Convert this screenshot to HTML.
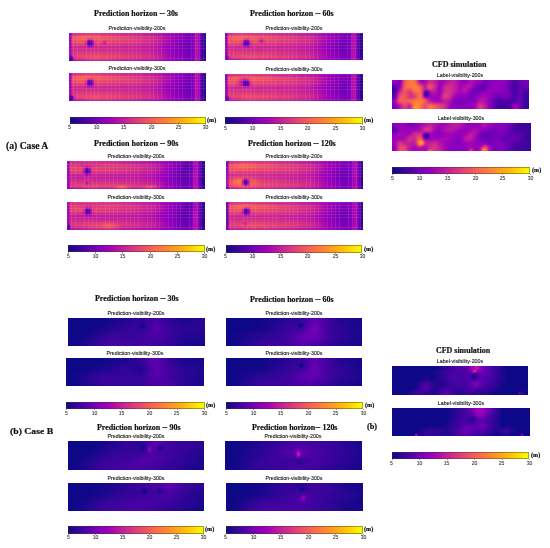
<!DOCTYPE html>
<html><head><meta charset="utf-8"><style>
html,body{margin:0;padding:0;background:#fff;}
body{width:550px;height:548px;position:relative;overflow:hidden;}
.hm{position:absolute;overflow:hidden;filter:blur(0.6px);}
.hm i{position:absolute;left:0;right:0;display:block;}
.mesh{position:absolute;left:0;top:0;right:0;bottom:0;background:repeating-linear-gradient(90deg,rgba(255,170,220,0.12) 0 0.8px,transparent 0.8px 4.2px),repeating-linear-gradient(180deg,rgba(255,170,220,0.12) 0 0.8px,transparent 0.8px 3.1px);}
.cb{position:absolute;box-sizing:border-box;background-origin:border-box;border:0.6px solid rgba(60,60,40,0.45);}

.tm{position:absolute;width:0.5px;height:1.2px;background:#999;}
.tk,.mu,.ti,.su,.lb{position:absolute;line-height:1;white-space:nowrap;transform-origin:0 0;will-change:transform;}
.tk{text-align:center;font-family:"Liberation Sans",sans-serif;color:#333;-webkit-text-stroke:0.8px #333;}
.mu{font-weight:bold;font-family:"Liberation Serif",serif;color:#111;-webkit-text-stroke:2.0px #111;}
.ti{font-weight:bold;font-family:"Liberation Serif",serif;color:#111;-webkit-text-stroke:2.0px #111;}
.su{text-align:center;font-family:"Liberation Sans",sans-serif;color:#111;-webkit-text-stroke:1.0px #111;}
.lb{font-weight:bold;font-family:"Liberation Serif",serif;color:#111;-webkit-text-stroke:2.0px #111;}
</style></head><body>
<div class="hm" style="left:69px;top:32.5px;width:136.7px;height:28.3px"><i style="top:0.00%;height:3.97%;background:linear-gradient(90deg,#5f00b0 0.4%,#8800bd 1.1%,#a907b3 1.8%,#c31f9b 2.6%,#d12d8b 9.9%,#ce2b8e 30.3%,#c21e9c 50.0%,#9a00bb 74.8%,#7400b9 90.1%,#8200bd 90.9%,#9d00ba 91.6%,#b10eac 92.3%,#b613a8 93.8%,#8f00bd 95.3%,#7800ba 96.0%,#5f00b0 96.7%,#2f0596 97.4%,#2c0594 99.6%)"></i><i style="top:3.57%;height:3.97%;background:linear-gradient(90deg,#6100b1 0.4%,#8d00bd 1.1%,#b20fab 1.8%,#d12d8b 2.6%,#e03f77 9.9%,#c01c9e 58.0%,#9600bc 77.0%,#7400b9 90.1%,#8200bd 90.9%,#9d00ba 91.6%,#b10eac 92.3%,#b613a8 93.8%,#8f00bd 95.3%,#7800ba 96.0%,#5f00b0 96.7%,#2f0596 97.4%,#2c0594 99.6%)"></i><i style="top:7.14%;height:3.97%;background:linear-gradient(90deg,#6300b2 0.4%,#9300bd 1.1%,#bb18a3 1.8%,#dc3a7c 2.6%,#ec5065 9.9%,#e94b6a 17.9%,#c52198 60.9%,#9b00bb 76.3%,#7400b9 90.1%,#8200bd 90.9%,#9d00ba 91.6%,#b10eac 92.3%,#b613a8 93.8%,#8f00bd 95.3%,#7800ba 96.0%,#5f00b0 96.7%,#2f0596 97.4%,#2c0594 99.6%)"></i><i style="top:10.71%;height:3.97%;background:linear-gradient(90deg,#6500b3 0.4%,#9800bc 1.1%,#e7486d 2.6%,#f86253 10.6%,#cb2792 62.4%,#9800bc 77.7%,#7200b9 90.1%,#9d00ba 91.6%,#b10eac 92.3%,#b613a8 93.8%,#8f00bd 95.3%,#7800ba 96.0%,#5f00b0 96.7%,#2f0596 97.4%,#2c0594 99.6%)"></i><i style="top:14.29%;height:3.97%;background:linear-gradient(90deg,#6700b4 0.4%,#9b00bb 1.1%,#ee5263 2.6%,#fe6e48 9.9%,#f35b5a 15.7%,#f76154 20.1%,#d22e8a 61.7%,#9a00bb 77.7%,#7200b9 90.1%,#9d00ba 91.6%,#b10eac 92.3%,#b613a8 93.8%,#8f00bd 95.3%,#7800ba 96.0%,#5f00b0 96.7%,#2f0596 97.4%,#2c0594 99.6%)"></i><i style="top:17.86%;height:3.97%;background:linear-gradient(90deg,#6c00b6 0.4%,#9b00bb 1.1%,#ed5164 2.6%,#fa674e 9.9%,#f76154 12.0%,#e5466f 15.7%,#f3595c 18.6%,#f35b5a 21.5%,#d12d8b 61.7%,#a001b8 75.5%,#7200b9 90.1%,#9d00ba 91.6%,#b10eac 92.3%,#b613a8 93.8%,#8f00bd 95.3%,#7800ba 96.0%,#5f00b0 96.7%,#2f0596 97.4%,#2c0594 99.6%)"></i><i style="top:21.43%;height:3.97%;background:linear-gradient(90deg,#7000b8 0.4%,#9b00bb 1.1%,#ec5065 2.6%,#f76154 10.6%,#f1575e 12.0%,#ca2693 15.0%,#c92594 15.7%,#ec5065 18.6%,#f1575e 20.8%,#cf2c8c 61.7%,#9a00bb 77.0%,#7800ba 85.8%,#7200b9 90.1%,#9d00ba 91.6%,#b10eac 92.3%,#b613a8 93.8%,#8f00bd 95.3%,#7800ba 96.0%,#5f00b0 96.7%,#2f0596 97.4%,#2c0594 99.6%)"></i><i style="top:25.00%;height:3.97%;background:linear-gradient(90deg,#7600ba 0.4%,#9d00ba 1.1%,#ea4d68 2.6%,#ed5164 3.3%,#f45c59 9.9%,#f0565f 11.3%,#de3c7a 12.8%,#ae0caf 14.2%,#9a00bb 15.0%,#9600bc 15.7%,#a907b3 16.4%,#d73483 17.9%,#e44571 18.6%,#ed5164 20.1%,#eb4e67 23.7%,#e24273 25.9%,#e84a6c 29.6%,#db397e 50.7%,#cd298f 62.4%,#9800bc 77.0%,#7c00bb 84.3%,#7200b9 90.1%,#9d00ba 91.6%,#b10eac 92.3%,#b613a8 93.8%,#8f00bd 95.3%,#7800ba 96.0%,#5f00b0 96.7%,#2f0596 97.4%,#2c0594 99.6%)"></i><i style="top:28.57%;height:3.97%;background:linear-gradient(90deg,#7a00bb 0.4%,#9d00ba 1.1%,#ea4c69 2.6%,#ec5065 3.3%,#f0565f 9.9%,#e24175 12.0%,#ce2b8e 12.8%,#ab0ab1 13.5%,#7a00bb 14.2%,#5200a9 15.0%,#4e01a7 15.7%,#6e00b7 16.4%,#a102b7 17.2%,#c62297 17.9%,#db397e 18.6%,#ea4c69 20.1%,#e84a6c 23.7%,#cf2c8c 25.9%,#e5466f 28.8%,#db397e 50.0%,#cc2890 62.4%,#9a00bb 76.3%,#7200b9 88.7%,#7200b9 90.1%,#9d00ba 91.6%,#b10eac 92.3%,#b613a8 93.8%,#8f00bd 95.3%,#7800ba 96.0%,#5f00b0 96.7%,#2f0596 97.4%,#2c0594 99.6%)"></i><i style="top:32.14%;height:3.97%;background:linear-gradient(90deg,#8000bc 0.4%,#9d00ba 1.1%,#e94b6a 2.6%,#ed5164 9.1%,#e6476e 11.3%,#da387f 12.0%,#c21e9c 12.8%,#9300bd 13.5%,#5000a8 14.2%,#240691 15.0%,#1d068e 15.7%,#4502a1 16.4%,#8600bd 17.2%,#b814a6 17.9%,#d43087 18.6%,#e6476e 20.1%,#e44571 23.7%,#be1aa0 25.9%,#e14076 28.1%,#e24273 28.8%,#da387f 50.0%,#cb2792 62.4%,#9b00bb 75.5%,#7200b9 86.5%,#7200b9 90.1%,#9d00ba 91.6%,#b10eac 92.3%,#b613a8 93.8%,#8f00bd 95.3%,#7800ba 96.0%,#5f00b0 96.7%,#2f0596 97.4%,#2c0594 99.6%)"></i><i style="top:35.71%;height:3.97%;background:linear-gradient(90deg,#8400bd 0.4%,#9d00ba 1.1%,#e34472 2.6%,#e7486d 9.9%,#e14076 11.3%,#d53286 12.0%,#bb18a3 12.8%,#8c00bd 13.5%,#4a01a5 14.2%,#20068f 15.0%,#19068c 15.7%,#40039e 16.4%,#7e00bc 17.2%,#b20fab 17.9%,#ce2b8e 18.6%,#dc3a7c 19.3%,#e24273 20.8%,#e03f77 23.7%,#c31f9b 25.9%,#dd3b7b 28.1%,#df3e78 28.8%,#d73483 49.3%,#ca2693 61.7%,#9800bc 75.5%,#7000b8 86.5%,#7200b9 90.1%,#9d00ba 91.6%,#b10eac 92.3%,#b613a8 93.8%,#8f00bd 95.3%,#7800ba 96.0%,#5f00b0 96.7%,#2f0596 97.4%,#2c0594 99.6%)"></i><i style="top:39.29%;height:3.97%;background:linear-gradient(90deg,#8800bd 0.4%,#9e00b9 1.1%,#de3c7a 2.6%,#e03f77 3.3%,#e14076 9.9%,#db397e 11.3%,#bd19a1 12.8%,#9a00bb 13.5%,#6500b3 14.2%,#41039f 15.0%,#3e039d 15.7%,#5b00ae 16.4%,#8f00bd 17.2%,#b512a9 17.9%,#cc2890 18.6%,#d73483 19.3%,#dd3b7b 20.8%,#dc3a7c 23.7%,#cf2c8c 25.9%,#da387f 29.6%,#d32f88 48.5%,#c4209a 62.4%,#9800bc 74.8%,#6e00b7 86.5%,#7200b9 90.1%,#9d00ba 91.6%,#b10eac 92.3%,#b613a8 93.8%,#8f00bd 95.3%,#7800ba 96.0%,#5f00b0 96.7%,#2f0596 97.4%,#2c0594 99.6%)"></i><i style="top:42.86%;height:3.97%;background:linear-gradient(90deg,#8c00bd 0.4%,#9e00b9 1.1%,#d73483 2.6%,#d93680 3.3%,#d53286 11.3%,#c21e9c 12.8%,#8f00bd 14.2%,#7600ba 15.0%,#7400b9 15.7%,#8800bd 16.4%,#a605b5 17.2%,#cb2792 18.6%,#d73483 20.8%,#c31f9b 60.9%,#9800bc 74.1%,#6c00b6 86.5%,#7200b9 90.1%,#9d00ba 91.6%,#b10eac 92.3%,#b613a8 93.8%,#8f00bd 95.3%,#7800ba 96.0%,#5f00b0 96.7%,#2f0596 97.4%,#2c0594 99.6%)"></i><i style="top:46.43%;height:3.97%;background:linear-gradient(90deg,#8f00bd 0.4%,#9e00b9 1.1%,#cf2c8c 2.6%,#d22e8a 3.3%,#cf2c8c 11.3%,#c4209a 12.8%,#ab0ab1 14.2%,#a001b8 15.7%,#ca2693 18.6%,#d12d8b 20.8%,#c92594 50.0%,#bd19a1 62.4%,#9500bc 74.1%,#6b00b5 86.5%,#7200b9 90.1%,#9d00ba 91.6%,#b10eac 92.3%,#b613a8 93.8%,#8f00bd 95.3%,#7800ba 96.0%,#5f00b0 96.7%,#2f0596 97.4%,#2c0594 99.6%)"></i><i style="top:50.00%;height:3.97%;background:linear-gradient(90deg,#9300bd 0.4%,#9e00b9 1.1%,#c92594 2.6%,#ca2693 3.3%,#c92594 11.3%,#b411aa 15.0%,#c92594 20.1%,#c4209a 49.3%,#b915a5 62.4%,#a102b7 69.7%,#9100bd 74.1%,#6900b5 85.8%,#7200b9 90.1%,#9d00ba 91.6%,#b10eac 92.3%,#b613a8 93.8%,#8f00bd 95.3%,#7800ba 96.0%,#5f00b0 96.7%,#2f0596 97.4%,#2c0594 99.6%)"></i><i style="top:53.57%;height:3.97%;background:linear-gradient(90deg,#9300bd 0.4%,#a001b8 1.1%,#cb2792 2.6%,#cc2890 3.3%,#cc2890 11.3%,#c4209a 15.0%,#cc2890 19.3%,#c62297 50.0%,#bb18a3 62.4%,#9600bc 73.4%,#6b00b5 86.5%,#7200b9 90.1%,#9d00ba 91.6%,#b10eac 92.3%,#b613a8 93.8%,#8f00bd 95.3%,#7800ba 96.0%,#5f00b0 96.7%,#2f0596 97.4%,#2c0594 99.6%)"></i><i style="top:57.14%;height:7.54%;background:linear-gradient(90deg,#9400bd 0.4%,#a202b7 1.1%,#d12e8a 2.6%,#d22f89 3.3%,#cc2891 49.3%,#bf1b9f 62.4%,#9500bc 74.8%,#6d00b7 86.5%,#7200b9 90.1%,#9d00ba 91.6%,#b10eac 92.3%,#b613a8 93.8%,#8f00bd 95.3%,#7800ba 96.0%,#5f00b0 96.7%,#2f0596 97.4%,#2c0594 99.6%)"></i><i style="top:64.29%;height:7.54%;background:linear-gradient(90deg,#9400bd 0.4%,#a404b6 1.1%,#d73582 2.6%,#d93780 4.0%,#d63384 36.9%,#c62297 61.7%,#9900bb 74.8%,#7100b8 86.5%,#7200b9 90.1%,#9d00ba 91.6%,#b10eac 92.3%,#b613a8 93.8%,#8f00bd 95.3%,#7800ba 96.0%,#5f00b0 96.7%,#2f0596 97.4%,#2c0594 99.6%)"></i><i style="top:71.43%;height:7.54%;background:linear-gradient(90deg,#8c00bd 0.4%,#a101b8 1.1%,#db397e 2.6%,#df3e78 6.2%,#e14076 25.9%,#cc2890 60.9%,#9700bc 76.3%,#7500ba 86.5%,#7200b9 90.1%,#9d00ba 91.6%,#b10eac 92.3%,#b613a8 93.8%,#8f00bd 95.3%,#7800ba 96.0%,#5f00b0 96.7%,#2f0596 97.4%,#2c0594 99.6%)"></i><i style="top:78.57%;height:3.97%;background:linear-gradient(90deg,#7e00bc 0.4%,#9100bd 1.1%,#b20fab 1.8%,#d43087 2.6%,#e24175 4.7%,#e94b6a 20.8%,#da387f 51.5%,#cd298f 62.4%,#9a00bb 76.3%,#7200b9 90.1%,#9d00ba 91.6%,#b10eac 92.3%,#b613a8 93.8%,#8f00bd 95.3%,#7800ba 96.0%,#5f00b0 96.7%,#2f0596 97.4%,#2c0594 99.6%)"></i><i style="top:82.14%;height:3.97%;background:linear-gradient(90deg,#6b00b5 0.4%,#7000b8 1.1%,#9100bd 1.8%,#bf1b9f 2.6%,#d43087 3.3%,#df3e78 4.0%,#e5466f 5.5%,#ed5164 20.1%,#de3c7a 50.0%,#cf2c8c 62.4%,#9b00bb 76.3%,#7200b9 90.1%,#9d00ba 91.6%,#b10eac 92.3%,#b613a8 93.8%,#8f00bd 95.3%,#7800ba 96.0%,#5f00b0 96.7%,#2f0596 97.4%,#2c0594 99.6%)"></i><i style="top:85.71%;height:3.97%;background:linear-gradient(90deg,#4e01a7 0.4%,#41039f 1.1%,#4e01a7 1.8%,#8d00bd 2.6%,#be1aa0 3.3%,#d53286 4.0%,#dd3b7b 4.7%,#e94b6a 20.1%,#d93680 50.7%,#cb2792 62.4%,#9a00bb 76.3%,#7200b9 90.1%,#9d00ba 91.6%,#b10eac 92.3%,#b613a8 93.8%,#8f00bd 95.3%,#7800ba 96.0%,#5f00b0 96.7%,#2f0596 97.4%,#2c0594 99.6%)"></i><i style="top:89.29%;height:3.97%;background:linear-gradient(90deg,#3c049c 0.4%,#260591 1.1%,#240691 1.8%,#6100b1 2.6%,#a706b4 3.3%,#c62297 4.0%,#d22e8a 4.7%,#e14076 20.1%,#c52198 61.7%,#9600bc 76.3%,#7200b9 90.1%,#9d00ba 91.6%,#b10eac 92.3%,#b613a8 93.8%,#8f00bd 95.3%,#7800ba 96.0%,#5f00b0 96.7%,#2f0596 97.4%,#2c0594 99.6%)"></i><i style="top:92.86%;height:3.97%;background:linear-gradient(90deg,#3a049b 0.4%,#2e0595 1.1%,#310597 1.8%,#6500b3 2.6%,#a102b7 3.3%,#bd19a1 4.0%,#c62297 4.7%,#d83582 20.1%,#be1aa0 60.9%,#9500bc 75.5%,#7200b9 90.1%,#9d00ba 91.6%,#b10eac 92.3%,#b613a8 93.8%,#8f00bd 95.3%,#7800ba 96.0%,#5f00b0 96.7%,#2f0596 97.4%,#2c0594 99.6%)"></i><i style="top:96.43%;height:3.97%;background:linear-gradient(90deg,#4302a0 0.4%,#5b00ae 1.8%,#8400bd 2.6%,#a404b6 3.3%,#ba16a4 4.7%,#ce2b8e 20.1%,#b613a8 60.2%,#9100bd 75.5%,#7200b9 90.1%,#9d00ba 91.6%,#b10eac 92.3%,#b613a8 93.8%,#8f00bd 95.3%,#7800ba 96.0%,#5f00b0 96.7%,#2f0596 97.4%,#2c0594 99.6%)"></i><b class="mesh"></b></div>
<div class="su" style="left:86.35px;top:25.58px;width:1000px;font-size:52.0px;transform:scale(0.1020,0.1)">Prediction-visibility-200s</div>
<div class="hm" style="left:69px;top:73.2px;width:136.7px;height:28.1px"><i style="top:0.00%;height:3.97%;background:linear-gradient(90deg,#5f00b0 0.4%,#8800bd 1.1%,#a907b3 1.8%,#c31f9b 2.6%,#d12d8b 9.9%,#ce2b8e 30.3%,#c21e9c 50.0%,#9a00bb 74.8%,#7400b9 90.1%,#8200bd 90.9%,#9d00ba 91.6%,#b10eac 92.3%,#b613a8 93.8%,#8f00bd 95.3%,#7800ba 96.0%,#5f00b0 96.7%,#2f0596 97.4%,#2c0594 99.6%)"></i><i style="top:3.57%;height:3.97%;background:linear-gradient(90deg,#6100b1 0.4%,#8d00bd 1.1%,#b20fab 1.8%,#d12d8b 2.6%,#e03f77 9.9%,#c01c9e 58.0%,#9600bc 77.0%,#7400b9 90.1%,#8200bd 90.9%,#9d00ba 91.6%,#b10eac 92.3%,#b613a8 93.8%,#8f00bd 95.3%,#7800ba 96.0%,#5f00b0 96.7%,#2f0596 97.4%,#2c0594 99.6%)"></i><i style="top:7.14%;height:3.97%;background:linear-gradient(90deg,#6300b2 0.4%,#9300bd 1.1%,#bb18a3 1.8%,#dc3a7c 2.6%,#ec5065 9.9%,#e84a6c 19.3%,#c4209a 61.7%,#9b00bb 76.3%,#7400b9 90.1%,#8200bd 90.9%,#9d00ba 91.6%,#b10eac 92.3%,#b613a8 93.8%,#8f00bd 95.3%,#7800ba 96.0%,#5f00b0 96.7%,#2f0596 97.4%,#2c0594 99.6%)"></i><i style="top:10.71%;height:3.97%;background:linear-gradient(90deg,#6500b3 0.4%,#9800bc 1.1%,#e7486d 2.6%,#f86253 10.6%,#cb2792 62.4%,#9800bc 77.7%,#7200b9 90.1%,#9d00ba 91.6%,#b10eac 92.3%,#b613a8 93.8%,#8f00bd 95.3%,#7800ba 96.0%,#5f00b0 96.7%,#2f0596 97.4%,#2c0594 99.6%)"></i><i style="top:14.29%;height:3.97%;background:linear-gradient(90deg,#6700b4 0.4%,#9b00bb 1.1%,#ee5263 2.6%,#fd6d49 10.6%,#f1575e 15.7%,#f76154 20.1%,#d22e8a 61.7%,#9a00bb 77.7%,#7200b9 90.1%,#9d00ba 91.6%,#b10eac 92.3%,#b613a8 93.8%,#8f00bd 95.3%,#7800ba 96.0%,#5f00b0 96.7%,#2f0596 97.4%,#2c0594 99.6%)"></i><i style="top:17.86%;height:3.97%;background:linear-gradient(90deg,#6c00b6 0.4%,#9b00bb 1.1%,#ed5164 2.6%,#fa674e 9.9%,#f66055 12.0%,#e03f77 15.7%,#f2585d 18.6%,#f35b5a 21.5%,#d12d8b 61.7%,#a001b8 75.5%,#7200b9 90.1%,#9d00ba 91.6%,#b10eac 92.3%,#b613a8 93.8%,#8f00bd 95.3%,#7800ba 96.0%,#5f00b0 96.7%,#2f0596 97.4%,#2c0594 99.6%)"></i><i style="top:21.43%;height:3.97%;background:linear-gradient(90deg,#7000b8 0.4%,#9b00bb 1.1%,#ec5065 2.6%,#f76154 9.9%,#f55d58 11.3%,#e84a6c 12.8%,#c01c9e 15.0%,#be1aa0 15.7%,#eb4e67 18.6%,#f1575e 20.8%,#cf2c8c 61.7%,#9a00bb 77.0%,#7800ba 85.8%,#7200b9 90.1%,#9d00ba 91.6%,#b10eac 92.3%,#b613a8 93.8%,#8f00bd 95.3%,#7800ba 96.0%,#5f00b0 96.7%,#2f0596 97.4%,#2c0594 99.6%)"></i><i style="top:25.00%;height:3.97%;background:linear-gradient(90deg,#7600ba 0.4%,#9d00ba 1.1%,#ea4d68 2.6%,#ed5164 3.3%,#f45c59 9.9%,#ef5560 11.3%,#da387f 12.8%,#a303b7 14.2%,#8600bd 15.0%,#8200bd 15.7%,#9b00bb 16.4%,#d43087 17.9%,#e24273 18.6%,#ed5164 20.1%,#db397e 50.7%,#cd298f 62.4%,#9800bc 77.0%,#7c00bb 84.3%,#7200b9 90.1%,#9d00ba 91.6%,#b10eac 92.3%,#b613a8 93.8%,#8f00bd 95.3%,#7800ba 96.0%,#5f00b0 96.7%,#2f0596 97.4%,#2c0594 99.6%)"></i><i style="top:28.57%;height:3.97%;background:linear-gradient(90deg,#7a00bb 0.4%,#9d00ba 1.1%,#ea4c69 2.6%,#ec5065 3.3%,#f0565f 9.9%,#ea4d68 11.3%,#e14076 12.0%,#cb2792 12.8%,#a404b6 13.5%,#6b00b5 14.2%,#41039f 15.0%,#3e039d 15.7%,#6100b1 16.4%,#9a00bb 17.2%,#c31f9b 17.9%,#da387f 18.6%,#ea4c69 20.1%,#db397e 50.0%,#cc2890 62.4%,#9a00bb 76.3%,#7200b9 88.7%,#7200b9 90.1%,#9d00ba 91.6%,#b10eac 92.3%,#b613a8 93.8%,#8f00bd 95.3%,#7800ba 96.0%,#5f00b0 96.7%,#2f0596 97.4%,#2c0594 99.6%)"></i><i style="top:32.14%;height:3.97%;background:linear-gradient(90deg,#8000bc 0.4%,#9d00ba 1.1%,#e94b6a 2.6%,#ed5164 9.1%,#e6476e 11.3%,#da387f 12.0%,#c01c9e 12.8%,#9100bd 13.5%,#4c01a6 14.2%,#1d068e 15.0%,#16078a 15.7%,#40039e 16.4%,#8200bd 17.2%,#b613a8 17.9%,#d43087 18.6%,#e6476e 20.1%,#da387f 50.0%,#cb2792 62.4%,#9b00bb 75.5%,#7200b9 86.5%,#7200b9 90.1%,#9d00ba 91.6%,#b10eac 92.3%,#b613a8 93.8%,#8f00bd 95.3%,#7800ba 96.0%,#5f00b0 96.7%,#2f0596 97.4%,#2c0594 99.6%)"></i><i style="top:35.71%;height:3.97%;background:linear-gradient(90deg,#8400bd 0.4%,#9d00ba 1.1%,#e34472 2.6%,#e7486d 9.9%,#e14076 11.3%,#d53286 12.0%,#bd19a1 12.8%,#8f00bd 13.5%,#5000a8 14.2%,#260591 15.0%,#220690 15.7%,#4502a1 16.4%,#8200bd 17.2%,#b411aa 17.9%,#cf2c8c 18.6%,#dc3a7c 19.3%,#e24273 20.8%,#d73483 49.3%,#ca2693 61.7%,#9800bc 75.5%,#7000b8 86.5%,#7200b9 90.1%,#9d00ba 91.6%,#b10eac 92.3%,#b613a8 93.8%,#8f00bd 95.3%,#7800ba 96.0%,#5f00b0 96.7%,#2f0596 97.4%,#2c0594 99.6%)"></i><i style="top:39.29%;height:3.97%;background:linear-gradient(90deg,#8800bd 0.4%,#9e00b9 1.1%,#de3c7a 2.6%,#e03f77 3.3%,#e14076 9.9%,#db397e 11.3%,#bf1b9f 12.8%,#a001b8 13.5%,#7200b9 14.2%,#5000a8 15.0%,#4e01a7 15.7%,#6900b5 16.4%,#9600bc 17.2%,#b915a5 17.9%,#cd298f 18.6%,#dc3a7c 20.1%,#d32f88 48.5%,#c4209a 62.4%,#9800bc 74.8%,#6e00b7 86.5%,#7200b9 90.1%,#9d00ba 91.6%,#b10eac 92.3%,#b613a8 93.8%,#8f00bd 95.3%,#7800ba 96.0%,#5f00b0 96.7%,#2f0596 97.4%,#2c0594 99.6%)"></i><i style="top:42.86%;height:3.97%;background:linear-gradient(90deg,#8c00bd 0.4%,#9e00b9 1.1%,#d73483 2.6%,#d93680 3.3%,#d63384 11.3%,#c4209a 12.8%,#9b00bb 14.2%,#8800bd 15.0%,#8400bd 15.7%,#9600bc 16.4%,#c01c9e 17.9%,#d32f88 19.3%,#d73483 20.8%,#c31f9b 60.9%,#9800bc 74.1%,#6c00b6 86.5%,#7200b9 90.1%,#9d00ba 91.6%,#b10eac 92.3%,#b613a8 93.8%,#8f00bd 95.3%,#7800ba 96.0%,#5f00b0 96.7%,#2f0596 97.4%,#2c0594 99.6%)"></i><i style="top:46.43%;height:3.97%;background:linear-gradient(90deg,#8f00bd 0.4%,#9e00b9 1.1%,#cf2c8c 2.6%,#d22e8a 3.3%,#cf2c8c 11.3%,#aa09b2 15.0%,#b00dad 16.4%,#cb2792 18.6%,#d12d8b 20.8%,#c92594 50.0%,#bd19a1 62.4%,#9500bc 74.1%,#6b00b5 86.5%,#7200b9 90.1%,#9d00ba 91.6%,#b10eac 92.3%,#b613a8 93.8%,#8f00bd 95.3%,#7800ba 96.0%,#5f00b0 96.7%,#2f0596 97.4%,#2c0594 99.6%)"></i><i style="top:50.00%;height:3.97%;background:linear-gradient(90deg,#9300bd 0.4%,#9e00b9 1.1%,#c92594 2.6%,#ca2693 3.3%,#c92594 11.3%,#b915a5 15.0%,#c92594 19.3%,#c4209a 49.3%,#b915a5 62.4%,#a102b7 69.7%,#9100bd 74.1%,#6900b5 85.8%,#7200b9 90.1%,#9d00ba 91.6%,#b10eac 92.3%,#b613a8 93.8%,#8f00bd 95.3%,#7800ba 96.0%,#5f00b0 96.7%,#2f0596 97.4%,#2c0594 99.6%)"></i><i style="top:53.57%;height:3.97%;background:linear-gradient(90deg,#9300bd 0.4%,#a001b8 1.1%,#cb2792 2.6%,#cc2890 3.3%,#c62297 50.0%,#bb18a3 62.4%,#9600bc 73.4%,#6b00b5 86.5%,#7200b9 90.1%,#9d00ba 91.6%,#b10eac 92.3%,#b613a8 93.8%,#8f00bd 95.3%,#7800ba 96.0%,#5f00b0 96.7%,#2f0596 97.4%,#2c0594 99.6%)"></i><i style="top:57.14%;height:7.54%;background:linear-gradient(90deg,#9400bd 0.4%,#a202b7 1.1%,#d12e8a 2.6%,#d22f89 3.3%,#cc2891 49.3%,#bf1b9f 62.4%,#9500bc 74.8%,#6d00b7 86.5%,#7200b9 90.1%,#9d00ba 91.6%,#b10eac 92.3%,#b613a8 93.8%,#8f00bd 95.3%,#7800ba 96.0%,#5f00b0 96.7%,#2f0596 97.4%,#2c0594 99.6%)"></i><i style="top:64.29%;height:7.54%;background:linear-gradient(90deg,#9400bd 0.4%,#a404b6 1.1%,#d73582 2.6%,#d93680 3.3%,#d63384 36.9%,#c62297 61.7%,#9900bb 74.8%,#7100b8 86.5%,#7200b9 90.1%,#9d00ba 91.6%,#b10eac 92.3%,#b613a8 93.8%,#8f00bd 95.3%,#7800ba 96.0%,#5f00b0 96.7%,#2f0596 97.4%,#2c0594 99.6%)"></i><i style="top:71.43%;height:7.54%;background:linear-gradient(90deg,#8c00bd 0.4%,#9e01b9 1.1%,#d83582 2.6%,#df3e78 6.2%,#e14076 25.9%,#cc2890 60.9%,#9700bc 76.3%,#7500ba 86.5%,#7200b9 90.1%,#9d00ba 91.6%,#b10eac 92.3%,#b613a8 93.8%,#8f00bd 95.3%,#7800ba 96.0%,#5f00b0 96.7%,#2f0596 97.4%,#2c0594 99.6%)"></i><i style="top:78.57%;height:3.97%;background:linear-gradient(90deg,#7a00bb 0.4%,#8600bd 1.1%,#a102b7 1.8%,#c4209a 2.6%,#dd3b7b 4.0%,#e24273 5.5%,#e94b6a 20.8%,#da387f 51.5%,#cd298f 62.4%,#9a00bb 76.3%,#7200b9 90.1%,#9d00ba 91.6%,#b10eac 92.3%,#b613a8 93.8%,#8f00bd 95.3%,#7800ba 96.0%,#5f00b0 96.7%,#2f0596 97.4%,#2c0594 99.6%)"></i><i style="top:82.14%;height:3.97%;background:linear-gradient(90deg,#6700b4 0.4%,#5f00b0 1.1%,#6900b5 1.8%,#9a00bb 2.6%,#c01c9e 3.3%,#d83582 4.0%,#e44571 5.5%,#ed5164 20.1%,#de3c7a 50.0%,#cf2c8c 62.4%,#9b00bb 76.3%,#7200b9 90.1%,#9d00ba 91.6%,#b10eac 92.3%,#b613a8 93.8%,#8f00bd 95.3%,#7800ba 96.0%,#5f00b0 96.7%,#2f0596 97.4%,#2c0594 99.6%)"></i><i style="top:85.71%;height:3.97%;background:linear-gradient(90deg,#5000a8 0.4%,#2c0594 1.8%,#5500ab 2.6%,#a001b8 3.3%,#ca2693 4.0%,#da387f 4.7%,#e24175 7.7%,#e94b6a 20.1%,#d93680 50.7%,#cb2792 62.4%,#9a00bb 76.3%,#7200b9 90.1%,#9d00ba 91.6%,#b10eac 92.3%,#b613a8 93.8%,#8f00bd 95.3%,#7800ba 96.0%,#5f00b0 96.7%,#2f0596 97.4%,#2c0594 99.6%)"></i><i style="top:89.29%;height:3.97%;background:linear-gradient(90deg,#4702a3 0.4%,#20068f 1.8%,#4502a1 2.6%,#9100bd 3.3%,#be1aa0 4.0%,#ce2b8e 4.7%,#d73483 6.9%,#e14076 20.1%,#c52198 61.7%,#9600bc 76.3%,#7200b9 90.1%,#9d00ba 91.6%,#b10eac 92.3%,#b613a8 93.8%,#8f00bd 95.3%,#7800ba 96.0%,#5f00b0 96.7%,#2f0596 97.4%,#2c0594 99.6%)"></i><i style="top:92.86%;height:3.97%;background:linear-gradient(90deg,#4a01a5 0.4%,#4502a1 1.8%,#6900b5 2.6%,#9b00bb 3.3%,#b915a5 4.0%,#c52198 4.7%,#d83582 20.1%,#be1aa0 60.9%,#9500bc 75.5%,#7200b9 90.1%,#9d00ba 91.6%,#b10eac 92.3%,#b613a8 93.8%,#8f00bd 95.3%,#7800ba 96.0%,#5f00b0 96.7%,#2f0596 97.4%,#2c0594 99.6%)"></i><i style="top:96.43%;height:3.97%;background:linear-gradient(90deg,#4c01a6 0.4%,#6700b4 1.1%,#7400b9 1.8%,#9100bd 2.6%,#b411aa 4.0%,#ba16a4 4.7%,#ca2693 15.7%,#ce2b8e 20.1%,#b915a5 58.0%,#9100bd 75.5%,#7200b9 90.1%,#9d00ba 91.6%,#b10eac 92.3%,#b613a8 93.8%,#8f00bd 95.3%,#7800ba 96.0%,#5f00b0 96.7%,#2f0596 97.4%,#2c0594 99.6%)"></i><b class="mesh"></b></div>
<div class="su" style="left:86.35px;top:66.28px;width:1000px;font-size:52.0px;transform:scale(0.1020,0.1)">Prediction-visibility-300s</div>
<div class="hm" style="left:225.2px;top:32.7px;width:137.4px;height:27.8px"><i style="top:0.00%;height:3.97%;background:linear-gradient(90deg,#5f00b0 0.4%,#8800bd 1.1%,#a907b3 1.8%,#c31f9b 2.6%,#d12d8b 9.9%,#ce2b8e 30.3%,#c21e9c 50.0%,#9a00bb 74.8%,#7400b9 90.1%,#8200bd 90.9%,#9d00ba 91.6%,#b10eac 92.3%,#b613a8 93.8%,#8f00bd 95.3%,#7800ba 96.0%,#5f00b0 96.7%,#2f0596 97.4%,#2c0594 99.6%)"></i><i style="top:3.57%;height:3.97%;background:linear-gradient(90deg,#6100b1 0.4%,#8d00bd 1.1%,#b20fab 1.8%,#d12d8b 2.6%,#e03f77 9.9%,#c01c9e 58.0%,#9600bc 77.0%,#7400b9 90.1%,#8200bd 90.9%,#9d00ba 91.6%,#b10eac 92.3%,#b613a8 93.8%,#8f00bd 95.3%,#7800ba 96.0%,#5f00b0 96.7%,#2f0596 97.4%,#2c0594 99.6%)"></i><i style="top:7.14%;height:3.97%;background:linear-gradient(90deg,#6300b2 0.4%,#9300bd 1.1%,#bb18a3 1.8%,#dc3a7c 2.6%,#ec5065 9.9%,#e84a6c 19.3%,#c4209a 61.7%,#9b00bb 76.3%,#7400b9 90.1%,#8200bd 90.9%,#9d00ba 91.6%,#b10eac 92.3%,#b613a8 93.8%,#8f00bd 95.3%,#7800ba 96.0%,#5f00b0 96.7%,#2f0596 97.4%,#2c0594 99.6%)"></i><i style="top:10.71%;height:3.97%;background:linear-gradient(90deg,#6500b3 0.4%,#9800bc 1.1%,#e7486d 2.6%,#f86253 10.6%,#cb2792 62.4%,#9800bc 77.7%,#7200b9 90.1%,#9d00ba 91.6%,#b10eac 92.3%,#b613a8 93.8%,#8f00bd 95.3%,#7800ba 96.0%,#5f00b0 96.7%,#2f0596 97.4%,#2c0594 99.6%)"></i><i style="top:14.29%;height:3.97%;background:linear-gradient(90deg,#6700b4 0.4%,#9b00bb 1.1%,#ee5263 2.6%,#fe6e48 9.9%,#f35b5a 15.7%,#f76154 20.1%,#ed5164 26.6%,#d22e8a 61.7%,#9a00bb 77.7%,#7200b9 90.1%,#9d00ba 91.6%,#b10eac 92.3%,#b613a8 93.8%,#8f00bd 95.3%,#7800ba 96.0%,#5f00b0 96.7%,#2f0596 97.4%,#2c0594 99.6%)"></i><i style="top:17.86%;height:3.97%;background:linear-gradient(90deg,#6c00b6 0.4%,#9b00bb 1.1%,#ed5164 2.6%,#fa674e 10.6%,#e5466f 15.7%,#f45c59 20.1%,#f0565f 23.7%,#e24175 26.6%,#ec5065 29.6%,#d12d8b 61.7%,#a001b8 75.5%,#7200b9 90.1%,#9d00ba 91.6%,#b10eac 92.3%,#b613a8 93.8%,#8f00bd 95.3%,#7800ba 96.0%,#5f00b0 96.7%,#2f0596 97.4%,#2c0594 99.6%)"></i><i style="top:21.43%;height:3.97%;background:linear-gradient(90deg,#7000b8 0.4%,#9b00bb 1.1%,#ec5065 2.6%,#f76154 10.6%,#ec5065 12.8%,#cb2792 15.0%,#c92594 15.7%,#eb4e67 18.6%,#f1575e 20.8%,#ed5164 23.7%,#cd298f 26.6%,#e7486d 28.8%,#e94b6a 29.6%,#d22e8a 60.2%,#9a00bb 77.0%,#7800ba 85.8%,#7200b9 90.1%,#9d00ba 91.6%,#b10eac 92.3%,#b613a8 93.8%,#8f00bd 95.3%,#7800ba 96.0%,#5f00b0 96.7%,#2f0596 97.4%,#2c0594 99.6%)"></i><i style="top:25.00%;height:3.97%;background:linear-gradient(90deg,#7600ba 0.4%,#9d00ba 1.1%,#ea4d68 2.6%,#ed5164 3.3%,#f45c59 9.9%,#f0565f 11.3%,#e03f77 12.8%,#b20fab 14.2%,#9b00bb 15.0%,#9500bc 15.7%,#a404b6 16.4%,#d53286 17.9%,#e24273 18.6%,#ed5164 20.1%,#ea4c69 23.7%,#e24175 24.5%,#bf1b9f 25.9%,#b814a6 26.6%,#e24273 28.8%,#e7486d 30.3%,#db397e 50.7%,#cd298f 62.4%,#9800bc 77.0%,#7c00bb 84.3%,#7200b9 90.1%,#9d00ba 91.6%,#b10eac 92.3%,#b613a8 93.8%,#8f00bd 95.3%,#7800ba 96.0%,#5f00b0 96.7%,#2f0596 97.4%,#2c0594 99.6%)"></i><i style="top:28.57%;height:3.97%;background:linear-gradient(90deg,#7a00bb 0.4%,#9d00ba 1.1%,#ea4c69 2.6%,#ec5065 3.3%,#f0565f 9.9%,#e34472 12.0%,#d22e8a 12.8%,#b10eac 13.5%,#8000bc 14.2%,#5500ab 15.0%,#4c01a6 15.7%,#6900b5 16.4%,#9b00bb 17.2%,#c21e9c 17.9%,#d93680 18.6%,#e94b6a 20.1%,#e6476e 23.7%,#df3e78 24.5%,#bb18a3 25.9%,#b512a9 26.6%,#d53286 28.1%,#e34472 29.6%,#db397e 50.0%,#cc2890 62.4%,#9a00bb 76.3%,#7200b9 88.7%,#7200b9 90.1%,#9d00ba 91.6%,#b10eac 92.3%,#b613a8 93.8%,#8f00bd 95.3%,#7800ba 96.0%,#5f00b0 96.7%,#2f0596 97.4%,#2c0594 99.6%)"></i><i style="top:32.14%;height:3.97%;background:linear-gradient(90deg,#8000bc 0.4%,#9d00ba 1.1%,#e94b6a 2.6%,#ed5164 9.9%,#e7486d 11.3%,#dd3b7b 12.0%,#c62297 12.8%,#9b00bb 13.5%,#5900ad 14.2%,#280592 15.0%,#1b068d 15.7%,#3e039d 16.4%,#7c00bb 17.2%,#b20fab 17.9%,#d12d8b 18.6%,#e03f77 19.3%,#e7486d 20.8%,#e44571 23.7%,#c4209a 26.6%,#e24175 29.6%,#da387f 50.0%,#cb2792 62.4%,#9b00bb 75.5%,#7200b9 86.5%,#7200b9 90.1%,#9d00ba 91.6%,#b10eac 92.3%,#b613a8 93.8%,#8f00bd 95.3%,#7800ba 96.0%,#5f00b0 96.7%,#2f0596 97.4%,#2c0594 99.6%)"></i><i style="top:35.71%;height:3.97%;background:linear-gradient(90deg,#8400bd 0.4%,#9d00ba 1.1%,#e34472 2.6%,#e7486d 9.9%,#e24175 11.3%,#d73483 12.0%,#bf1b9f 12.8%,#9500bc 13.5%,#5400aa 14.2%,#240691 15.0%,#16078a 15.7%,#39049a 16.4%,#7400b9 17.2%,#ad0bb0 17.9%,#cb2792 18.6%,#da387f 19.3%,#e24273 20.8%,#df3e78 24.5%,#d32f88 26.6%,#de3c7a 31.0%,#ca2693 61.7%,#9800bc 75.5%,#7000b8 86.5%,#7200b9 90.1%,#9d00ba 91.6%,#b10eac 92.3%,#b613a8 93.8%,#8f00bd 95.3%,#7800ba 96.0%,#5f00b0 96.7%,#2f0596 97.4%,#2c0594 99.6%)"></i><i style="top:39.29%;height:3.97%;background:linear-gradient(90deg,#8800bd 0.4%,#9e00b9 1.1%,#de3c7a 2.6%,#e03f77 3.3%,#e14076 9.9%,#d32f88 12.0%,#c01c9e 12.8%,#9e00b9 13.5%,#6c00b6 14.2%,#4502a1 15.0%,#3e039d 15.7%,#5500ab 16.4%,#8800bd 17.2%,#b10eac 17.9%,#ca2693 18.6%,#d63384 19.3%,#dd3b7b 20.8%,#d32f88 48.5%,#c4209a 62.4%,#9800bc 74.8%,#6e00b7 86.5%,#7200b9 90.1%,#9d00ba 91.6%,#b10eac 92.3%,#b613a8 93.8%,#8f00bd 95.3%,#7800ba 96.0%,#5f00b0 96.7%,#2f0596 97.4%,#2c0594 99.6%)"></i><i style="top:42.86%;height:3.97%;background:linear-gradient(90deg,#8c00bd 0.4%,#9e00b9 1.1%,#d73483 2.6%,#d93680 3.3%,#d63384 11.3%,#c31f9b 12.8%,#9300bd 14.2%,#7800ba 15.0%,#7200b9 15.7%,#a102b7 17.2%,#ca2693 18.6%,#d73483 20.8%,#c31f9b 60.9%,#9800bc 74.1%,#6c00b6 86.5%,#7200b9 90.1%,#9d00ba 91.6%,#b10eac 92.3%,#b613a8 93.8%,#8f00bd 95.3%,#7800ba 96.0%,#5f00b0 96.7%,#2f0596 97.4%,#2c0594 99.6%)"></i><i style="top:46.43%;height:3.97%;background:linear-gradient(90deg,#8f00bd 0.4%,#9e00b9 1.1%,#cf2c8c 2.6%,#d22e8a 3.3%,#cf2c8c 11.3%,#c52198 12.8%,#ad0bb0 14.2%,#a001b8 15.7%,#c92594 18.6%,#d12d8b 20.8%,#c92594 50.0%,#bd19a1 62.4%,#9500bc 74.1%,#6b00b5 86.5%,#7200b9 90.1%,#9d00ba 91.6%,#b10eac 92.3%,#b613a8 93.8%,#8f00bd 95.3%,#7800ba 96.0%,#5f00b0 96.7%,#2f0596 97.4%,#2c0594 99.6%)"></i><i style="top:50.00%;height:3.97%;background:linear-gradient(90deg,#9300bd 0.4%,#9e00b9 1.1%,#c92594 2.6%,#ca2693 3.3%,#c92594 11.3%,#b411aa 15.7%,#c92594 20.1%,#c4209a 49.3%,#b915a5 62.4%,#a102b7 69.7%,#9100bd 74.1%,#6900b5 85.8%,#7200b9 90.1%,#9d00ba 91.6%,#b10eac 92.3%,#b613a8 93.8%,#8f00bd 95.3%,#7800ba 96.0%,#5f00b0 96.7%,#2f0596 97.4%,#2c0594 99.6%)"></i><i style="top:53.57%;height:3.97%;background:linear-gradient(90deg,#9300bd 0.4%,#a001b8 1.1%,#cb2792 2.6%,#cc2890 3.3%,#cc2890 11.3%,#c4209a 15.0%,#cc2890 19.3%,#c62297 50.0%,#bb18a3 62.4%,#9600bc 73.4%,#6b00b5 86.5%,#7200b9 90.1%,#9d00ba 91.6%,#b10eac 92.3%,#b613a8 93.8%,#8f00bd 95.3%,#7800ba 96.0%,#5f00b0 96.7%,#2f0596 97.4%,#2c0594 99.6%)"></i><i style="top:57.14%;height:7.54%;background:linear-gradient(90deg,#9400bd 0.4%,#a202b7 1.1%,#d12e8a 2.6%,#d22f89 3.3%,#cc2891 49.3%,#bf1b9f 62.4%,#9500bc 74.8%,#6d00b7 86.5%,#7200b9 90.1%,#9d00ba 91.6%,#b10eac 92.3%,#b613a8 93.8%,#8f00bd 95.3%,#7800ba 96.0%,#5f00b0 96.7%,#2f0596 97.4%,#2c0594 99.6%)"></i><i style="top:64.29%;height:7.54%;background:linear-gradient(90deg,#9400bd 0.4%,#a404b6 1.1%,#d73582 2.6%,#d93780 4.0%,#d63384 36.9%,#c62297 61.7%,#9900bb 74.8%,#7100b8 86.5%,#7200b9 90.1%,#9d00ba 91.6%,#b10eac 92.3%,#b613a8 93.8%,#8f00bd 95.3%,#7800ba 96.0%,#5f00b0 96.7%,#2f0596 97.4%,#2c0594 99.6%)"></i><i style="top:71.43%;height:7.54%;background:linear-gradient(90deg,#8c00bd 0.4%,#a102b7 1.1%,#db397e 2.6%,#df3e78 6.2%,#e14076 25.9%,#cc2890 60.9%,#9700bc 76.3%,#7500ba 86.5%,#7200b9 90.1%,#9d00ba 91.6%,#b10eac 92.3%,#b613a8 93.8%,#8f00bd 95.3%,#7800ba 96.0%,#5f00b0 96.7%,#2f0596 97.4%,#2c0594 99.6%)"></i><i style="top:78.57%;height:3.97%;background:linear-gradient(90deg,#8400bd 0.4%,#9800bc 1.1%,#b814a6 1.8%,#d73483 2.6%,#e14076 4.0%,#e6476e 10.6%,#e94b6a 20.8%,#d12d8b 60.2%,#9a00bb 76.3%,#7200b9 90.1%,#9d00ba 91.6%,#b10eac 92.3%,#b613a8 93.8%,#8f00bd 95.3%,#7800ba 96.0%,#5f00b0 96.7%,#2f0596 97.4%,#2c0594 99.6%)"></i><i style="top:82.14%;height:3.97%;background:linear-gradient(90deg,#7800ba 0.4%,#8800bd 1.1%,#a404b6 1.8%,#c92594 2.6%,#e14076 4.0%,#e5466f 5.5%,#ed5164 20.1%,#de3c7a 50.0%,#cf2c8c 62.4%,#9b00bb 76.3%,#7200b9 90.1%,#9d00ba 91.6%,#b10eac 92.3%,#b613a8 93.8%,#8f00bd 95.3%,#7800ba 96.0%,#5f00b0 96.7%,#2f0596 97.4%,#2c0594 99.6%)"></i><i style="top:85.71%;height:3.97%;background:linear-gradient(90deg,#6b00b5 0.4%,#7a00bb 1.8%,#a907b3 2.6%,#c82396 3.3%,#d73483 4.0%,#df3e78 5.5%,#e94b6a 20.1%,#da387f 49.3%,#cb2792 62.4%,#9a00bb 76.3%,#7200b9 90.1%,#9d00ba 91.6%,#b10eac 92.3%,#b613a8 93.8%,#8f00bd 95.3%,#7800ba 96.0%,#5f00b0 96.7%,#2f0596 97.4%,#2c0594 99.6%)"></i><i style="top:89.29%;height:3.97%;background:linear-gradient(90deg,#6100b1 0.4%,#5f00b0 1.8%,#8c00bd 2.6%,#b512a9 3.3%,#cb2792 4.0%,#d53286 5.5%,#e14076 20.1%,#d32f88 48.5%,#c52198 61.7%,#9600bc 76.3%,#7200b9 90.1%,#9d00ba 91.6%,#b10eac 92.3%,#b613a8 93.8%,#8f00bd 95.3%,#7800ba 96.0%,#5f00b0 96.7%,#2f0596 97.4%,#2c0594 99.6%)"></i><i style="top:92.86%;height:3.97%;background:linear-gradient(90deg,#5d00af 0.4%,#6500b3 1.8%,#8c00bd 2.6%,#ae0caf 3.3%,#c82396 4.7%,#d43087 15.0%,#d83582 20.1%,#be1aa0 60.9%,#9500bc 75.5%,#7200b9 90.1%,#9d00ba 91.6%,#b10eac 92.3%,#b613a8 93.8%,#8f00bd 95.3%,#7800ba 96.0%,#5f00b0 96.7%,#2f0596 97.4%,#2c0594 99.6%)"></i><i style="top:96.43%;height:3.97%;background:linear-gradient(90deg,#5700ac 0.4%,#7e00bc 1.8%,#9b00bb 2.6%,#b814a6 4.0%,#cc2890 17.9%,#c21e9c 50.0%,#b613a8 60.2%,#9100bd 75.5%,#7200b9 90.1%,#9d00ba 91.6%,#b10eac 92.3%,#b613a8 93.8%,#8f00bd 95.3%,#7800ba 96.0%,#5f00b0 96.7%,#2f0596 97.4%,#2c0594 99.6%)"></i><b class="mesh"></b></div>
<div class="su" style="left:242.90px;top:25.78px;width:1000px;font-size:52.0px;transform:scale(0.1020,0.1)">Prediction-visibility-200s</div>
<div class="hm" style="left:225.2px;top:73.6px;width:137.4px;height:27.8px"><i style="top:0.00%;height:3.97%;background:linear-gradient(90deg,#5f00b0 0.4%,#8800bd 1.1%,#a907b3 1.8%,#c31f9b 2.6%,#d12d8b 9.9%,#ce2b8e 30.3%,#c21e9c 50.0%,#9a00bb 74.8%,#7400b9 90.1%,#8200bd 90.9%,#9d00ba 91.6%,#b10eac 92.3%,#b613a8 93.8%,#8f00bd 95.3%,#7800ba 96.0%,#5f00b0 96.7%,#2f0596 97.4%,#2c0594 99.6%)"></i><i style="top:3.57%;height:3.97%;background:linear-gradient(90deg,#6100b1 0.4%,#8d00bd 1.1%,#b20fab 1.8%,#d12d8b 2.6%,#de3c7a 9.1%,#d93680 28.8%,#c01c9e 58.0%,#9600bc 77.0%,#7400b9 90.1%,#8200bd 90.9%,#9d00ba 91.6%,#b10eac 92.3%,#b613a8 93.8%,#8f00bd 95.3%,#7800ba 96.0%,#5f00b0 96.7%,#2f0596 97.4%,#2c0594 99.6%)"></i><i style="top:7.14%;height:3.97%;background:linear-gradient(90deg,#6300b2 0.4%,#9300bd 1.1%,#bb18a3 1.8%,#dc3a7c 2.6%,#e94b6a 8.4%,#e34472 12.8%,#e84a6c 19.3%,#c4209a 61.7%,#9b00bb 76.3%,#7400b9 90.1%,#8200bd 90.9%,#9d00ba 91.6%,#b10eac 92.3%,#b613a8 93.8%,#8f00bd 95.3%,#7800ba 96.0%,#5f00b0 96.7%,#2f0596 97.4%,#2c0594 99.6%)"></i><i style="top:10.71%;height:3.97%;background:linear-gradient(90deg,#6500b3 0.4%,#9800bc 1.1%,#e7486d 2.6%,#f3595c 7.7%,#f2585d 9.9%,#e5466f 13.5%,#f1575e 20.8%,#cb2792 62.4%,#9800bc 77.7%,#7200b9 90.1%,#9d00ba 91.6%,#b10eac 92.3%,#b613a8 93.8%,#8f00bd 95.3%,#7800ba 96.0%,#5f00b0 96.7%,#2f0596 97.4%,#2c0594 99.6%)"></i><i style="top:14.29%;height:3.97%;background:linear-gradient(90deg,#6700b4 0.4%,#9b00bb 1.1%,#ee5263 2.6%,#f86253 8.4%,#f45c59 9.9%,#df3e78 12.8%,#dc3a7c 14.2%,#f55d58 18.6%,#f66055 20.8%,#d22e8a 61.7%,#9a00bb 77.7%,#7200b9 90.1%,#9d00ba 91.6%,#b10eac 92.3%,#b613a8 93.8%,#8f00bd 95.3%,#7800ba 96.0%,#5f00b0 96.7%,#2f0596 97.4%,#2c0594 99.6%)"></i><i style="top:17.86%;height:3.97%;background:linear-gradient(90deg,#6c00b6 0.4%,#9b00bb 1.1%,#ed5164 2.6%,#f45c59 8.4%,#ed5164 9.9%,#c62297 13.5%,#c31f9b 15.0%,#c82396 15.7%,#ef5362 18.6%,#f35b5a 21.5%,#d12d8b 61.7%,#a001b8 75.5%,#7200b9 90.1%,#9d00ba 91.6%,#b10eac 92.3%,#b613a8 93.8%,#8f00bd 95.3%,#7800ba 96.0%,#5f00b0 96.7%,#2f0596 97.4%,#2c0594 99.6%)"></i><i style="top:21.43%;height:3.97%;background:linear-gradient(90deg,#7000b8 0.4%,#9b00bb 1.1%,#ec5065 2.6%,#f0565f 8.4%,#dd3b7b 10.6%,#ab0ab1 13.5%,#9800bc 15.0%,#9d00ba 15.7%,#ae0caf 16.4%,#da387f 17.9%,#e6476e 18.6%,#ef5560 20.1%,#ef5560 23.0%,#cf2c8c 61.7%,#9a00bb 77.0%,#7800ba 85.8%,#7200b9 90.1%,#9d00ba 91.6%,#b10eac 92.3%,#b613a8 93.8%,#8f00bd 95.3%,#7800ba 96.0%,#5f00b0 96.7%,#2f0596 97.4%,#2c0594 99.6%)"></i><i style="top:25.00%;height:3.97%;background:linear-gradient(90deg,#7600ba 0.4%,#9d00ba 1.1%,#ea4d68 2.6%,#ed5164 3.3%,#ef5362 7.7%,#e24175 9.9%,#b915a5 12.0%,#8f00bd 13.5%,#5d00af 15.0%,#5b00ae 15.7%,#7800ba 16.4%,#a404b6 17.2%,#c82396 17.9%,#dd3b7b 18.6%,#ec5065 20.1%,#db397e 50.7%,#cd298f 62.4%,#9800bc 77.0%,#7c00bb 84.3%,#7200b9 90.1%,#9d00ba 91.6%,#b10eac 92.3%,#b613a8 93.8%,#8f00bd 95.3%,#7800ba 96.0%,#5f00b0 96.7%,#2f0596 97.4%,#2c0594 99.6%)"></i><i style="top:28.57%;height:3.97%;background:linear-gradient(90deg,#7a00bb 0.4%,#9d00ba 1.1%,#ea4c69 2.6%,#ee5263 6.2%,#ea4c69 8.4%,#d32f88 10.6%,#9b00bb 12.8%,#7800ba 13.5%,#2f0596 15.0%,#2a0593 15.7%,#4702a3 16.4%,#8000bc 17.2%,#b512a9 17.9%,#d43087 18.6%,#e24273 19.3%,#e84a6c 20.1%,#db397e 50.0%,#cc2890 62.4%,#9a00bb 76.3%,#7200b9 88.7%,#7200b9 90.1%,#9d00ba 91.6%,#b10eac 92.3%,#b613a8 93.8%,#8f00bd 95.3%,#7800ba 96.0%,#5f00b0 96.7%,#2f0596 97.4%,#2c0594 99.6%)"></i><i style="top:32.14%;height:3.97%;background:linear-gradient(90deg,#8000bc 0.4%,#9d00ba 1.1%,#e94b6a 2.6%,#eb4e67 6.2%,#e24273 9.1%,#c52198 11.3%,#9a00bb 12.8%,#7000b8 13.5%,#1b068d 15.0%,#100788 15.7%,#330498 16.4%,#7000b8 17.2%,#ad0bb0 17.9%,#ce2b8e 18.6%,#de3c7a 19.3%,#e7486d 20.8%,#da387f 50.0%,#cb2792 62.4%,#9b00bb 75.5%,#7200b9 86.5%,#7200b9 90.1%,#9d00ba 91.6%,#b10eac 92.3%,#b613a8 93.8%,#8f00bd 95.3%,#7800ba 96.0%,#5f00b0 96.7%,#2f0596 97.4%,#2c0594 99.6%)"></i><i style="top:35.71%;height:3.97%;background:linear-gradient(90deg,#8400bd 0.4%,#9d00ba 1.1%,#e34472 2.6%,#e6476e 6.2%,#e03f77 9.1%,#ba16a4 12.0%,#a303b7 12.8%,#7e00bc 13.5%,#5000a8 14.2%,#2f0596 15.0%,#280592 15.7%,#4302a0 16.4%,#7a00bb 17.2%,#ae0caf 17.9%,#cc2890 18.6%,#da387f 19.3%,#e24273 20.8%,#d73483 49.3%,#ca2693 61.7%,#9800bc 75.5%,#7000b8 86.5%,#7200b9 90.1%,#9d00ba 91.6%,#b10eac 92.3%,#b613a8 93.8%,#8f00bd 95.3%,#7800ba 96.0%,#5f00b0 96.7%,#2f0596 97.4%,#2c0594 99.6%)"></i><i style="top:39.29%;height:3.97%;background:linear-gradient(90deg,#8800bd 0.4%,#9e00b9 1.1%,#de3c7a 2.6%,#e03f77 3.3%,#de3c7a 8.4%,#cc2890 11.3%,#b10eac 12.8%,#9800bc 13.5%,#5b00ae 15.0%,#5500ab 15.7%,#6c00b6 16.4%,#9600bc 17.2%,#b814a6 17.9%,#cc2890 18.6%,#d73483 19.3%,#dd3b7b 20.8%,#d32f88 48.5%,#c4209a 62.4%,#9800bc 74.8%,#6e00b7 86.5%,#7200b9 90.1%,#9d00ba 91.6%,#b10eac 92.3%,#b613a8 93.8%,#8f00bd 95.3%,#7800ba 96.0%,#5f00b0 96.7%,#2f0596 97.4%,#2c0594 99.6%)"></i><i style="top:42.86%;height:3.97%;background:linear-gradient(90deg,#8c00bd 0.4%,#9e00b9 1.1%,#d73483 2.6%,#d93680 3.3%,#d83582 8.4%,#cd298f 11.3%,#bd19a1 12.8%,#9e00b9 14.2%,#8f00bd 15.0%,#8d00bd 15.7%,#9b00bb 16.4%,#c01c9e 17.9%,#d63384 20.1%,#ce2b8e 47.8%,#c01c9e 62.4%,#9800bc 74.1%,#6c00b6 86.5%,#7200b9 90.1%,#9d00ba 91.6%,#b10eac 92.3%,#b613a8 93.8%,#8f00bd 95.3%,#7800ba 96.0%,#5f00b0 96.7%,#2f0596 97.4%,#2c0594 99.6%)"></i><i style="top:46.43%;height:3.97%;background:linear-gradient(90deg,#8f00bd 0.4%,#9e00b9 1.1%,#cf2c8c 2.6%,#d22e8a 3.3%,#ce2b8e 10.6%,#ae0caf 15.7%,#cb2792 18.6%,#d12d8b 20.8%,#c92594 50.0%,#bd19a1 62.4%,#9500bc 74.1%,#6b00b5 86.5%,#7200b9 90.1%,#9d00ba 91.6%,#b10eac 92.3%,#b613a8 93.8%,#8f00bd 95.3%,#7800ba 96.0%,#5f00b0 96.7%,#2f0596 97.4%,#2c0594 99.6%)"></i><i style="top:50.00%;height:3.97%;background:linear-gradient(90deg,#9300bd 0.4%,#9e00b9 1.1%,#c92594 2.6%,#ca2693 3.3%,#c82396 11.3%,#bb18a3 15.0%,#c92594 19.3%,#c4209a 49.3%,#b915a5 62.4%,#a102b7 69.7%,#9100bd 74.1%,#6900b5 85.8%,#7200b9 90.1%,#9d00ba 91.6%,#b10eac 92.3%,#b613a8 93.8%,#8f00bd 95.3%,#7800ba 96.0%,#5f00b0 96.7%,#2f0596 97.4%,#2c0594 99.6%)"></i><i style="top:53.57%;height:3.97%;background:linear-gradient(90deg,#9300bd 0.4%,#a001b8 1.1%,#cb2792 2.6%,#cc2890 3.3%,#c62297 50.0%,#bb18a3 62.4%,#9600bc 73.4%,#6b00b5 86.5%,#7200b9 90.1%,#9d00ba 91.6%,#b10eac 92.3%,#b613a8 93.8%,#8f00bd 95.3%,#7800ba 96.0%,#5f00b0 96.7%,#2f0596 97.4%,#2c0594 99.6%)"></i><i style="top:57.14%;height:7.54%;background:linear-gradient(90deg,#9400bd 0.4%,#a202b7 1.1%,#d12e8a 2.6%,#d22f89 3.3%,#cc2891 49.3%,#bf1b9f 62.4%,#9500bc 74.8%,#6d00b7 86.5%,#7200b9 90.1%,#9d00ba 91.6%,#b10eac 92.3%,#b613a8 93.8%,#8f00bd 95.3%,#7800ba 96.0%,#5f00b0 96.7%,#2f0596 97.4%,#2c0594 99.6%)"></i><i style="top:64.29%;height:7.54%;background:linear-gradient(90deg,#9400bd 0.4%,#a404b6 1.1%,#d73582 2.6%,#d93780 4.0%,#d63384 36.9%,#c62297 61.7%,#9900bb 74.8%,#7100b8 86.5%,#7200b9 90.1%,#9d00ba 91.6%,#b10eac 92.3%,#b613a8 93.8%,#8f00bd 95.3%,#7800ba 96.0%,#5f00b0 96.7%,#2f0596 97.4%,#2c0594 99.6%)"></i><i style="top:71.43%;height:7.54%;background:linear-gradient(90deg,#8c00bd 0.4%,#a102b7 1.1%,#db397e 2.6%,#df3e78 6.2%,#e14076 25.9%,#cc2890 60.9%,#9700bc 76.3%,#7500ba 86.5%,#7200b9 90.1%,#9d00ba 91.6%,#b10eac 92.3%,#b613a8 93.8%,#8f00bd 95.3%,#7800ba 96.0%,#5f00b0 96.7%,#2f0596 97.4%,#2c0594 99.6%)"></i><i style="top:78.57%;height:3.97%;background:linear-gradient(90deg,#8400bd 0.4%,#9800bc 1.1%,#b814a6 1.8%,#d73483 2.6%,#e14076 4.0%,#e6476e 10.6%,#e94b6a 20.8%,#d12d8b 60.2%,#9a00bb 76.3%,#7200b9 90.1%,#9d00ba 91.6%,#b10eac 92.3%,#b613a8 93.8%,#8f00bd 95.3%,#7800ba 96.0%,#5f00b0 96.7%,#2f0596 97.4%,#2c0594 99.6%)"></i><i style="top:82.14%;height:3.97%;background:linear-gradient(90deg,#7800ba 0.4%,#8800bd 1.1%,#a404b6 1.8%,#c92594 2.6%,#e14076 4.0%,#e5466f 5.5%,#ed5164 20.1%,#de3c7a 50.0%,#cf2c8c 62.4%,#9b00bb 76.3%,#7200b9 90.1%,#9d00ba 91.6%,#b10eac 92.3%,#b613a8 93.8%,#8f00bd 95.3%,#7800ba 96.0%,#5f00b0 96.7%,#2f0596 97.4%,#2c0594 99.6%)"></i><i style="top:85.71%;height:3.97%;background:linear-gradient(90deg,#6b00b5 0.4%,#7a00bb 1.8%,#a907b3 2.6%,#c82396 3.3%,#d73483 4.0%,#df3e78 5.5%,#e94b6a 20.1%,#da387f 49.3%,#cb2792 62.4%,#9a00bb 76.3%,#7200b9 90.1%,#9d00ba 91.6%,#b10eac 92.3%,#b613a8 93.8%,#8f00bd 95.3%,#7800ba 96.0%,#5f00b0 96.7%,#2f0596 97.4%,#2c0594 99.6%)"></i><i style="top:89.29%;height:3.97%;background:linear-gradient(90deg,#6100b1 0.4%,#5f00b0 1.8%,#8c00bd 2.6%,#b512a9 3.3%,#cb2792 4.0%,#d53286 5.5%,#e14076 20.1%,#d32f88 48.5%,#c52198 61.7%,#9600bc 76.3%,#7200b9 90.1%,#9d00ba 91.6%,#b10eac 92.3%,#b613a8 93.8%,#8f00bd 95.3%,#7800ba 96.0%,#5f00b0 96.7%,#2f0596 97.4%,#2c0594 99.6%)"></i><i style="top:92.86%;height:3.97%;background:linear-gradient(90deg,#5d00af 0.4%,#6500b3 1.8%,#8c00bd 2.6%,#ae0caf 3.3%,#c82396 4.7%,#d43087 15.0%,#d83582 20.1%,#be1aa0 60.9%,#9500bc 75.5%,#7200b9 90.1%,#9d00ba 91.6%,#b10eac 92.3%,#b613a8 93.8%,#8f00bd 95.3%,#7800ba 96.0%,#5f00b0 96.7%,#2f0596 97.4%,#2c0594 99.6%)"></i><i style="top:96.43%;height:3.97%;background:linear-gradient(90deg,#5700ac 0.4%,#7e00bc 1.8%,#9b00bb 2.6%,#b814a6 4.0%,#cc2890 17.9%,#c21e9c 50.0%,#b613a8 60.2%,#9100bd 75.5%,#7200b9 90.1%,#9d00ba 91.6%,#b10eac 92.3%,#b613a8 93.8%,#8f00bd 95.3%,#7800ba 96.0%,#5f00b0 96.7%,#2f0596 97.4%,#2c0594 99.6%)"></i><b class="mesh"></b></div>
<div class="su" style="left:242.90px;top:66.68px;width:1000px;font-size:52.0px;transform:scale(0.1020,0.1)">Prediction-visibility-300s</div>
<div class="hm" style="left:67.1px;top:160.8px;width:137.6px;height:28.7px"><i style="top:0.00%;height:3.85%;background:linear-gradient(90deg,#7800ba 0.4%,#9a00bb 1.1%,#be1aa0 2.5%,#cb2792 9.8%,#c82396 29.3%,#b613a8 51.1%,#9300bd 72.1%,#6c00b6 87.3%,#7000b8 90.2%,#9d00ba 91.7%,#b20fab 92.4%,#b512a9 93.8%,#8d00bd 95.3%,#7800ba 96.0%,#5f00b0 96.7%,#2f0596 97.5%,#2c0594 99.6%)"></i><i style="top:3.45%;height:3.85%;background:linear-gradient(90deg,#8600bd 0.4%,#a404b6 1.1%,#b915a5 1.8%,#ca2693 2.5%,#cc2890 3.3%,#cf2c8c 30.1%,#b411aa 59.8%,#9300bd 73.6%,#6b00b5 88.8%,#6e00b7 90.2%,#9b00bb 91.7%,#b10eac 92.4%,#b512a9 93.8%,#8d00bd 95.3%,#7800ba 96.0%,#5f00b0 96.7%,#2f0596 97.5%,#2c0594 99.6%)"></i><i style="top:6.90%;height:3.85%;background:linear-gradient(90deg,#8f00bd 0.4%,#ab0ab1 1.1%,#d22e8a 2.5%,#d63384 30.8%,#b814a6 62.7%,#9500bc 74.3%,#6700b4 88.0%,#6c00b6 90.2%,#9800bc 91.7%,#ae0caf 92.4%,#b411aa 93.8%,#8d00bd 95.3%,#7800ba 96.0%,#5f00b0 96.7%,#2f0596 97.5%,#2c0594 99.6%)"></i><i style="top:10.34%;height:3.85%;background:linear-gradient(90deg,#9500bc 0.4%,#c62297 1.8%,#d73483 2.5%,#d93680 3.3%,#cc2890 14.1%,#db397e 28.6%,#d93680 39.5%,#c01c9e 62.7%,#a001b8 72.1%,#9300bd 75.7%,#6300b2 85.9%,#6100b1 88.0%,#6900b5 90.2%,#9300bd 91.7%,#aa09b2 92.4%,#b20fab 93.8%,#8d00bd 95.3%,#7800ba 96.0%,#5f00b0 96.7%,#2f0596 97.5%,#2c0594 99.6%)"></i><i style="top:13.79%;height:3.85%;background:linear-gradient(90deg,#9100bd 0.4%,#b00dad 1.1%,#dd3b7b 2.5%,#df3e78 3.3%,#ca2693 14.9%,#e03f77 27.9%,#df3e78 39.5%,#c92594 62.0%,#a907b3 70.7%,#9500bc 75.7%,#7a00bb 81.5%,#5d00af 85.9%,#5b00ae 88.0%,#6500b3 90.2%,#7200b9 90.9%,#8d00bd 91.7%,#a706b4 92.4%,#b10eac 93.8%,#8d00bd 95.3%,#7800ba 96.0%,#5f00b0 96.7%,#2f0596 97.5%,#2c0594 99.6%)"></i><i style="top:17.24%;height:3.85%;background:linear-gradient(90deg,#8d00bd 0.4%,#ab0ab1 1.1%,#df3e78 2.5%,#dd3b7b 10.5%,#c52198 14.9%,#d93680 18.5%,#dd3b7b 22.1%,#dd3b7b 40.2%,#c82396 62.0%,#9600bc 75.0%,#7c00bb 80.8%,#5500ab 87.3%,#6100b1 90.2%,#6e00b7 90.9%,#8a00bd 91.7%,#a303b7 92.4%,#b10eac 93.8%,#8d00bd 95.3%,#7800ba 96.0%,#5f00b0 96.7%,#2f0596 97.5%,#2c0594 99.6%)"></i><i style="top:20.69%;height:3.85%;background:linear-gradient(90deg,#8600bd 0.4%,#a706b4 1.1%,#e03f77 2.5%,#e24273 3.3%,#e24175 10.5%,#b10eac 14.9%,#d83582 17.8%,#e03f77 19.9%,#dc3a7c 39.5%,#c62297 62.0%,#9800bc 74.3%,#7a00bb 80.8%,#5500ab 86.6%,#5f00b0 90.2%,#8800bd 91.7%,#a303b7 92.4%,#b00dad 93.8%,#8d00bd 95.3%,#7800ba 96.0%,#5f00b0 96.7%,#2f0596 97.5%,#2c0594 99.6%)"></i><i style="top:24.14%;height:3.85%;background:linear-gradient(90deg,#8200bd 0.4%,#a303b7 1.1%,#e14076 2.5%,#e7486d 8.3%,#e44571 10.5%,#d32f88 12.0%,#a404b6 13.4%,#8a00bd 14.1%,#8200bd 14.9%,#9300bd 15.6%,#c52198 17.0%,#d53286 17.8%,#e24273 19.9%,#d63384 47.5%,#c52198 62.0%,#9600bc 74.3%,#7a00bb 80.8%,#5700ac 86.6%,#6100b1 90.2%,#8a00bd 91.7%,#a404b6 92.4%,#b10eac 93.8%,#8d00bd 95.3%,#7800ba 96.0%,#5f00b0 96.7%,#2f0596 97.5%,#2c0594 99.6%)"></i><i style="top:27.59%;height:3.85%;background:linear-gradient(90deg,#8000bc 0.4%,#a001b8 1.1%,#e24175 2.5%,#e7486d 7.6%,#e7486d 9.8%,#db397e 11.2%,#c92594 12.0%,#aa09b2 12.7%,#7800ba 13.4%,#4e01a7 14.1%,#4302a0 14.9%,#5b00ae 15.6%,#8d00bd 16.3%,#b613a8 17.0%,#cf2c8c 17.8%,#dc3a7c 18.5%,#e24273 19.9%,#d43087 48.9%,#c4209a 62.0%,#9800bc 73.6%,#7c00bb 80.1%,#5b00ae 85.9%,#6500b3 90.2%,#8f00bd 91.7%,#a706b4 92.4%,#b20fab 93.8%,#8d00bd 95.3%,#7800ba 96.0%,#5f00b0 96.7%,#2f0596 97.5%,#2c0594 99.6%)"></i><i style="top:31.03%;height:7.30%;background:linear-gradient(90deg,#8200bd 0.4%,#9e00b9 1.1%,#e03f77 2.5%,#e44571 8.3%,#df3e78 10.5%,#d53286 11.2%,#bf1ba0 12.0%,#9600bc 12.7%,#5600ab 13.4%,#260591 14.1%,#17078b 14.9%,#38049a 15.6%,#6f00b7 16.3%,#a807b3 17.0%,#c72396 17.8%,#d63384 18.5%,#df3e78 19.9%,#d22e8a 48.9%,#c31f9b 62.0%,#9600bc 73.6%,#5f00b0 85.9%,#6b00b5 90.2%,#9600bc 91.7%,#ad0bb0 92.4%,#b411a9 93.8%,#8d00bd 95.3%,#7800ba 96.0%,#5f00b0 96.7%,#2f0596 97.5%,#2c0594 99.6%)"></i><i style="top:37.93%;height:3.85%;background:linear-gradient(90deg,#8600bd 0.4%,#9e00b9 1.1%,#d83582 2.5%,#db397e 3.3%,#db397e 9.8%,#cf2c8c 11.2%,#be1aa0 12.0%,#9e00b9 12.7%,#6e00b7 13.4%,#4902a4 14.1%,#40039e 14.9%,#5500ab 15.6%,#8200bd 16.3%,#ab0ab1 17.0%,#c4209a 17.8%,#d12d8b 18.5%,#d83582 19.9%,#cc2890 48.9%,#be1aa0 62.0%,#a001b8 69.9%,#9500bc 72.8%,#5f00b0 85.9%,#6e00b7 90.2%,#9b00bb 91.7%,#b10eac 92.4%,#b512a9 93.8%,#8d00bd 95.3%,#7800ba 96.0%,#5f00b0 96.7%,#2f0596 97.5%,#2c0594 99.6%)"></i><i style="top:41.38%;height:3.85%;background:linear-gradient(90deg,#8a00bd 0.4%,#9e00b9 1.1%,#d22e8a 2.5%,#d43087 3.3%,#d53286 9.1%,#cc2890 11.2%,#c01c9e 12.0%,#9300bd 13.4%,#7a00bb 14.1%,#7200b9 14.9%,#8200bd 15.6%,#9e00b9 16.3%,#b512a9 17.0%,#d12d8b 19.2%,#c82396 48.2%,#ba16a4 62.0%,#a001b8 69.2%,#9100bd 72.8%,#5f00b0 85.9%,#7000b8 90.2%,#9d00ba 91.7%,#b20fab 92.4%,#b613a8 93.8%,#8d00bd 95.3%,#7800ba 96.0%,#5f00b0 96.7%,#2f0596 97.5%,#2c0594 99.6%)"></i><i style="top:44.83%;height:3.85%;background:linear-gradient(90deg,#8d00bd 0.4%,#9e00b9 1.1%,#cb2792 2.5%,#cc2890 3.3%,#cb2792 10.5%,#9e00b9 14.9%,#c4209a 17.8%,#cb2792 19.9%,#c21e9c 50.4%,#b613a8 62.0%,#9100bd 72.1%,#5d00af 85.9%,#7000b8 90.2%,#9e00b9 91.7%,#b20fab 92.4%,#b613a8 93.8%,#8d00bd 95.3%,#7800ba 96.0%,#5f00b0 96.7%,#2f0596 97.5%,#2c0594 99.6%)"></i><i style="top:48.28%;height:3.85%;background:linear-gradient(90deg,#9100bd 0.4%,#9e00b9 1.1%,#c31f9b 2.5%,#c4209a 3.3%,#c31f9b 11.2%,#b10eac 14.1%,#c4209a 19.2%,#bd19a1 50.4%,#b20fab 62.0%,#9e00b9 67.8%,#8d00bd 72.1%,#5b00ae 85.9%,#7000b8 90.2%,#9e00b9 91.7%,#b20fab 92.4%,#b613a8 93.8%,#8d00bd 95.3%,#7800ba 96.0%,#5f00b0 96.7%,#2f0596 97.5%,#2c0594 99.6%)"></i><i style="top:51.72%;height:3.85%;background:linear-gradient(90deg,#9300bd 0.4%,#a001b8 1.1%,#c01c9e 2.5%,#c21e9c 3.3%,#ba16a4 14.1%,#c21e9c 19.2%,#bb18a3 49.6%,#b10eac 62.0%,#a001b8 67.0%,#8d00bd 72.1%,#5b00ae 85.9%,#7000b8 90.2%,#9e00b9 91.7%,#b411aa 92.4%,#b613a8 93.8%,#8d00bd 95.3%,#7800ba 96.0%,#5f00b0 96.7%,#2f0596 97.5%,#2c0594 99.6%)"></i><i style="top:55.17%;height:7.30%;background:linear-gradient(90deg,#9300bd 0.4%,#a202b7 1.1%,#c62298 2.5%,#c72396 3.3%,#c01c9e 50.4%,#b512a9 62.0%,#9f00b9 68.5%,#8e00bd 72.8%,#5e00b0 85.9%,#7000b8 90.2%,#9e00b9 91.7%,#b411aa 92.4%,#b613a8 93.8%,#8d00bd 95.3%,#7800ba 96.0%,#5f00b0 96.7%,#2f0596 97.5%,#2c0594 99.6%)"></i><i style="top:62.07%;height:7.30%;background:linear-gradient(90deg,#9500bc 0.4%,#a505b5 1.1%,#cd298f 2.5%,#cf2b8d 3.3%,#c72396 49.6%,#b915a5 62.7%,#9f00b9 69.9%,#9000bd 73.6%,#6200b1 85.9%,#7100b8 90.2%,#9e00b9 91.7%,#b411aa 92.4%,#b613a8 93.8%,#8d00bd 95.3%,#7800ba 96.0%,#5f00b0 96.7%,#2f0596 97.5%,#2c0594 99.6%)"></i><i style="top:68.97%;height:3.85%;background:linear-gradient(90deg,#9100bd 0.4%,#a404b6 1.1%,#d22e8a 2.5%,#d43087 4.0%,#d53286 12.0%,#c52198 14.9%,#d53286 17.0%,#cc2890 48.9%,#bf1b9f 62.0%,#9300bd 73.6%,#6500b3 85.9%,#7200b9 90.2%,#9e00b9 91.7%,#b411aa 92.4%,#b613a8 93.8%,#8d00bd 95.3%,#7800ba 96.0%,#5f00b0 96.7%,#2f0596 97.5%,#2c0594 99.6%)"></i><i style="top:72.41%;height:7.30%;background:linear-gradient(90deg,#8c00bd 0.4%,#a202b7 1.1%,#d53286 2.5%,#d73483 3.3%,#da387f 12.0%,#d73582 12.7%,#bd19a1 14.1%,#b613a8 14.9%,#d43087 16.3%,#db397d 17.8%,#d63384 39.5%,#c4209a 62.0%,#9700bc 73.6%,#6800b4 85.9%,#7200b9 90.2%,#9e00b9 91.7%,#b411aa 92.4%,#b613a8 93.8%,#8d00bd 95.3%,#7800ba 96.0%,#5f00b0 96.7%,#2f0596 97.5%,#2c0594 99.6%)"></i><i style="top:79.31%;height:3.85%;background:linear-gradient(90deg,#8600bd 0.4%,#9e00b9 1.1%,#d83582 2.5%,#e03f77 10.5%,#de3c7a 12.7%,#cb2792 14.9%,#dd3b7b 16.3%,#e24273 18.5%,#dc3a7c 33.7%,#e24273 39.5%,#d53286 47.5%,#cf2c8c 62.0%,#b411aa 67.8%,#9a00bb 73.6%,#6b00b5 85.9%,#7200b9 90.2%,#9e00b9 91.7%,#b411aa 92.4%,#b613a8 93.8%,#8d00bd 95.3%,#7800ba 96.0%,#5f00b0 96.7%,#2f0596 97.5%,#2c0594 99.6%)"></i><i style="top:82.76%;height:3.85%;background:linear-gradient(90deg,#8200bd 0.4%,#9d00ba 1.1%,#d93680 2.5%,#dc3a7c 3.3%,#e34472 11.2%,#de3c7a 14.9%,#e7486d 19.2%,#e03f77 33.7%,#ee5263 39.5%,#d83582 47.5%,#d63384 54.0%,#df3e78 60.5%,#bd19a1 67.0%,#a303b7 72.1%,#8600bd 77.9%,#6e00b7 85.9%,#7200b9 90.2%,#9e00b9 91.7%,#b411aa 92.4%,#b613a8 93.8%,#8d00bd 95.3%,#7800ba 96.0%,#5f00b0 96.7%,#2f0596 97.5%,#2c0594 99.6%)"></i><i style="top:86.21%;height:3.85%;background:linear-gradient(90deg,#7800ba 0.4%,#9800bc 1.1%,#d22e8a 2.5%,#d43087 3.3%,#e14076 19.2%,#da387f 32.2%,#e24273 35.9%,#f65e57 39.5%,#f1575e 41.7%,#da387f 45.3%,#d22e8a 48.2%,#d32f88 53.3%,#e84a6c 59.8%,#e03f77 62.7%,#bd19a1 67.0%,#a605b5 70.7%,#8c00bd 76.4%,#6e00b7 85.9%,#7200b9 90.2%,#9e00b9 91.7%,#b411aa 92.4%,#b613a8 93.8%,#8d00bd 95.3%,#7800ba 96.0%,#5f00b0 96.7%,#2f0596 97.5%,#2c0594 99.6%)"></i><i style="top:89.66%;height:3.85%;background:linear-gradient(90deg,#6c00b6 0.4%,#9300bd 1.1%,#c62297 2.5%,#d83582 19.2%,#d32f88 33.0%,#da387f 35.1%,#f45c59 38.8%,#f76154 40.2%,#d43087 45.3%,#cb2792 47.5%,#cb2792 52.5%,#e84a6c 59.1%,#e7486d 61.2%,#b814a6 67.0%,#a102b7 70.7%,#8000bc 77.9%,#6e00b7 85.1%,#7200b9 90.2%,#9e00b9 91.7%,#b411aa 92.4%,#b613a8 93.8%,#8d00bd 95.3%,#7800ba 96.0%,#5f00b0 96.7%,#2f0596 97.5%,#2c0594 99.6%)"></i><i style="top:93.10%;height:3.85%;background:linear-gradient(90deg,#6100b1 0.4%,#8d00bd 1.1%,#a706b4 1.8%,#ba16a4 2.5%,#bd19a1 3.3%,#cf2c8c 19.9%,#ca2693 33.0%,#ea4d68 40.2%,#ca2693 45.3%,#c21e9c 48.2%,#c21e9c 52.5%,#db397e 59.1%,#d93680 61.2%,#b00dad 67.0%,#9b00bb 70.7%,#7c00bb 77.9%,#6e00b7 85.1%,#7200b9 90.2%,#9e00b9 91.7%,#b411aa 92.4%,#b613a8 93.8%,#8d00bd 95.3%,#7800ba 96.0%,#5f00b0 96.7%,#2f0596 97.5%,#2c0594 99.6%)"></i><i style="top:96.55%;height:3.85%;background:linear-gradient(90deg,#5500ab 0.4%,#8600bd 1.1%,#9e00b9 1.8%,#ae0caf 2.5%,#c52198 19.9%,#c01c9e 33.7%,#d43087 40.2%,#b915a5 47.5%,#c21e9c 61.2%,#a001b8 67.8%,#9800bc 69.9%,#7c00bb 77.2%,#6e00b7 85.1%,#7200b9 90.2%,#9e00b9 91.7%,#b411aa 92.4%,#b613a8 93.8%,#8d00bd 95.3%,#7800ba 96.0%,#5f00b0 96.7%,#2f0596 97.5%,#2c0594 99.6%)"></i><b class="mesh"></b></div>
<div class="su" style="left:84.90px;top:153.88px;width:1000px;font-size:52.0px;transform:scale(0.1020,0.1)">Prediction-visibility-200s</div>
<div class="hm" style="left:67.1px;top:201.5px;width:137.6px;height:28.6px"><i style="top:0.00%;height:3.85%;background:linear-gradient(90deg,#7a00bb 0.4%,#9b00bb 1.1%,#c01c9e 2.5%,#ce2b8e 10.5%,#b613a8 51.1%,#9300bd 72.1%,#6b00b5 88.0%,#7000b8 90.2%,#9b00bb 91.7%,#b10eac 92.4%,#b512a9 93.8%,#8d00bd 95.3%,#7800ba 96.0%,#5f00b0 96.7%,#2f0596 97.5%,#2c0594 99.6%)"></i><i style="top:3.45%;height:3.85%;background:linear-gradient(90deg,#8800bd 0.4%,#a605b5 1.1%,#cb2792 2.5%,#d53286 9.1%,#d22e8a 28.6%,#b411aa 59.8%,#9300bd 73.6%,#6900b5 88.0%,#6c00b6 90.2%,#9800bc 91.7%,#ae0caf 92.4%,#b411aa 93.8%,#8d00bd 95.3%,#7800ba 96.0%,#5f00b0 96.7%,#2f0596 97.5%,#2c0594 99.6%)"></i><i style="top:6.90%;height:3.85%;background:linear-gradient(90deg,#9300bd 0.4%,#d43087 2.5%,#d63384 3.3%,#d73483 31.5%,#b814a6 62.7%,#a001b8 70.7%,#8f00bd 75.7%,#6500b3 88.0%,#6b00b5 90.2%,#7800ba 90.9%,#9300bd 91.7%,#aa09b2 92.4%,#b20fab 93.8%,#8d00bd 95.3%,#7800ba 96.0%,#5f00b0 96.7%,#2f0596 97.5%,#2c0594 99.6%)"></i><i style="top:10.34%;height:3.85%;background:linear-gradient(90deg,#9600bc 0.4%,#da387f 2.5%,#d32f88 16.3%,#dd3b7b 27.2%,#db397e 36.6%,#c01c9e 62.7%,#a001b8 72.1%,#9300bd 75.7%,#6500b3 85.9%,#6100b1 88.8%,#6700b4 90.2%,#8c00bd 91.7%,#a404b6 92.4%,#b10eac 93.8%,#8d00bd 95.3%,#7800ba 96.0%,#5f00b0 96.7%,#2f0596 97.5%,#2c0594 99.6%)"></i><i style="top:13.79%;height:7.30%;background:linear-gradient(90deg,#9200bd 0.4%,#b00ead 1.1%,#df3e78 2.5%,#e14175 3.3%,#de3c7a 10.5%,#d12e8a 14.9%,#e14175 26.4%,#e03f77 36.6%,#c82495 62.0%,#9700bc 75.0%,#7f00bc 80.8%,#6000b1 85.9%,#5b00ae 88.0%,#6200b1 90.2%,#6d00b7 90.9%,#9f00b9 92.4%,#ae0caf 93.8%,#8d00bd 95.3%,#7800ba 96.0%,#5f00b0 96.7%,#2f0596 97.5%,#2c0594 99.6%)"></i><i style="top:20.69%;height:3.85%;background:linear-gradient(90deg,#8800bd 0.4%,#a907b3 1.1%,#e14076 2.5%,#e5466f 6.2%,#e34472 11.2%,#c21e9c 14.9%,#c82396 16.3%,#de3c7a 18.5%,#e24175 19.9%,#d93680 44.6%,#c62297 62.0%,#9800bc 74.3%,#8000bc 80.1%,#5b00ae 87.3%,#6100b1 90.2%,#6c00b6 90.9%,#9e00b9 92.4%,#ae0caf 93.8%,#8d00bd 95.3%,#7800ba 96.0%,#5f00b0 96.7%,#2f0596 97.5%,#2c0594 99.6%)"></i><i style="top:24.14%;height:3.85%;background:linear-gradient(90deg,#8200bd 0.4%,#a303b7 1.1%,#e24175 2.5%,#e84a6c 8.3%,#e7486d 10.5%,#df3e78 12.0%,#ae0caf 14.1%,#a001b8 14.9%,#a001b8 15.6%,#ae0caf 16.3%,#dc3a7c 18.5%,#e34472 20.7%,#d43087 50.4%,#c52198 62.0%,#9600bc 74.3%,#5d00af 87.3%,#6300b2 90.2%,#8800bd 91.7%,#a102b7 92.4%,#b00dad 93.8%,#8d00bd 95.3%,#7800ba 96.0%,#5f00b0 96.7%,#2f0596 97.5%,#2c0594 99.6%)"></i><i style="top:27.59%;height:3.85%;background:linear-gradient(90deg,#8000bc 0.4%,#a001b8 1.1%,#e24175 2.5%,#e84a6c 8.3%,#e7486d 10.5%,#d93680 12.0%,#c82396 12.7%,#a907b3 13.4%,#8000bc 14.1%,#6100b1 14.9%,#6100b1 15.6%,#8000bc 16.3%,#a907b3 17.0%,#c52198 17.8%,#d73483 18.5%,#e24273 19.9%,#d43087 48.9%,#c4209a 62.0%,#9800bc 73.6%,#6100b1 85.9%,#6700b4 90.2%,#8f00bd 91.7%,#a706b4 92.4%,#b10eac 93.8%,#8d00bd 95.3%,#7800ba 96.0%,#5f00b0 96.7%,#2f0596 97.5%,#2c0594 99.6%)"></i><i style="top:31.03%;height:3.85%;background:linear-gradient(90deg,#8200bd 0.4%,#9e00b9 1.1%,#e14076 2.5%,#e44571 4.0%,#e6476e 9.8%,#df3e78 11.2%,#d32f88 12.0%,#ba16a4 12.7%,#8c00bd 13.4%,#5000a8 14.1%,#2c0594 14.9%,#2e0595 15.6%,#5200a9 16.3%,#8d00bd 17.0%,#b915a5 17.8%,#d12d8b 18.5%,#e03f77 19.9%,#d32f88 48.9%,#c4209a 62.0%,#9a00bb 72.8%,#6300b2 85.9%,#6b00b5 90.2%,#9500bc 91.7%,#ab0ab1 92.4%,#b411aa 93.8%,#8d00bd 95.3%,#7800ba 96.0%,#5f00b0 96.7%,#2f0596 97.5%,#2c0594 99.6%)"></i><i style="top:34.48%;height:3.85%;background:linear-gradient(90deg,#8400bd 0.4%,#9e00b9 1.1%,#df3e78 2.5%,#e03f77 10.5%,#cd298f 12.0%,#b10eac 12.7%,#7e00bc 13.4%,#40039e 14.1%,#16078a 14.9%,#16078a 15.6%,#41039f 16.3%,#8000bc 17.0%,#b10eac 17.8%,#cb2792 18.5%,#d73483 19.2%,#de3c7a 20.7%,#d12d8b 48.9%,#c21e9c 62.0%,#9500bc 73.6%,#6300b2 85.9%,#6e00b7 90.2%,#9a00bb 91.7%,#b00dad 92.4%,#b512a9 93.8%,#8d00bd 95.3%,#7800ba 96.0%,#5f00b0 96.7%,#2f0596 97.5%,#2c0594 99.6%)"></i><i style="top:37.93%;height:3.85%;background:linear-gradient(90deg,#8600bd 0.4%,#9e00b9 1.1%,#d83582 2.5%,#da387f 10.5%,#c92594 12.0%,#b10eac 12.7%,#8600bd 13.4%,#5000a8 14.1%,#2f0596 14.9%,#2f0596 15.6%,#5200a9 16.3%,#8600bd 17.0%,#b10eac 17.8%,#c82396 18.5%,#d73483 19.9%,#cc2890 48.9%,#be1aa0 62.0%,#a001b8 69.9%,#9500bc 72.8%,#6100b1 85.9%,#7000b8 90.2%,#9b00bb 91.7%,#b10eac 92.4%,#b512a9 93.8%,#8d00bd 95.3%,#7800ba 96.0%,#5f00b0 96.7%,#2f0596 97.5%,#2c0594 99.6%)"></i><i style="top:41.38%;height:3.85%;background:linear-gradient(90deg,#8a00bd 0.4%,#9e00b9 1.1%,#d22e8a 2.5%,#d43087 3.3%,#cf2c8c 11.2%,#b613a8 12.7%,#9a00bb 13.4%,#7400b9 14.1%,#5d00af 14.9%,#5d00af 15.6%,#9b00bb 17.0%,#c52198 18.5%,#d12d8b 19.9%,#c82396 48.2%,#ba16a4 62.0%,#a001b8 69.2%,#9100bd 72.8%,#5f00b0 85.9%,#7000b8 90.2%,#9d00ba 91.7%,#b20fab 92.4%,#b613a8 93.8%,#8d00bd 95.3%,#7800ba 96.0%,#5f00b0 96.7%,#2f0596 97.5%,#2c0594 99.6%)"></i><i style="top:44.83%;height:3.85%;background:linear-gradient(90deg,#8d00bd 0.4%,#9e00b9 1.1%,#cb2792 2.5%,#cc2890 3.3%,#ca2693 11.2%,#ba16a4 12.7%,#9a00bb 14.1%,#8d00bd 14.9%,#8d00bd 15.6%,#9b00bb 16.3%,#c4209a 18.5%,#cb2792 20.7%,#c21e9c 50.4%,#b613a8 62.0%,#9100bd 72.1%,#5d00af 85.9%,#7000b8 90.2%,#9e00b9 91.7%,#b20fab 92.4%,#b613a8 93.8%,#8d00bd 95.3%,#7800ba 96.0%,#5f00b0 96.7%,#2f0596 97.5%,#2c0594 99.6%)"></i><i style="top:48.28%;height:3.85%;background:linear-gradient(90deg,#9100bd 0.4%,#9e00b9 1.1%,#c31f9b 2.5%,#c4209a 3.3%,#c31f9b 11.2%,#a706b4 14.9%,#c4209a 19.9%,#bd19a1 50.4%,#b20fab 62.0%,#9e00b9 67.8%,#8d00bd 72.1%,#5b00ae 85.9%,#7000b8 90.2%,#9e00b9 91.7%,#b411aa 92.4%,#b613a8 93.8%,#8d00bd 95.3%,#7800ba 96.0%,#5f00b0 96.7%,#2f0596 97.5%,#2c0594 99.6%)"></i><i style="top:51.72%;height:3.85%;background:linear-gradient(90deg,#9300bd 0.4%,#a001b8 1.1%,#c01c9e 2.5%,#c21e9c 3.3%,#c21e9c 10.5%,#b613a8 14.9%,#c21e9c 19.9%,#bb18a3 49.6%,#b10eac 62.0%,#a001b8 67.0%,#8d00bd 72.1%,#5b00ae 85.9%,#7000b8 90.2%,#9e00b9 91.7%,#b411aa 92.4%,#b613a8 93.8%,#8d00bd 95.3%,#7800ba 96.0%,#5f00b0 96.7%,#2f0596 97.5%,#2c0594 99.6%)"></i><i style="top:55.17%;height:7.30%;background:linear-gradient(90deg,#9300bd 0.4%,#a202b7 1.1%,#c62298 2.5%,#c72396 3.3%,#c01c9e 50.4%,#b512a9 62.0%,#9f00b9 68.5%,#8e00bd 72.8%,#5e00b0 85.9%,#7000b8 90.2%,#9e00b9 91.7%,#b411aa 92.4%,#b613a8 93.8%,#8d00bd 95.3%,#7800ba 96.0%,#5f00b0 96.7%,#2f0596 97.5%,#2c0594 99.6%)"></i><i style="top:62.07%;height:7.30%;background:linear-gradient(90deg,#9500bc 0.4%,#a505b5 1.1%,#cd298f 2.5%,#cf2b8d 3.3%,#c72396 49.6%,#b915a5 62.7%,#9f00b9 69.9%,#9000bd 73.6%,#6200b1 85.9%,#7100b8 90.2%,#9e00b9 91.7%,#b411aa 92.4%,#b613a8 93.8%,#8d00bd 95.3%,#7800ba 96.0%,#5f00b0 96.7%,#2f0596 97.5%,#2c0594 99.6%)"></i><i style="top:68.97%;height:3.85%;background:linear-gradient(90deg,#9100bd 0.4%,#a404b6 1.1%,#d22e8a 2.5%,#d73483 30.8%,#bf1b9f 62.0%,#9300bd 73.6%,#6500b3 85.9%,#7200b9 90.2%,#9e00b9 91.7%,#b411aa 92.4%,#b613a8 93.8%,#8d00bd 95.3%,#7800ba 96.0%,#5f00b0 96.7%,#2f0596 97.5%,#2c0594 99.6%)"></i><i style="top:72.41%;height:3.85%;background:linear-gradient(90deg,#8d00bd 0.4%,#a303b7 1.1%,#d43087 2.5%,#d63384 3.3%,#e14076 30.1%,#d32f88 39.5%,#c21e9c 62.0%,#9600bc 73.6%,#6700b4 85.9%,#7200b9 90.2%,#9e00b9 91.7%,#b411aa 92.4%,#b613a8 93.8%,#8d00bd 95.3%,#7800ba 96.0%,#5f00b0 96.7%,#2f0596 97.5%,#2c0594 99.6%)"></i><i style="top:75.86%;height:3.85%;background:linear-gradient(90deg,#8800bd 0.4%,#9e00b9 1.1%,#d53286 2.5%,#d83582 3.3%,#e03f77 22.8%,#eb4e67 29.3%,#d63384 40.2%,#c4209a 62.0%,#9500bc 74.3%,#6900b5 85.9%,#7200b9 90.2%,#9e00b9 91.7%,#b411aa 92.4%,#b613a8 93.8%,#8d00bd 95.3%,#7800ba 96.0%,#5f00b0 96.7%,#2f0596 97.5%,#2c0594 99.6%)"></i><i style="top:79.31%;height:3.85%;background:linear-gradient(90deg,#7c00bb 0.4%,#9100bd 1.1%,#b411aa 1.8%,#d43087 2.5%,#d93680 3.3%,#e44571 22.8%,#f45c59 30.1%,#dc3a7c 38.0%,#c62297 62.0%,#9600bc 74.3%,#6b00b5 85.9%,#7200b9 90.2%,#9e00b9 91.7%,#b411aa 92.4%,#b613a8 93.8%,#8d00bd 95.3%,#7800ba 96.0%,#5f00b0 96.7%,#2f0596 97.5%,#2c0594 99.6%)"></i><i style="top:82.76%;height:3.85%;background:linear-gradient(90deg,#6100b1 0.4%,#6900b5 1.1%,#9800bc 1.8%,#cb2792 2.5%,#d93680 3.3%,#dd3b7b 4.0%,#e84a6c 22.1%,#f86253 30.1%,#de3c7a 38.8%,#c92594 62.0%,#9a00bb 74.3%,#8600bd 77.9%,#6e00b7 85.9%,#7200b9 90.2%,#9e00b9 91.7%,#b411aa 92.4%,#b613a8 93.8%,#8d00bd 95.3%,#7800ba 96.0%,#5f00b0 96.7%,#2f0596 97.5%,#2c0594 99.6%)"></i><i style="top:86.21%;height:3.85%;background:linear-gradient(90deg,#41039f 0.4%,#370499 1.1%,#6300b2 1.8%,#b512a9 2.5%,#ce2b8e 3.3%,#d43087 4.0%,#e44571 23.6%,#f65e57 30.1%,#d63384 40.2%,#c31f9b 62.0%,#9600bc 74.3%,#6e00b7 85.9%,#7200b9 90.2%,#9e00b9 91.7%,#b411aa 92.4%,#b613a8 93.8%,#8d00bd 95.3%,#7800ba 96.0%,#5f00b0 96.7%,#2f0596 97.5%,#2c0594 99.6%)"></i><i style="top:89.66%;height:3.85%;background:linear-gradient(90deg,#3a049b 0.4%,#310597 1.1%,#5900ad 1.8%,#a907b3 2.5%,#c31f9b 3.3%,#c92594 4.0%,#d93680 21.4%,#ec5065 30.1%,#d83582 35.9%,#cd298f 40.9%,#b915a5 62.7%,#9500bc 73.6%,#8000bc 77.9%,#6e00b7 85.1%,#7200b9 90.2%,#9e00b9 91.7%,#b411aa 92.4%,#b613a8 93.8%,#8d00bd 95.3%,#7800ba 96.0%,#5f00b0 96.7%,#2f0596 97.5%,#2c0594 99.6%)"></i><i style="top:93.10%;height:3.85%;background:linear-gradient(90deg,#4902a4 0.4%,#5500ab 1.1%,#7a00bb 1.8%,#aa09b2 2.5%,#ba16a4 3.3%,#be1aa0 4.0%,#dc3a7c 30.1%,#c62297 38.8%,#b20fab 62.0%,#9500bc 72.1%,#7c00bb 77.9%,#6e00b7 85.1%,#7200b9 90.2%,#9e00b9 91.7%,#b411aa 92.4%,#b613a8 93.8%,#8d00bd 95.3%,#7800ba 96.0%,#5f00b0 96.7%,#2f0596 97.5%,#2c0594 99.6%)"></i><i style="top:96.55%;height:3.85%;background:linear-gradient(90deg,#5000a8 0.4%,#7600ba 1.1%,#9100bd 1.8%,#a907b3 2.5%,#b00dad 3.3%,#c52198 19.9%,#ca2693 30.8%,#bd19a1 38.8%,#ab0ab1 60.5%,#8f00bd 72.1%,#7600ba 79.3%,#6e00b7 85.1%,#7200b9 90.2%,#9e00b9 91.7%,#b411aa 92.4%,#b613a8 93.8%,#8d00bd 95.3%,#7800ba 96.0%,#5f00b0 96.7%,#2f0596 97.5%,#2c0594 99.6%)"></i><b class="mesh"></b></div>
<div class="su" style="left:84.90px;top:194.58px;width:1000px;font-size:52.0px;transform:scale(0.1020,0.1)">Prediction-visibility-300s</div>
<div class="hm" style="left:226px;top:160.9px;width:136.6px;height:28.4px"><i style="top:0.00%;height:3.97%;background:linear-gradient(90deg,#5d00af 0.4%,#8600bd 1.1%,#a907b3 1.8%,#c31f9b 2.6%,#d12d8b 9.9%,#ce2b8e 30.3%,#c21e9c 50.0%,#9e00b9 72.6%,#7c00bb 88.0%,#8000bc 91.6%,#a706b4 93.1%,#b00dad 94.5%,#a907b3 95.3%,#7e00bc 96.7%,#2c0594 98.9%,#2c0594 99.6%)"></i><i style="top:3.57%;height:3.97%;background:linear-gradient(90deg,#4e01a7 0.4%,#8200bd 1.1%,#b10eac 1.8%,#d12d8b 2.6%,#e03f77 9.9%,#dd3b7b 19.3%,#bb18a3 61.7%,#9e00b9 74.1%,#7c00bb 88.0%,#8000bc 91.6%,#a706b4 93.1%,#b00dad 94.5%,#a907b3 95.3%,#7e00bc 96.7%,#2c0594 98.9%,#2c0594 99.6%)"></i><i style="top:7.14%;height:3.97%;background:linear-gradient(90deg,#350499 0.4%,#7400b9 1.1%,#b814a6 1.8%,#dc3a7c 2.6%,#ec5065 11.3%,#c52198 60.9%,#a001b8 74.8%,#7c00bb 87.2%,#8000bc 91.6%,#a706b4 93.1%,#b00dad 94.5%,#a907b3 95.3%,#7e00bc 96.7%,#2c0594 98.9%,#2c0594 99.6%)"></i><i style="top:10.71%;height:3.97%;background:linear-gradient(90deg,#3e039d 0.4%,#7e00bc 1.1%,#c21e9c 1.8%,#e7486d 2.6%,#f86253 10.6%,#cb2792 62.4%,#a001b8 75.5%,#7c00bb 86.5%,#8000bc 91.6%,#a706b4 93.1%,#b00dad 94.5%,#a907b3 95.3%,#7e00bc 96.7%,#2c0594 98.9%,#2c0594 99.6%)"></i><i style="top:14.29%;height:3.97%;background:linear-gradient(90deg,#5b00ae 0.4%,#9500bc 1.1%,#c92594 1.8%,#ee5263 2.6%,#fd6d49 11.3%,#d22e8a 61.7%,#a102b7 75.5%,#7c00bb 85.8%,#8000bc 91.6%,#a706b4 93.1%,#b00dad 94.5%,#a907b3 95.3%,#7e00bc 96.7%,#2c0594 98.9%,#2c0594 99.6%)"></i><i style="top:17.86%;height:7.54%;background:linear-gradient(90deg,#6d00b7 0.4%,#9b00bb 1.1%,#ed5065 2.6%,#f96550 9.9%,#f65e57 16.4%,#d02c8c 61.7%,#a001b8 75.5%,#7900bb 85.8%,#8000bc 91.6%,#a706b4 93.1%,#b00dad 94.5%,#a907b3 95.3%,#7e00bc 96.7%,#2c0594 98.9%,#2c0594 99.6%)"></i><i style="top:25.00%;height:7.54%;background:linear-gradient(90deg,#7800ba 0.4%,#9d00ba 1.1%,#ea4d69 2.6%,#ed5065 3.3%,#f3595c 9.9%,#da387e 50.7%,#cd2990 62.4%,#a202b7 74.1%,#7600ba 86.5%,#8000bc 91.6%,#a706b4 93.1%,#b00dad 94.5%,#a907b3 95.3%,#7e00bc 96.7%,#2c0594 98.9%,#2c0594 99.6%)"></i><i style="top:32.14%;height:3.97%;background:linear-gradient(90deg,#8000bc 0.4%,#9d00ba 1.1%,#e94b6a 2.6%,#ea4d68 3.3%,#ed5164 11.3%,#da387f 50.0%,#cb2792 62.4%,#9b00bb 75.5%,#7400b9 85.8%,#8000bc 91.6%,#a706b4 93.1%,#b00dad 94.5%,#a907b3 95.3%,#7e00bc 96.7%,#2c0594 98.9%,#2c0594 99.6%)"></i><i style="top:35.71%;height:3.97%;background:linear-gradient(90deg,#8400bd 0.4%,#9e00b9 1.1%,#e44571 2.6%,#e6476e 3.3%,#d73483 49.3%,#ca2693 61.7%,#9b00bb 74.8%,#7200b9 85.8%,#7a00bb 90.9%,#8000bc 91.6%,#a706b4 93.1%,#b00dad 94.5%,#a907b3 95.3%,#7e00bc 96.7%,#2c0594 98.9%,#2c0594 99.6%)"></i><i style="top:39.29%;height:3.97%;background:linear-gradient(90deg,#8800bd 0.4%,#9e00b9 1.1%,#de3c7a 2.6%,#e03f77 3.3%,#d32f88 48.5%,#c82396 60.2%,#9800bc 74.8%,#7000b8 85.8%,#7a00bb 90.9%,#8000bc 91.6%,#a706b4 93.1%,#b00dad 94.5%,#a907b3 95.3%,#7e00bc 96.7%,#2c0594 98.9%,#2c0594 99.6%)"></i><i style="top:42.86%;height:3.97%;background:linear-gradient(90deg,#8c00bd 0.4%,#9e00b9 1.1%,#d73483 2.6%,#da387f 4.7%,#ce2b8e 47.8%,#c31f9b 60.9%,#9800bc 74.1%,#6e00b7 85.8%,#7a00bb 90.9%,#8000bc 91.6%,#a706b4 93.1%,#b00dad 94.5%,#a907b3 95.3%,#7e00bc 96.7%,#2c0594 98.9%,#2c0594 99.6%)"></i><i style="top:46.43%;height:3.97%;background:linear-gradient(90deg,#9100bd 0.4%,#a001b8 1.1%,#d12d8b 2.6%,#d32f88 3.3%,#d63384 13.5%,#c92594 50.0%,#bd19a1 62.4%,#9500bc 74.1%,#6b00b5 85.8%,#7a00bb 90.9%,#8000bc 91.6%,#a706b4 93.1%,#b00dad 94.5%,#a907b3 95.3%,#7e00bc 96.7%,#2c0594 98.9%,#2c0594 99.6%)"></i><i style="top:50.00%;height:3.97%;background:linear-gradient(90deg,#9500bc 0.4%,#a303b7 1.1%,#cb2792 2.6%,#d32f88 8.4%,#c4209a 49.3%,#b915a5 62.4%,#a102b7 69.7%,#9100bd 74.1%,#6900b5 85.8%,#8000bc 91.6%,#a706b4 93.1%,#b00dad 94.5%,#a907b3 95.3%,#7e00bc 96.7%,#2c0594 98.9%,#2c0594 99.6%)"></i><i style="top:53.57%;height:3.97%;background:linear-gradient(90deg,#9800bc 0.4%,#a605b5 1.1%,#d12d8b 2.6%,#dd3b7b 11.3%,#cd298f 25.2%,#bd19a1 61.7%,#9600bc 73.4%,#6b00b5 85.8%,#7a00bb 90.9%,#8000bc 91.6%,#a706b4 93.1%,#b00dad 94.5%,#a907b3 95.3%,#7e00bc 96.7%,#2c0594 98.9%,#2c0594 99.6%)"></i><i style="top:57.14%;height:3.97%;background:linear-gradient(90deg,#9d00ba 0.4%,#ab0ab1 1.1%,#d63384 2.6%,#e84a6c 9.9%,#d83582 15.0%,#de3c7a 17.9%,#d12d8b 26.6%,#c01c9e 60.9%,#9600bc 74.1%,#6c00b6 85.8%,#7a00bb 90.9%,#8000bc 91.6%,#a706b4 93.1%,#b00dad 94.5%,#a907b3 95.3%,#7e00bc 96.7%,#2c0594 98.9%,#2c0594 99.6%)"></i><i style="top:60.71%;height:3.97%;background:linear-gradient(90deg,#a001b8 0.4%,#b10eac 1.1%,#dc3a7c 2.6%,#f2585d 9.9%,#ef5362 11.3%,#cd298f 14.2%,#e24175 17.2%,#e44571 18.6%,#d53286 25.9%,#c31f9b 60.9%,#9b00bb 73.4%,#7000b8 85.8%,#7a00bb 90.9%,#8000bc 91.6%,#a706b4 93.1%,#b00dad 94.5%,#a907b3 95.3%,#7e00bc 96.7%,#2c0594 98.9%,#2c0594 99.6%)"></i><i style="top:64.29%;height:3.97%;background:linear-gradient(90deg,#a404b6 0.4%,#b512a9 1.1%,#e24175 2.6%,#fa674e 9.9%,#f3595c 11.3%,#e6476e 12.0%,#ba16a4 13.5%,#ab0ab1 14.2%,#b00dad 15.0%,#e24273 17.2%,#ea4d68 18.6%,#d83582 26.6%,#c52198 61.7%,#9800bc 74.8%,#7200b9 85.8%,#7a00bb 90.9%,#8000bc 91.6%,#a706b4 93.1%,#b00dad 94.5%,#a907b3 95.3%,#7e00bc 96.7%,#2c0594 98.9%,#2c0594 99.6%)"></i><i style="top:67.86%;height:3.97%;background:linear-gradient(90deg,#a706b4 0.4%,#b915a5 1.1%,#e6476e 2.6%,#ff7244 9.1%,#fc6b4a 10.6%,#f35b5a 11.3%,#de3c7a 12.0%,#b915a5 12.8%,#8800bd 13.5%,#6700b4 14.2%,#7000b8 15.0%,#9d00ba 15.7%,#c52198 16.4%,#df3e78 17.2%,#ef5362 18.6%,#db397e 27.4%,#c82396 61.7%,#9a00bb 74.8%,#7400b9 85.8%,#8000bc 91.6%,#a706b4 93.1%,#b00dad 94.5%,#a907b3 95.3%,#7e00bc 96.7%,#2c0594 98.9%,#2c0594 99.6%)"></i><i style="top:71.43%;height:3.97%;background:linear-gradient(90deg,#a605b5 0.4%,#b915a5 1.1%,#e94b6a 2.6%,#ff793e 9.1%,#fe6f47 10.6%,#f2585d 11.3%,#d43087 12.0%,#9d00ba 12.8%,#4e01a7 13.5%,#280592 14.2%,#370499 15.0%,#7200b9 15.7%,#b411aa 16.4%,#da387f 17.2%,#eb4e67 17.9%,#f2585d 18.6%,#df3e78 27.4%,#d63384 50.0%,#c92594 62.4%,#9a00bb 75.5%,#7600ba 85.8%,#8000bc 91.6%,#a706b4 93.1%,#b00dad 94.5%,#a907b3 95.3%,#7e00bc 96.7%,#2c0594 98.9%,#2c0594 99.6%)"></i><i style="top:75.00%;height:3.97%;background:linear-gradient(90deg,#a303b7 0.4%,#b814a6 1.1%,#ea4c69 2.6%,#ff7641 8.4%,#ff773f 9.9%,#fe6e48 10.6%,#f0565f 11.3%,#d12d8b 12.0%,#9300bd 12.8%,#40039e 13.5%,#130789 14.2%,#260591 15.0%,#6500b3 15.7%,#b00dad 16.4%,#d93680 17.2%,#ec5065 17.9%,#f45c59 19.3%,#e24273 27.4%,#cb2792 62.4%,#9e00b9 74.8%,#7800ba 85.8%,#8000bc 91.6%,#a706b4 93.1%,#b00dad 94.5%,#a907b3 95.3%,#7e00bc 96.7%,#2c0594 98.9%,#2c0594 99.6%)"></i><i style="top:78.57%;height:3.97%;background:linear-gradient(90deg,#9e00b9 0.4%,#b512a9 1.1%,#ea4c69 2.6%,#ff7542 9.1%,#fc6b4a 10.6%,#f1575e 11.3%,#d63384 12.0%,#a605b5 12.8%,#6300b2 13.5%,#3e039d 14.2%,#4a01a5 15.0%,#8400bd 15.7%,#bb18a3 16.4%,#de3c7a 17.2%,#ee5263 17.9%,#f45c59 18.6%,#e5466f 28.1%,#cd298f 62.4%,#a001b8 74.8%,#7a00bb 85.8%,#8000bc 91.6%,#a706b4 93.1%,#b00dad 94.5%,#a907b3 95.3%,#7e00bc 96.7%,#2c0594 98.9%,#2c0594 99.6%)"></i><i style="top:82.14%;height:3.97%;background:linear-gradient(90deg,#9600bc 0.4%,#b00dad 1.1%,#ea4c69 2.6%,#fe6e48 9.1%,#fb694d 10.6%,#f3595c 11.3%,#e24175 12.0%,#a102b7 13.5%,#8a00bd 14.2%,#9300bd 15.0%,#b10eac 15.7%,#e5466f 17.2%,#f0565f 17.9%,#f65e57 19.3%,#e94b6a 28.1%,#de3c7a 50.0%,#cf2c8c 62.4%,#a001b8 75.5%,#7c00bb 85.8%,#8000bc 91.6%,#a706b4 93.1%,#b00dad 94.5%,#a907b3 95.3%,#7e00bc 96.7%,#2c0594 98.9%,#2c0594 99.6%)"></i><i style="top:85.71%;height:3.97%;background:linear-gradient(90deg,#8200bd 0.4%,#a605b5 1.1%,#e24273 2.6%,#f76154 9.1%,#f1575e 11.3%,#bf1b9f 14.2%,#c21e9c 15.0%,#e84a6c 17.2%,#f1575e 19.3%,#e44571 28.1%,#d93680 50.7%,#cb2792 62.4%,#a001b8 74.8%,#7c00bb 85.8%,#8000bc 91.6%,#a706b4 93.1%,#b00dad 94.5%,#a907b3 95.3%,#7e00bc 96.7%,#2c0594 98.9%,#2c0594 99.6%)"></i><i style="top:89.29%;height:3.97%;background:linear-gradient(90deg,#5400aa 0.4%,#8d00bd 1.1%,#bb18a3 1.8%,#d73483 2.6%,#ec5065 10.6%,#d53286 14.2%,#e7486d 17.9%,#e84a6c 19.3%,#dd3b7b 27.4%,#c52198 61.7%,#9e00b9 74.1%,#7c00bb 85.8%,#8000bc 91.6%,#a706b4 93.1%,#b00dad 94.5%,#a907b3 95.3%,#7e00bc 96.7%,#2c0594 98.9%,#2c0594 99.6%)"></i><i style="top:92.86%;height:3.97%;background:linear-gradient(90deg,#330498 0.4%,#7400b9 1.1%,#ae0caf 1.8%,#ca2693 2.6%,#df3e78 11.3%,#d73483 14.2%,#de3c7a 18.6%,#be1aa0 60.9%,#9d00ba 73.4%,#7c00bb 85.8%,#8000bc 91.6%,#a706b4 93.1%,#b00dad 94.5%,#a907b3 95.3%,#7e00bc 96.7%,#2c0594 98.9%,#2c0594 99.6%)"></i><i style="top:96.43%;height:3.97%;background:linear-gradient(90deg,#40039e 0.4%,#7800ba 1.1%,#a404b6 1.8%,#bb18a3 2.6%,#cf2c8c 10.6%,#d22e8a 20.1%,#b613a8 60.2%,#9d00ba 71.9%,#7c00bb 85.8%,#8000bc 91.6%,#a706b4 93.1%,#b00dad 94.5%,#a907b3 95.3%,#7e00bc 96.7%,#2c0594 98.9%,#2c0594 99.6%)"></i><b class="mesh"></b></div>
<div class="su" style="left:243.30px;top:153.98px;width:1000px;font-size:52.0px;transform:scale(0.1020,0.1)">Prediction-visibility-200s</div>
<div class="hm" style="left:226px;top:201.7px;width:136.6px;height:28.1px"><i style="top:0.00%;height:3.97%;background:linear-gradient(90deg,#4302a0 0.4%,#7000b8 1.1%,#a303b7 1.8%,#c21e9c 2.6%,#c52198 3.3%,#d12d8b 9.9%,#ce2b8e 30.3%,#b20fab 61.7%,#9e00b9 72.6%,#7c00bb 88.0%,#8000bc 91.6%,#a706b4 93.1%,#b00dad 94.5%,#a907b3 95.3%,#7e00bc 96.7%,#2c0594 98.9%,#2c0594 99.6%)"></i><i style="top:3.57%;height:3.97%;background:linear-gradient(90deg,#41039f 0.4%,#7200b9 1.1%,#ab0ab1 1.8%,#cf2c8c 2.6%,#e03f77 10.6%,#c01c9e 58.0%,#9e00b9 74.1%,#7c00bb 88.0%,#8000bc 91.6%,#a706b4 93.1%,#b00dad 94.5%,#a907b3 95.3%,#7e00bc 96.7%,#2c0594 98.9%,#2c0594 99.6%)"></i><i style="top:7.14%;height:3.97%;background:linear-gradient(90deg,#40039e 0.4%,#7400b9 1.1%,#b512a9 1.8%,#dc3a7c 2.6%,#ec5065 11.3%,#c52198 60.9%,#a001b8 74.8%,#7c00bb 87.2%,#8000bc 91.6%,#a706b4 93.1%,#b00dad 94.5%,#a907b3 95.3%,#7e00bc 96.7%,#2c0594 98.9%,#2c0594 99.6%)"></i><i style="top:10.71%;height:3.97%;background:linear-gradient(90deg,#40039e 0.4%,#7400b9 1.1%,#bd19a1 1.8%,#e6476e 2.6%,#f86253 9.9%,#cb2792 62.4%,#a001b8 75.5%,#7c00bb 86.5%,#8000bc 91.6%,#a706b4 93.1%,#b00dad 94.5%,#a907b3 95.3%,#7e00bc 96.7%,#2c0594 98.9%,#2c0594 99.6%)"></i><i style="top:14.29%;height:3.97%;background:linear-gradient(90deg,#3e039d 0.4%,#7600ba 1.1%,#c21e9c 1.8%,#ed5164 2.6%,#fd6d49 10.6%,#ef5362 15.0%,#f76154 20.1%,#d22e8a 61.7%,#a102b7 75.5%,#7c00bb 85.8%,#8000bc 91.6%,#a706b4 93.1%,#b00dad 94.5%,#a907b3 95.3%,#7e00bc 96.7%,#2c0594 98.9%,#2c0594 99.6%)"></i><i style="top:17.86%;height:3.97%;background:linear-gradient(90deg,#3c049c 0.4%,#7400b9 1.1%,#c01c9e 1.8%,#ec5065 2.6%,#fa674e 9.9%,#f35b5a 12.0%,#da387f 15.0%,#f0565f 17.9%,#f45c59 20.1%,#d12d8b 61.7%,#a001b8 75.5%,#7a00bb 85.8%,#8000bc 91.6%,#a706b4 93.1%,#b00dad 94.5%,#a907b3 95.3%,#7e00bc 96.7%,#2c0594 98.9%,#2c0594 99.6%)"></i><i style="top:21.43%;height:3.97%;background:linear-gradient(90deg,#3a049b 0.4%,#7200b9 1.1%,#bf1b9f 1.8%,#ea4d68 2.6%,#f76154 9.9%,#ea4c69 12.0%,#b814a6 14.2%,#b10eac 15.0%,#b915a5 15.7%,#e84a6c 17.9%,#f1575e 20.8%,#cf2c8c 61.7%,#a102b7 74.8%,#7800ba 85.8%,#8000bc 91.6%,#a706b4 93.1%,#b00dad 94.5%,#a907b3 95.3%,#7e00bc 96.7%,#2c0594 98.9%,#2c0594 99.6%)"></i><i style="top:25.00%;height:3.97%;background:linear-gradient(90deg,#3a049b 0.4%,#7000b8 1.1%,#be1aa0 1.8%,#ea4c69 2.6%,#f35b5a 9.9%,#ea4d68 11.3%,#de3c7a 12.0%,#a102b7 13.5%,#7a00bb 14.2%,#6b00b5 15.0%,#8000bc 15.7%,#a706b4 16.4%,#c82396 17.2%,#dd3b7b 17.9%,#ec5065 19.3%,#db397e 50.7%,#cd298f 62.4%,#9b00bb 76.3%,#7600ba 86.5%,#8000bc 91.6%,#a706b4 93.1%,#b00dad 94.5%,#a907b3 95.3%,#7e00bc 96.7%,#2c0594 98.9%,#2c0594 99.6%)"></i><i style="top:28.57%;height:3.97%;background:linear-gradient(90deg,#39049a 0.4%,#7000b8 1.1%,#bd19a1 1.8%,#e94b6a 2.6%,#f0565f 9.1%,#ec5065 10.6%,#e44571 11.3%,#d22e8a 12.0%,#ae0caf 12.8%,#7400b9 13.5%,#3e039d 14.2%,#2c0594 15.0%,#4502a1 15.7%,#7e00bc 16.4%,#b411aa 17.2%,#d32f88 17.9%,#e24175 18.6%,#ea4d68 20.1%,#db397e 50.0%,#cc2890 62.4%,#a102b7 74.1%,#7600ba 85.8%,#8000bc 91.6%,#a706b4 93.1%,#b00dad 94.5%,#a907b3 95.3%,#7e00bc 96.7%,#2c0594 98.9%,#2c0594 99.6%)"></i><i style="top:32.14%;height:3.97%;background:linear-gradient(90deg,#370499 0.4%,#6e00b7 1.1%,#bd19a1 1.8%,#e7486d 2.6%,#ec5065 9.1%,#e84a6c 10.6%,#df3e78 11.3%,#ca2693 12.0%,#a303b7 12.8%,#5f00b0 13.5%,#280592 14.2%,#0d0887 15.0%,#2f0596 15.7%,#6b00b5 16.4%,#a907b3 17.2%,#cc2890 17.9%,#de3c7a 18.6%,#e5466f 19.3%,#e84a6c 20.8%,#da387f 50.0%,#cb2792 62.4%,#9b00bb 75.5%,#7400b9 85.8%,#8000bc 91.6%,#a706b4 93.1%,#b00dad 94.5%,#a907b3 95.3%,#7e00bc 96.7%,#2c0594 98.9%,#2c0594 99.6%)"></i><i style="top:35.71%;height:3.97%;background:linear-gradient(90deg,#350499 0.4%,#6e00b7 1.1%,#b915a5 1.8%,#e24273 2.6%,#e7486d 9.1%,#e24273 10.6%,#db397e 11.3%,#c82396 12.0%,#a404b6 12.8%,#6b00b5 13.5%,#3a049b 14.2%,#2a0593 15.0%,#40039e 15.7%,#7400b9 16.4%,#ab0ab1 17.2%,#ca2693 17.9%,#da387f 18.6%,#e24273 20.1%,#d73483 49.3%,#ca2693 61.7%,#9b00bb 74.8%,#7200b9 85.8%,#7a00bb 90.9%,#8000bc 91.6%,#a706b4 93.1%,#b00dad 94.5%,#a907b3 95.3%,#7e00bc 96.7%,#2c0594 98.9%,#2c0594 99.6%)"></i><i style="top:39.29%;height:3.97%;background:linear-gradient(90deg,#350499 0.4%,#6c00b6 1.1%,#b512a9 1.8%,#dd3b7b 2.6%,#e14076 9.1%,#dd3b7b 10.6%,#ca2693 12.0%,#8d00bd 13.5%,#6900b5 14.2%,#5b00ae 15.0%,#6c00b6 15.7%,#9300bd 16.4%,#b512a9 17.2%,#cb2792 17.9%,#db397e 19.3%,#d32f88 48.5%,#c4209a 62.4%,#9800bc 74.8%,#7000b8 85.8%,#7a00bb 90.9%,#8000bc 91.6%,#a706b4 93.1%,#b00dad 94.5%,#a907b3 95.3%,#7e00bc 96.7%,#2c0594 98.9%,#2c0594 99.6%)"></i><i style="top:42.86%;height:3.97%;background:linear-gradient(90deg,#350499 0.4%,#6c00b6 1.1%,#b10eac 1.8%,#d63384 2.6%,#d93680 9.9%,#cb2792 12.0%,#ab0ab1 13.5%,#9300bd 15.0%,#9d00ba 15.7%,#cc2890 17.9%,#d63384 19.3%,#cd298f 50.0%,#c01c9e 62.4%,#9800bc 74.1%,#6e00b7 85.8%,#7a00bb 90.9%,#8000bc 91.6%,#a706b4 93.1%,#b00dad 94.5%,#a907b3 95.3%,#7e00bc 96.7%,#2c0594 98.9%,#2c0594 99.6%)"></i><i style="top:46.43%;height:3.97%;background:linear-gradient(90deg,#330498 0.4%,#6c00b6 1.1%,#ad0bb0 1.8%,#ce2b8e 2.6%,#d22e8a 9.9%,#ca2693 12.0%,#b10eac 15.0%,#cb2792 17.9%,#d12d8b 20.1%,#bf1b9f 60.9%,#9500bc 74.1%,#6b00b5 85.8%,#7a00bb 90.9%,#8000bc 91.6%,#a706b4 93.1%,#b00dad 94.5%,#a907b3 95.3%,#7e00bc 96.7%,#2c0594 98.9%,#2c0594 99.6%)"></i><i style="top:50.00%;height:3.97%;background:linear-gradient(90deg,#350499 0.4%,#6c00b6 1.1%,#aa09b2 1.8%,#c82396 2.6%,#c92594 10.6%,#bd19a1 15.0%,#c92594 18.6%,#c92594 36.9%,#b915a5 62.4%,#a102b7 69.7%,#9100bd 74.1%,#6900b5 85.8%,#8000bc 91.6%,#a706b4 93.1%,#b00dad 94.5%,#a907b3 95.3%,#7e00bc 96.7%,#2c0594 98.9%,#2c0594 99.6%)"></i><i style="top:53.57%;height:3.97%;background:linear-gradient(90deg,#350499 0.4%,#6e00b7 1.1%,#ab0ab1 1.8%,#ca2693 2.6%,#cc2890 35.4%,#bb18a3 62.4%,#9600bc 73.4%,#6b00b5 85.8%,#7a00bb 90.9%,#8000bc 91.6%,#a706b4 93.1%,#b00dad 94.5%,#a907b3 95.3%,#7e00bc 96.7%,#2c0594 98.9%,#2c0594 99.6%)"></i><i style="top:57.14%;height:7.54%;background:linear-gradient(90deg,#38049a 0.4%,#7100b8 1.1%,#b00ead 1.8%,#d02c8c 2.6%,#d12e8a 34.7%,#bf1b9f 62.4%,#9500bc 74.8%,#6e00b7 85.8%,#7a00bb 90.9%,#8000bc 91.6%,#a706b4 93.1%,#b00dad 94.5%,#a907b3 95.3%,#7e00bc 96.7%,#2c0594 98.9%,#2c0594 99.6%)"></i><i style="top:64.29%;height:7.54%;background:linear-gradient(90deg,#3b049c 0.4%,#7500ba 1.1%,#b612a8 1.8%,#d63384 2.6%,#da387f 20.1%,#d22f89 48.5%,#c62297 61.7%,#9900bb 74.8%,#7300b9 85.8%,#8000bc 91.6%,#a706b4 93.1%,#b00dad 94.5%,#a907b3 95.3%,#7e00bc 96.7%,#2c0594 98.9%,#2c0594 99.6%)"></i><i style="top:71.43%;height:7.54%;background:linear-gradient(90deg,#3f039e 0.4%,#7600ba 1.1%,#b814a6 1.8%,#db397e 2.6%,#e03f77 11.3%,#c62297 14.2%,#e14076 16.4%,#e24274 21.5%,#d73582 49.3%,#ca2693 62.4%,#9a00bb 75.5%,#7700ba 85.8%,#8000bc 91.6%,#a706b4 93.1%,#b00dad 94.5%,#a907b3 95.3%,#7e00bc 96.7%,#2c0594 98.9%,#2c0594 99.6%)"></i><i style="top:78.57%;height:3.97%;background:linear-gradient(90deg,#4302a0 0.4%,#7800ba 1.1%,#b915a5 1.8%,#de3c7a 2.6%,#e6476e 10.6%,#e44571 12.0%,#d22e8a 14.2%,#e7486d 16.4%,#e94b6a 20.8%,#dc3a7c 48.5%,#cd298f 62.4%,#a001b8 74.8%,#7a00bb 85.8%,#8000bc 91.6%,#a706b4 93.1%,#b00dad 94.5%,#a907b3 95.3%,#7e00bc 96.7%,#2c0594 98.9%,#2c0594 99.6%)"></i><i style="top:82.14%;height:3.97%;background:linear-gradient(90deg,#4502a1 0.4%,#7800ba 1.1%,#ba16a4 1.8%,#e03f77 2.6%,#ea4c69 11.3%,#e24273 14.2%,#eb4e67 16.4%,#ed5164 20.1%,#de3c7a 50.0%,#cf2c8c 62.4%,#a001b8 75.5%,#7c00bb 85.8%,#8000bc 91.6%,#a706b4 93.1%,#b00dad 94.5%,#a907b3 95.3%,#7e00bc 96.7%,#2c0594 98.9%,#2c0594 99.6%)"></i><i style="top:85.71%;height:3.97%;background:linear-gradient(90deg,#4502a1 0.4%,#7600ba 1.1%,#b512a9 1.8%,#da387f 2.6%,#e94b6a 20.1%,#d93680 50.7%,#cb2792 62.4%,#a001b8 74.8%,#7c00bb 85.8%,#8000bc 91.6%,#a706b4 93.1%,#b00dad 94.5%,#a907b3 95.3%,#7e00bc 96.7%,#2c0594 98.9%,#2c0594 99.6%)"></i><i style="top:89.29%;height:3.97%;background:linear-gradient(90deg,#4502a1 0.4%,#7400b9 1.1%,#ae0caf 1.8%,#cf2c8c 2.6%,#e14076 20.1%,#c52198 61.7%,#9e00b9 74.1%,#7c00bb 85.8%,#8000bc 91.6%,#a706b4 93.1%,#b00dad 94.5%,#a907b3 95.3%,#7e00bc 96.7%,#2c0594 98.9%,#2c0594 99.6%)"></i><i style="top:92.86%;height:3.97%;background:linear-gradient(90deg,#4302a0 0.4%,#7200b9 1.1%,#a605b5 1.8%,#c4209a 2.6%,#d83582 20.1%,#be1aa0 60.9%,#9d00ba 73.4%,#7c00bb 85.8%,#8000bc 91.6%,#a706b4 93.1%,#b00dad 94.5%,#a907b3 95.3%,#7e00bc 96.7%,#2c0594 98.9%,#2c0594 99.6%)"></i><i style="top:96.43%;height:3.97%;background:linear-gradient(90deg,#40039e 0.4%,#6e00b7 1.1%,#9e00b9 1.8%,#b814a6 2.6%,#ce2b8e 20.1%,#b613a8 60.2%,#9d00ba 71.9%,#7c00bb 85.8%,#8000bc 91.6%,#a706b4 93.1%,#b00dad 94.5%,#a907b3 95.3%,#7e00bc 96.7%,#2c0594 98.9%,#2c0594 99.6%)"></i><b class="mesh"></b></div>
<div class="su" style="left:243.30px;top:194.78px;width:1000px;font-size:52.0px;transform:scale(0.1020,0.1)">Prediction-visibility-300s</div>
<div class="hm" style="left:392.1px;top:80.3px;width:136.6px;height:28.4px"><i style="top:0.00%;height:7.54%;background:linear-gradient(90deg,#9f00b9 0.4%,#9900bb 2.6%,#8200bd 5.5%,#9300bd 6.2%,#ac0ab0 6.9%,#eb4e67 9.1%,#fa664f 10.6%,#ff7b3c 13.5%,#ff7145 16.4%,#ec4f66 17.9%,#b411a9 20.1%,#a303b7 21.5%,#a404b6 23.7%,#cf2b8d 28.1%,#bf1b9f 31.8%,#a102b7 35.4%,#a404b6 38.3%,#bf1b9f 42.0%,#c31f9b 44.9%,#9f00b9 50.0%,#9300bd 52.2%,#9400bd 53.6%,#af0dae 57.3%,#9e00b9 63.9%,#7800ba 68.2%,#8c00bd 72.6%,#9500bc 82.1%,#7d00bc 85.0%,#4a01a5 89.4%,#4a01a5 90.1%,#7000b8 93.8%,#7200b9 99.6%)"></i><i style="top:7.14%;height:3.97%;background:linear-gradient(90deg,#9500bc 0.4%,#9500bc 1.8%,#8000bc 4.7%,#8400bd 5.5%,#9500bc 6.2%,#ae0caf 6.9%,#ec5065 9.1%,#fa674e 10.6%,#ff7b3c 13.5%,#ff7343 16.4%,#ef5362 17.9%,#bf1b9f 20.1%,#ad0bb0 21.5%,#a706b4 23.0%,#ad0bb0 24.5%,#cb2792 26.6%,#d43087 28.1%,#a102b7 35.4%,#a907b3 38.3%,#c21e9c 42.0%,#c4209a 44.2%,#be1aa0 46.4%,#a001b8 50.0%,#9500bc 52.9%,#b00dad 56.6%,#ae0caf 58.0%,#9e00b9 60.9%,#9800bc 63.9%,#7400b9 68.2%,#8c00bd 72.6%,#9500bc 82.1%,#7200b9 85.8%,#4902a4 89.4%,#6e00b7 93.8%,#7200b9 99.6%)"></i><i style="top:10.71%;height:3.97%;background:linear-gradient(90deg,#8400bd 0.4%,#7e00bc 4.7%,#8400bd 5.5%,#9800bc 6.2%,#ca2693 7.7%,#ee5263 9.1%,#fb694d 10.6%,#ff7b3c 14.2%,#ff7a3d 15.7%,#fc6b4a 17.2%,#c31f9b 20.8%,#ae0caf 23.7%,#db397e 28.1%,#cf2c8c 30.3%,#a907b3 33.9%,#a001b8 35.4%,#c62297 42.7%,#c21e9c 45.6%,#a102b7 50.0%,#9b00bb 52.2%,#b20fab 57.3%,#9600bc 61.7%,#8a00bd 64.6%,#7000b8 67.5%,#8c00bd 72.6%,#9100bd 82.1%,#7600ba 85.0%,#4702a3 89.4%,#6b00b5 93.8%,#7200b9 99.6%)"></i><i style="top:14.29%;height:3.97%;background:linear-gradient(90deg,#6c00b6 0.4%,#7600ba 4.0%,#8600bd 5.5%,#9b00bb 6.2%,#cd298f 7.7%,#ef5560 9.1%,#f86253 9.9%,#ff7343 12.0%,#ff7a3d 16.4%,#f96550 17.9%,#d53286 20.8%,#b512a9 23.7%,#c31f9b 25.2%,#e24273 27.4%,#e44571 28.1%,#cd298f 31.0%,#a001b8 34.7%,#9e00b9 35.4%,#c01c9e 39.8%,#c92594 42.7%,#c31f9b 45.6%,#a102b7 50.0%,#a303b7 52.9%,#b512a9 57.3%,#9500bc 60.9%,#6b00b5 67.5%,#8c00bd 72.6%,#8f00bd 82.1%,#7c00bb 84.3%,#4502a1 89.4%,#6700b4 93.8%,#7200b9 99.6%)"></i><i style="top:17.86%;height:3.97%;background:linear-gradient(90deg,#5500ab 0.4%,#6500b3 3.3%,#7800ba 4.7%,#a001b8 6.2%,#cf2c8c 7.7%,#f2585d 9.1%,#ff7343 12.0%,#ff7e39 15.7%,#ff773f 17.2%,#ec5065 20.1%,#bb18a3 23.7%,#be1aa0 24.5%,#ea4d68 27.4%,#eb4e67 28.1%,#d12d8b 31.0%,#9e00b9 34.7%,#a605b5 36.1%,#c52198 39.1%,#cc2890 42.0%,#c31f9b 45.6%,#a303b7 50.0%,#b915a5 56.6%,#b10eac 58.0%,#a001b8 59.5%,#8d00bd 60.9%,#6700b4 66.1%,#6900b5 68.2%,#8000bc 70.4%,#8c00bd 72.6%,#8d00bd 81.4%,#8800bd 82.8%,#41039f 89.4%,#6700b4 94.5%,#7200b9 99.6%)"></i><i style="top:21.43%;height:3.97%;background:linear-gradient(90deg,#4502a1 0.4%,#5000a8 2.6%,#8d00bd 5.5%,#a404b6 6.2%,#d32f88 7.7%,#f3595c 9.1%,#fc6b4a 10.6%,#ff7244 12.8%,#ff7e39 16.4%,#ff773f 17.9%,#ef5560 20.8%,#c21e9c 23.7%,#c31f9b 24.5%,#ee5263 27.4%,#ef5362 28.1%,#d32f88 31.0%,#9b00bb 34.7%,#a605b5 36.1%,#c62297 38.3%,#cf2c8c 42.0%,#c31f9b 45.6%,#a404b6 50.0%,#ba16a4 56.6%,#9100bd 60.2%,#6e00b7 63.1%,#6100b1 66.1%,#6700b4 68.2%,#8800bd 71.2%,#8d00bd 73.4%,#8a00bd 82.1%,#41039f 89.4%,#6b00b5 96.0%,#6e00b7 99.6%)"></i><i style="top:25.00%;height:3.97%;background:linear-gradient(90deg,#3c049c 0.4%,#4a01a5 2.6%,#9500bc 5.5%,#ab0ab1 6.2%,#d63384 7.7%,#f35b5a 9.1%,#fb694d 10.6%,#ff7542 15.0%,#ff7e39 17.2%,#ff7244 19.3%,#f65e57 20.8%,#c4209a 23.7%,#c4209a 24.5%,#e34472 26.6%,#ec5065 28.1%,#d22e8a 31.0%,#b00dad 33.2%,#9b00bb 34.7%,#a706b4 36.1%,#ce2b8e 39.1%,#d22e8a 42.0%,#c4209a 45.6%,#a605b5 49.3%,#b613a8 56.6%,#9500bc 59.5%,#7e00bc 60.9%,#6300b2 64.6%,#6b00b5 68.2%,#8f00bd 71.9%,#8a00bd 82.1%,#41039f 89.4%,#6300b2 94.5%,#6900b5 99.6%)"></i><i style="top:28.57%;height:3.97%;background:linear-gradient(90deg,#3a049b 0.4%,#3e039d 1.8%,#4a01a5 2.6%,#7200b9 4.0%,#a001b8 5.5%,#da387f 7.7%,#f3595c 9.1%,#f86253 9.9%,#f65e57 13.5%,#ff7542 15.7%,#ff7e39 17.2%,#fe6f47 20.1%,#ef5362 21.5%,#d22e8a 23.0%,#c21e9c 24.5%,#e24175 27.4%,#e14076 28.8%,#cd298f 31.0%,#a102b7 33.9%,#9a00bb 34.7%,#a706b4 36.1%,#ca2693 38.3%,#d43087 42.0%,#c4209a 45.6%,#a706b4 49.3%,#b613a8 52.9%,#ae0caf 56.6%,#9500bc 58.8%,#7600ba 60.9%,#6700b4 63.9%,#6e00b7 67.5%,#9300bd 71.9%,#9500bc 74.8%,#8600bd 82.8%,#4302a0 89.4%,#5f00b0 93.1%,#5f00b0 99.6%)"></i><i style="top:32.14%;height:3.97%;background:linear-gradient(90deg,#3a049b 0.4%,#40039e 1.8%,#4c01a6 2.6%,#7a00bb 4.0%,#9500bc 4.7%,#aa09b2 5.5%,#ea4c69 8.4%,#f65e57 9.9%,#eb4e67 12.8%,#ee5263 13.5%,#ff773f 16.4%,#ff7d3a 17.9%,#ff7343 20.1%,#f0565f 21.5%,#c01c9e 23.7%,#b814a6 24.5%,#b915a5 25.2%,#d83582 28.1%,#c92594 31.0%,#9a00bb 34.7%,#a706b4 36.1%,#cb2792 38.3%,#d53286 42.0%,#c92594 44.9%,#a706b4 49.3%,#b814a6 52.9%,#b512a9 54.4%,#9500bc 58.0%,#7400b9 60.2%,#6b00b5 62.4%,#7000b8 66.1%,#9100bd 70.4%,#9a00bb 73.4%,#8a00bd 82.1%,#4702a3 89.4%,#6500b3 93.8%,#5400aa 99.6%)"></i><i style="top:35.71%;height:3.97%;background:linear-gradient(90deg,#3a049b 0.4%,#41039f 1.8%,#5000a8 2.6%,#8400bd 4.0%,#9e00b9 4.7%,#c52198 6.2%,#ea4d68 8.4%,#f35b5a 9.9%,#e24273 12.8%,#ec5065 14.2%,#ff7343 16.4%,#ff7a3d 19.3%,#fc6a4c 20.8%,#e24175 22.3%,#b411aa 23.7%,#a001b8 24.5%,#9b00bb 25.2%,#ca2693 28.1%,#c4209a 31.0%,#9a00bb 34.7%,#a706b4 36.1%,#d22e8a 39.1%,#d63384 42.0%,#c92594 44.9%,#a605b5 49.3%,#b814a6 53.6%,#9100bd 57.3%,#6900b5 60.9%,#6e00b7 63.9%,#9a00bb 71.2%,#9b00bb 74.8%,#8200bd 83.6%,#4902a4 89.4%,#4e01a7 90.9%,#6700b4 93.1%,#4c01a6 97.4%,#4a01a5 99.6%)"></i><i style="top:39.29%;height:3.97%;background:linear-gradient(90deg,#3e039d 0.4%,#4502a1 1.8%,#5500ab 2.6%,#8f00bd 4.0%,#be1aa0 5.5%,#ec5065 8.4%,#f2585d 9.9%,#e03f77 12.0%,#de3c7a 13.5%,#ff7244 17.2%,#ff7641 20.1%,#f1575e 21.5%,#c01c9e 23.0%,#9800bc 23.7%,#6e00b7 24.5%,#6100b1 25.2%,#7200b9 25.9%,#9500bc 26.6%,#ae0caf 27.4%,#bb18a3 28.1%,#be1aa0 31.0%,#9a00bb 34.7%,#aa09b2 36.1%,#cd298f 38.3%,#d73483 41.2%,#d12d8b 43.4%,#a404b6 49.3%,#b512a9 53.6%,#9300bd 56.6%,#6e00b7 59.5%,#6700b4 60.9%,#9600bc 69.7%,#9d00ba 72.6%,#8800bd 79.2%,#8600bd 82.8%,#7200b9 85.8%,#4a01a5 89.4%,#6900b5 93.8%,#4902a4 96.7%,#4302a0 99.6%)"></i><i style="top:42.86%;height:3.97%;background:linear-gradient(90deg,#4302a0 0.4%,#4a01a5 1.8%,#5d00af 2.6%,#7a00bb 3.3%,#9b00bb 4.0%,#c92594 5.5%,#e7486d 7.7%,#f0565f 9.9%,#dd3b7b 12.0%,#d93680 13.5%,#fa664f 17.2%,#ff7542 20.1%,#f0565f 21.5%,#da387f 22.3%,#b20fab 23.0%,#7200b9 23.7%,#3c049c 24.5%,#2c0594 25.2%,#41039f 25.9%,#7000b8 26.6%,#9b00bb 27.4%,#ae0caf 28.1%,#b915a5 29.6%,#b814a6 31.0%,#9d00ba 34.7%,#ae0caf 36.1%,#d22e8a 38.3%,#d83582 39.8%,#ce2b8e 43.4%,#a001b8 49.3%,#ad0bb0 53.6%,#8c00bd 56.6%,#6e00b7 60.2%,#9600bc 67.5%,#9800bc 73.4%,#8200bd 79.2%,#8400bd 82.8%,#7200b9 85.8%,#4a01a5 89.4%,#6900b5 93.8%,#41039f 97.4%,#40039e 99.6%)"></i><i style="top:46.43%;height:3.97%;background:linear-gradient(90deg,#4a01a5 0.4%,#5200a9 1.8%,#6700b4 2.6%,#8800bd 3.3%,#a706b4 4.0%,#c01c9e 4.7%,#e03f77 6.2%,#f2585d 9.1%,#d53286 12.8%,#d53286 13.5%,#ff7244 20.1%,#fc6a4c 20.8%,#ef5560 21.5%,#d73483 22.3%,#ab0ab1 23.0%,#6300b2 23.7%,#280592 24.5%,#0d0887 25.2%,#2e0595 25.9%,#5f00b0 26.6%,#8f00bd 27.4%,#a605b5 28.1%,#b20fab 30.3%,#9e00b9 34.7%,#b20fab 36.1%,#cd298f 37.6%,#db397e 39.1%,#d12d8b 42.7%,#b00dad 46.4%,#9b00bb 49.3%,#a605b5 52.9%,#7e00bc 57.3%,#7600ba 60.2%,#9e00b9 68.2%,#7c00bb 78.5%,#7e00bc 83.6%,#7200b9 85.8%,#4a01a5 89.4%,#6900b5 93.8%,#40039e 97.4%,#3e039d 99.6%)"></i><i style="top:50.00%;height:3.97%;background:linear-gradient(90deg,#5200a9 0.4%,#5b00ae 1.8%,#7000b8 2.6%,#9300bd 3.3%,#cb2792 4.7%,#e84a6c 6.2%,#f2585d 9.1%,#d22e8a 13.5%,#e24273 16.4%,#ff7145 20.1%,#fc6a4c 20.8%,#f0565f 21.5%,#da387f 22.3%,#b20fab 23.0%,#7200b9 23.7%,#3c049c 24.5%,#2a0593 25.2%,#40039e 25.9%,#6900b5 26.6%,#8d00bd 27.4%,#a102b7 28.1%,#aa09b2 29.6%,#a102b7 34.7%,#b613a8 36.1%,#d22e8a 37.6%,#df3e78 39.1%,#ce2b8e 42.7%,#a303b7 47.1%,#9600bc 49.3%,#9800bc 53.6%,#7a00bb 58.0%,#7e00bc 60.2%,#a605b5 67.5%,#7800ba 77.0%,#7400b9 79.2%,#7e00bc 82.8%,#7600ba 85.0%,#4a01a5 89.4%,#4a01a5 90.1%,#6900b5 93.1%,#6700b4 93.8%,#3e039d 97.4%,#3c049c 99.6%)"></i><i style="top:53.57%;height:3.97%;background:linear-gradient(90deg,#5b00ae 0.4%,#6500b3 1.8%,#9d00ba 3.3%,#d43087 4.7%,#ee5263 6.2%,#f3595c 9.1%,#d53286 12.8%,#d43087 14.2%,#de3c7a 16.4%,#fe6f47 20.1%,#fc6a4c 20.8%,#e14076 22.3%,#c4209a 23.0%,#9b00bb 23.7%,#7000b8 24.5%,#5f00b0 25.2%,#6900b5 25.9%,#8200bd 26.6%,#a001b8 28.1%,#a404b6 34.7%,#d43087 37.6%,#e03f77 39.1%,#d22e8a 42.0%,#a102b7 46.4%,#9300bd 48.5%,#8f00bd 53.6%,#7a00bb 57.3%,#9300bd 62.4%,#ab0ab1 67.5%,#9100bd 71.2%,#6c00b6 77.7%,#7600ba 84.3%,#4a01a5 89.4%,#4a01a5 90.1%,#6900b5 93.1%,#3c049c 97.4%,#3a049b 99.6%)"></i><i style="top:57.14%;height:3.97%;background:linear-gradient(90deg,#6900b5 0.4%,#7200b9 1.8%,#8a00bd 2.6%,#a706b4 3.3%,#da387f 4.7%,#f2585d 6.2%,#f35b5a 9.1%,#d93680 13.5%,#e24175 16.4%,#ff7145 20.1%,#fd6d49 20.8%,#ea4c69 22.3%,#bf1b9f 23.7%,#a907b3 24.5%,#9b00bb 25.2%,#a404b6 34.7%,#b915a5 36.1%,#d32f88 37.6%,#dd3b7b 39.1%,#cd298f 42.0%,#a001b8 45.6%,#9100bd 47.8%,#8800bd 50.0%,#8c00bd 52.9%,#7a00bb 57.3%,#a706b4 64.6%,#ae0caf 67.5%,#9100bd 71.2%,#7600ba 74.1%,#6500b3 77.7%,#7200b9 83.6%,#6b00b5 85.8%,#4902a4 89.4%,#6900b5 93.1%,#5f00b0 94.5%,#40039e 96.7%,#3a049b 99.6%)"></i><i style="top:60.71%;height:3.97%;background:linear-gradient(90deg,#7800ba 0.4%,#8200bd 1.8%,#9600bc 2.6%,#b10eac 3.3%,#df3e78 4.7%,#f45c59 6.2%,#f45c59 9.1%,#e34472 13.5%,#ea4d68 16.4%,#fe6e48 19.3%,#ff7145 20.8%,#f2585d 22.3%,#cb2792 24.5%,#b814a6 25.9%,#a102b7 31.0%,#a404b6 34.7%,#cd298f 37.6%,#d73483 39.1%,#c62297 42.0%,#9800bc 45.6%,#8400bd 49.3%,#8a00bd 52.9%,#7a00bb 57.3%,#9600bc 61.7%,#ad0bb0 64.6%,#b10eac 66.8%,#ad0bb0 68.2%,#8f00bd 71.2%,#6700b4 75.5%,#5d00af 77.7%,#6c00b6 82.8%,#6300b2 85.8%,#4902a4 89.4%,#6900b5 93.1%,#5f00b0 94.5%,#40039e 96.7%,#39049a 99.6%)"></i><i style="top:64.29%;height:3.97%;background:linear-gradient(90deg,#8800bd 0.4%,#9100bd 1.8%,#a102b7 2.6%,#e24273 4.7%,#f66055 6.2%,#ee5263 13.5%,#ff773f 20.1%,#ff7542 20.8%,#ea4c69 23.7%,#b512a9 27.4%,#a102b7 31.8%,#aa09b2 35.4%,#c62297 37.6%,#ce2b8e 39.1%,#b915a5 42.7%,#9a00bb 44.9%,#8200bd 47.1%,#7e00bc 50.0%,#8800bd 53.6%,#7c00bb 57.3%,#9100bd 60.9%,#ae0caf 63.9%,#b20fab 66.8%,#a706b4 69.0%,#8f00bd 71.2%,#6700b4 74.8%,#5500ab 77.7%,#5400aa 79.2%,#6500b3 82.8%,#4902a4 89.4%,#6900b5 93.1%,#5f00b0 94.5%,#40039e 96.7%,#39049a 99.6%)"></i><i style="top:67.86%;height:3.97%;background:linear-gradient(90deg,#9300bd 0.4%,#9b00bb 1.8%,#aa09b2 2.6%,#e44571 4.7%,#f66055 6.2%,#f35b5a 12.0%,#ff793e 19.3%,#ff7244 21.5%,#eb4e67 24.5%,#b411aa 28.1%,#a404b6 31.8%,#a605b5 34.7%,#c82396 39.1%,#b915a5 42.0%,#9d00ba 44.2%,#7e00bc 46.4%,#7a00bb 50.0%,#8800bd 52.9%,#8000bc 58.0%,#9d00ba 61.7%,#b411aa 63.9%,#b613a8 66.1%,#ae0caf 68.2%,#8f00bd 71.2%,#6300b2 74.8%,#4c01a6 78.5%,#5d00af 82.8%,#4a01a5 89.4%,#6b00b5 93.1%,#40039e 96.7%,#39049a 99.6%)"></i><i style="top:71.43%;height:3.97%;background:linear-gradient(90deg,#9800bc 0.4%,#9e00b9 1.8%,#ab0ab1 2.6%,#e24175 4.7%,#f35b5a 6.2%,#f35b5a 12.0%,#ff7d3a 17.9%,#ff793e 20.8%,#f76154 23.7%,#c01c9e 28.1%,#ae0caf 31.8%,#ae0caf 34.7%,#c4209a 39.1%,#b411aa 42.0%,#9800bc 44.2%,#7a00bb 46.4%,#7800ba 49.3%,#8800bd 52.9%,#8000bc 56.6%,#8600bd 58.8%,#a001b8 61.7%,#ba16a4 63.9%,#bd19a1 65.3%,#b00dad 68.2%,#8f00bd 71.2%,#5900ad 75.5%,#4702a3 78.5%,#5500ab 82.1%,#4e01a7 88.0%,#6b00b5 93.1%,#6900b5 93.8%,#40039e 96.7%,#39049a 99.6%)"></i><i style="top:75.00%;height:3.97%;background:linear-gradient(90deg,#9500bc 0.4%,#9a00bb 1.8%,#a605b5 2.6%,#d83582 4.7%,#ea4d68 6.2%,#f0565f 9.1%,#ee5263 12.8%,#fc6b4a 15.0%,#ff8434 17.2%,#ff7d3a 20.1%,#fd6d49 22.3%,#d73483 27.4%,#c21e9c 31.0%,#bd19a1 35.4%,#c4209a 39.1%,#a907b3 42.7%,#8c00bd 44.9%,#7a00bb 47.1%,#8a00bd 53.6%,#8600bd 58.0%,#9b00bb 60.9%,#ba16a4 63.1%,#c31f9b 64.6%,#b20fab 68.2%,#8f00bd 71.2%,#5f00b0 74.8%,#4702a3 77.7%,#4e01a7 86.5%,#6b00b5 90.9%,#6e00b7 93.1%,#40039e 96.7%,#39049a 99.6%)"></i><i style="top:78.57%;height:3.97%;background:linear-gradient(90deg,#8a00bd 0.4%,#9b00bb 2.6%,#cb2792 4.7%,#e34472 6.9%,#ec5065 9.9%,#e24273 12.8%,#f0565f 14.2%,#ff7641 15.7%,#ff8a2f 17.2%,#ff7e39 20.1%,#fe6f47 21.5%,#ef5362 24.5%,#d22e8a 31.8%,#c62297 39.1%,#9e00b9 43.4%,#8d00bd 44.9%,#8000bc 46.4%,#8a00bd 58.0%,#a102b7 60.9%,#c01c9e 63.1%,#ca2693 64.6%,#bb18a3 67.5%,#9100bd 71.2%,#6700b4 74.1%,#41039f 78.5%,#4a01a5 85.8%,#7800ba 89.4%,#7c00bb 90.9%,#7000b8 93.1%,#40039e 96.7%,#39049a 99.6%)"></i><i style="top:82.14%;height:3.97%;background:linear-gradient(90deg,#8000bc 0.4%,#8600bd 1.8%,#9e00b9 3.3%,#d12d8b 6.2%,#e44571 8.4%,#e7486d 9.9%,#d63384 12.8%,#dc3a7c 13.5%,#ff7542 15.7%,#ff902a 17.2%,#ff7e39 20.1%,#ed5164 23.7%,#f2585d 28.1%,#e24175 31.8%,#d43087 36.9%,#c92594 39.1%,#a303b7 42.7%,#8f00bd 44.9%,#8400bd 47.1%,#8a00bd 57.3%,#9d00ba 60.2%,#c82396 63.1%,#d12d8b 64.6%,#b915a5 68.2%,#9100bd 71.2%,#6700b4 74.1%,#40039e 78.5%,#4902a4 85.8%,#5f00b0 87.2%,#8200bd 88.7%,#9100bd 90.1%,#7400b9 93.1%,#40039e 96.7%,#39049a 99.6%)"></i><i style="top:85.71%;height:3.97%;background:linear-gradient(90deg,#7800ba 0.4%,#7c00bb 1.8%,#a102b7 4.0%,#e03f77 8.4%,#e34472 9.9%,#ca2693 12.8%,#e24273 14.2%,#ff7343 15.7%,#ff9427 17.2%,#ff7542 20.8%,#ea4c69 23.7%,#fb694d 28.1%,#d63384 37.6%,#a102b7 42.7%,#9100bd 44.9%,#8800bd 47.1%,#8d00bd 57.3%,#a001b8 60.2%,#cc2890 63.1%,#d63384 64.6%,#bb18a3 68.2%,#9100bd 71.2%,#5500ab 75.5%,#3e039d 78.5%,#4902a4 85.8%,#6500b3 87.2%,#8f00bd 88.7%,#9e00b9 90.1%,#7800ba 93.1%,#40039e 96.7%,#39049a 99.6%)"></i><i style="top:89.29%;height:11.11%;background:linear-gradient(90deg,#7300b9 0.4%,#7700ba 1.8%,#9800bb 4.0%,#d33088 7.7%,#e24274 9.1%,#e14075 9.9%,#c31f9b 12.8%,#cc2891 13.5%,#de3d79 14.2%,#ff7343 15.7%,#ff8b2e 16.4%,#ff9725 17.2%,#ff8f2b 18.6%,#ff7443 20.8%,#e7486d 23.7%,#ed5164 25.2%,#ff7244 27.4%,#ff7145 28.8%,#d93681 37.6%,#a001b8 42.7%,#9100bd 44.9%,#8c00bd 56.6%,#a102b7 60.2%,#cf2b8d 63.1%,#d93681 64.6%,#bd19a1 68.2%,#9e00b9 70.4%,#9100bd 71.2%,#5500ab 75.5%,#3e039d 78.5%,#4902a4 85.8%,#5400aa 86.5%,#8100bc 88.0%,#a404b6 89.4%,#a706b4 90.1%,#8700bd 92.3%,#40039e 96.7%,#39049a 99.6%)"></i></div>
<div class="su" style="left:409.40px;top:73.38px;width:1000px;font-size:52.0px;transform:scale(0.1020,0.1)">Label-visibility-200s</div>
<div class="hm" style="left:392.3px;top:122.8px;width:138.3px;height:28.7px"><i style="top:0.00%;height:7.30%;background:linear-gradient(90deg,#8a00bd 0.4%,#9e00b9 5.4%,#a001b8 8.3%,#9800bc 9.8%,#7100b8 12.7%,#7100b8 13.4%,#9800bc 18.5%,#c11d9d 27.2%,#a101b8 35.9%,#a404b6 38.8%,#bf1b9f 44.6%,#bf1b9f 47.5%,#b613a8 49.6%,#9b00bb 52.5%,#8c00bd 58.3%,#a001b8 63.4%,#b814a6 67.0%,#9e00b9 71.4%,#8200bd 76.4%,#8600bd 82.2%,#3e039d 91.7%,#3a049b 99.6%)"></i><i style="top:6.90%;height:3.85%;background:linear-gradient(90deg,#8200bd 0.4%,#8800bd 2.5%,#9e00b9 5.4%,#a001b8 8.3%,#7600ba 13.4%,#a001b8 19.9%,#c4209a 27.2%,#a001b8 34.4%,#a102b7 37.3%,#be1aa0 44.6%,#bb18a3 48.2%,#a001b8 51.8%,#8f00bd 56.2%,#9100bd 59.8%,#9d00ba 62.7%,#b411aa 67.0%,#9e00b9 70.7%,#8600bd 75.0%,#8400bd 82.2%,#4302a0 90.2%,#3a049b 99.6%)"></i><i style="top:10.34%;height:3.85%;background:linear-gradient(90deg,#7400b9 0.4%,#7800ba 1.8%,#a001b8 6.2%,#9e00b9 9.1%,#8200bd 12.0%,#7e00bc 13.4%,#a102b7 19.9%,#bf1b9f 23.6%,#c92594 27.2%,#b00dad 30.8%,#9d00ba 34.4%,#bd19a1 44.6%,#b411aa 48.9%,#9e00b9 51.8%,#9300bd 54.7%,#9e00b9 62.7%,#ad0bb0 67.0%,#9b00bb 69.9%,#8800bd 73.6%,#8200bd 82.2%,#4e01a7 88.0%,#40039e 90.9%,#3a049b 99.6%)"></i><i style="top:13.79%;height:3.85%;background:linear-gradient(90deg,#6500b3 0.4%,#6900b5 1.8%,#8800bd 4.0%,#a001b8 6.2%,#9e00b9 9.1%,#8600bd 13.4%,#9e00b9 19.2%,#c82396 23.6%,#cf2c8c 26.4%,#cb2792 27.9%,#ad0bb0 30.8%,#9a00bb 34.4%,#bb18a3 43.1%,#b20fab 48.2%,#9300bd 53.3%,#a404b6 67.0%,#8000bc 74.3%,#8200bd 81.5%,#41039f 89.5%,#3a049b 99.6%)"></i><i style="top:17.24%;height:3.85%;background:linear-gradient(90deg,#5700ac 0.4%,#5b00ae 1.8%,#8200bd 4.0%,#a001b8 6.2%,#a001b8 9.1%,#8f00bd 13.4%,#a404b6 19.9%,#cf2c8c 23.6%,#d53286 26.4%,#ce2b8e 27.9%,#aa09b2 30.8%,#9600bc 34.4%,#bd19a1 41.7%,#b00dad 47.5%,#9300bd 52.5%,#a706b4 60.5%,#9a00bb 67.0%,#7c00bb 72.8%,#8600bd 77.9%,#8000bc 81.5%,#41039f 88.8%,#3a049b 99.6%)"></i><i style="top:20.69%;height:3.85%;background:linear-gradient(90deg,#4e01a7 0.4%,#5400aa 1.8%,#8000bc 4.0%,#a001b8 6.2%,#9600bc 12.7%,#a605b5 19.2%,#b00dad 20.7%,#d32f88 23.6%,#d73483 26.4%,#cf2c8c 27.9%,#a001b8 31.5%,#9100bd 34.4%,#b20fab 38.8%,#bd19a1 41.7%,#9100bd 52.5%,#ad0bb0 59.8%,#9300bd 66.3%,#7600ba 72.1%,#8600bd 77.9%,#8000bc 80.8%,#41039f 88.8%,#4302a0 95.3%,#3a049b 99.6%)"></i><i style="top:24.14%;height:3.85%;background:linear-gradient(90deg,#5200a9 0.4%,#5700ac 1.8%,#8200bd 4.0%,#a303b7 6.2%,#9d00ba 13.4%,#b10eac 19.9%,#ce2b8e 23.6%,#d22e8a 26.4%,#ca2693 27.9%,#a303b7 30.8%,#8d00bd 34.4%,#ad0bb0 38.0%,#ba16a4 41.7%,#9e00b9 48.9%,#9300bd 52.5%,#b00dad 59.8%,#9100bd 64.9%,#7400b9 70.7%,#7400b9 74.3%,#8400bd 78.6%,#7a00bb 81.5%,#4302a0 88.8%,#4502a1 94.6%,#3a049b 99.6%)"></i><i style="top:27.59%;height:3.85%;background:linear-gradient(90deg,#5f00b0 0.4%,#6500b3 1.8%,#8c00bd 4.0%,#a605b5 6.2%,#9d00ba 12.0%,#b915a5 17.8%,#c4209a 27.2%,#9d00ba 30.8%,#8a00bd 34.4%,#a907b3 38.0%,#b411aa 40.9%,#a001b8 46.7%,#9600bc 51.1%,#9e00b9 54.0%,#b00dad 56.9%,#b10eac 59.8%,#9300bd 63.4%,#7600ba 67.8%,#7200b9 73.6%,#8200bd 78.6%,#7800ba 81.5%,#4a01a5 88.0%,#4a01a5 93.1%,#3a049b 99.6%)"></i><i style="top:31.03%;height:3.85%;background:linear-gradient(90deg,#6e00b7 0.4%,#7200b9 1.8%,#8800bd 3.3%,#a605b5 5.4%,#9e00b9 12.0%,#be1aa0 16.3%,#c92594 19.9%,#c4209a 21.4%,#a404b6 24.3%,#b20fab 27.9%,#9e00b9 30.1%,#8600bd 34.4%,#a907b3 38.8%,#ad0bb0 41.7%,#9500bc 49.6%,#9e00b9 53.3%,#b411aa 56.2%,#b512a9 58.3%,#ab0ab1 60.5%,#9300bd 62.7%,#7200b9 66.3%,#7200b9 73.6%,#8000bc 78.6%,#5000a8 88.0%,#5000a8 92.4%,#3a049b 99.6%)"></i><i style="top:34.48%;height:3.85%;background:linear-gradient(90deg,#7e00bc 0.4%,#8800bd 2.5%,#aa09b2 5.4%,#a404b6 12.7%,#c62297 16.3%,#d32f88 19.2%,#c62297 21.4%,#a404b6 22.8%,#8a00bd 23.6%,#7400b9 24.3%,#6e00b7 25.0%,#9300bd 26.4%,#a605b5 27.9%,#8400bd 34.4%,#a102b7 38.0%,#a706b4 40.9%,#9300bd 46.0%,#9100bd 48.9%,#9e00b9 52.5%,#ba16a4 56.9%,#b10eac 59.8%,#8c00bd 62.7%,#7800ba 64.1%,#6700b4 67.0%,#7c00bb 78.6%,#5900ad 85.9%,#5500ab 91.7%,#3a049b 99.6%)"></i><i style="top:37.93%;height:3.85%;background:linear-gradient(90deg,#8a00bd 0.4%,#8c00bd 1.8%,#ab0ab1 5.4%,#a303b7 9.1%,#a706b4 12.0%,#d12d8b 17.0%,#db397e 19.9%,#c92594 21.4%,#b20fab 22.1%,#8f00bd 22.8%,#6100b1 23.6%,#41039f 24.3%,#3a049b 25.0%,#7000b8 26.4%,#8d00bd 27.2%,#9a00bb 27.9%,#8600bd 34.4%,#a404b6 39.5%,#8c00bd 48.2%,#9e00b9 51.8%,#be1aa0 56.9%,#b00dad 59.8%,#9300bd 62.0%,#7200b9 64.1%,#6500b3 66.3%,#7a00bb 78.6%,#6100b1 84.4%,#5900ad 91.7%,#3a049b 99.6%)"></i><i style="top:41.38%;height:3.85%;background:linear-gradient(90deg,#9100bd 0.4%,#aa09b2 5.4%,#a303b7 9.1%,#a907b3 10.5%,#e24273 19.9%,#cc2890 21.4%,#b10eac 22.1%,#8200bd 22.8%,#4702a3 23.6%,#20068f 24.3%,#16078a 25.0%,#8200bd 27.2%,#9500bc 27.9%,#9a00bb 28.6%,#8c00bd 34.4%,#a001b8 37.3%,#a404b6 39.5%,#8800bd 48.2%,#9d00ba 51.1%,#c01c9e 56.2%,#b411aa 59.1%,#8f00bd 62.0%,#7000b8 64.1%,#6900b5 65.6%,#6500b3 67.8%,#7400b9 72.1%,#7800ba 77.9%,#6300b2 84.4%,#5900ad 92.4%,#4302a0 96.0%,#3a049b 99.6%)"></i><i style="top:44.83%;height:3.85%;background:linear-gradient(90deg,#9600bc 0.4%,#a706b4 5.4%,#a706b4 9.8%,#c01c9e 12.7%,#cc2890 16.3%,#e94b6a 19.9%,#d22e8a 21.4%,#b512a9 22.1%,#8400bd 22.8%,#4902a4 23.6%,#20068f 24.3%,#16078a 25.0%,#330498 25.7%,#8200bd 27.2%,#9b00bb 28.6%,#9300bd 34.4%,#a706b4 39.5%,#8600bd 48.2%,#a001b8 51.1%,#b613a8 53.3%,#c31f9b 56.2%,#b10eac 59.1%,#9800bc 61.2%,#7800ba 63.4%,#6900b5 66.3%,#7600ba 77.9%,#6700b4 81.5%,#6500b3 89.5%,#4302a0 96.0%,#3a049b 99.6%)"></i><i style="top:48.28%;height:3.85%;background:linear-gradient(90deg,#9b00bb 0.4%,#a404b6 9.1%,#cb2792 12.7%,#cb2792 16.3%,#ef5362 19.9%,#e94b6a 20.7%,#d93680 21.4%,#be1aa0 22.1%,#9600bc 22.8%,#6100b1 23.6%,#40039e 24.3%,#3a049b 25.0%,#4c01a6 25.7%,#8a00bd 27.2%,#9d00ba 28.6%,#9a00bb 34.4%,#ab0ab1 38.8%,#8400bd 48.2%,#9800bc 50.4%,#b613a8 52.5%,#c4209a 56.2%,#9600bc 61.2%,#7200b9 64.1%,#6c00b6 67.8%,#7800ba 75.7%,#6300b2 81.5%,#6b00b5 88.8%,#4302a0 96.0%,#3a049b 99.6%)"></i><i style="top:51.72%;height:3.85%;background:linear-gradient(90deg,#9e00b9 0.4%,#a706b4 9.1%,#d22e8a 12.7%,#ca2693 16.3%,#f45c59 19.9%,#ef5560 20.7%,#e24175 21.4%,#ab0ab1 22.8%,#8600bd 23.6%,#6c00b6 24.3%,#6700b4 25.0%,#9600bc 27.2%,#a102b7 28.6%,#a001b8 34.4%,#ad0bb0 38.8%,#a001b8 41.7%,#8200bd 48.2%,#9a00bb 50.4%,#b915a5 52.5%,#c31f9b 56.2%,#9b00bb 60.5%,#7400b9 64.1%,#7000b8 68.5%,#7a00bb 75.0%,#6100b1 81.5%,#6c00b6 88.8%,#4302a0 96.0%,#3a049b 99.6%)"></i><i style="top:55.17%;height:3.85%;background:linear-gradient(90deg,#9e00b9 0.4%,#ae0caf 5.4%,#ad0bb0 9.1%,#d32f88 12.7%,#c82396 16.3%,#fb694d 19.9%,#f86452 20.7%,#ee5263 21.4%,#a605b5 23.6%,#8f00bd 25.0%,#a706b4 27.9%,#ad0bb0 38.0%,#9d00ba 42.4%,#8200bd 48.9%,#9800bc 50.4%,#b613a8 52.5%,#bf1b9f 56.2%,#9a00bb 60.5%,#7800ba 64.1%,#7200b9 70.7%,#7a00bb 76.4%,#6300b2 81.5%,#6b00b5 88.0%,#4302a0 96.0%,#3a049b 99.6%)"></i><i style="top:58.62%;height:3.85%;background:linear-gradient(90deg,#9d00ba 0.4%,#b915a5 5.4%,#b411aa 9.1%,#cf2c8c 12.7%,#c52198 16.3%,#cf2c8c 17.0%,#fc6a4c 19.2%,#ff793e 19.9%,#ff7a3d 20.7%,#fd6d49 21.4%,#ee5263 22.1%,#bb18a3 23.6%,#a706b4 25.0%,#b512a9 30.8%,#aa09b2 38.0%,#8000bc 48.2%,#8a00bd 49.6%,#a001b8 51.1%,#b10eac 52.5%,#b915a5 55.4%,#9e00b9 59.8%,#7c00bb 64.1%,#7400b9 68.5%,#7c00bb 77.2%,#6700b4 81.5%,#6300b2 88.8%,#3a049b 99.6%)"></i><i style="top:62.07%;height:3.85%;background:linear-gradient(90deg,#9b00bb 0.4%,#9e00b9 1.8%,#c52198 5.4%,#ba16a4 9.1%,#cb2792 12.7%,#c31f9b 16.3%,#e14076 17.8%,#ff7641 19.2%,#ff8b2e 19.9%,#ff9427 20.7%,#ff8e2c 21.4%,#ff7244 22.1%,#ca2693 23.6%,#ba16a4 24.3%,#b512a9 25.0%,#bd19a1 31.5%,#ab0ab1 35.1%,#9e00b9 40.9%,#8000bc 48.2%,#8800bd 49.6%,#aa09b2 52.5%,#b10eac 55.4%,#9d00ba 59.8%,#7e00bc 64.9%,#7400b9 71.4%,#8000bc 77.9%,#6b00b5 81.5%,#3a049b 99.6%)"></i><i style="top:65.52%;height:3.85%;background:linear-gradient(90deg,#9a00bb 0.4%,#a706b4 2.5%,#ce2b8e 5.4%,#c01c9e 9.8%,#c62297 12.7%,#bf1b9f 16.3%,#e14076 17.8%,#ff7d3a 19.2%,#ffa519 20.7%,#ffa817 21.4%,#ff8a2f 22.1%,#f2585d 22.8%,#d43087 23.6%,#c21e9c 24.3%,#bd19a1 25.0%,#c82396 30.8%,#ae0caf 35.1%,#a001b8 39.5%,#8000bc 48.2%,#8600bd 49.6%,#a404b6 52.5%,#a907b3 54.7%,#a706b4 56.9%,#8f00bd 62.0%,#7400b9 70.7%,#8400bd 77.9%,#5900ad 86.6%,#3a049b 99.6%)"></i><i style="top:68.97%;height:3.85%;background:linear-gradient(90deg,#9800bc 0.4%,#a706b4 2.5%,#ce2b8e 4.7%,#d83582 6.2%,#c62297 9.8%,#bb18a3 16.3%,#de3c7a 17.8%,#ff773f 19.2%,#ffa21c 20.7%,#ffa41a 21.4%,#ff8732 22.1%,#f0565f 22.8%,#d43087 23.6%,#c4209a 24.3%,#c01c9e 25.7%,#cd298f 30.8%,#b10eac 35.1%,#a001b8 38.8%,#8200bd 48.2%,#9e00b9 52.5%,#a404b6 55.4%,#8f00bd 62.7%,#9300bd 67.0%,#7800ba 71.4%,#8600bd 77.9%,#5000a8 88.0%,#3a049b 99.6%)"></i><i style="top:72.41%;height:3.85%;background:linear-gradient(90deg,#9500bc 0.4%,#a706b4 2.5%,#d22e8a 4.7%,#dd3b7b 6.2%,#bb18a3 13.4%,#b613a8 16.3%,#d53286 17.8%,#f86253 19.2%,#ff8533 20.7%,#ff8137 21.4%,#fa674e 22.1%,#cb2792 23.6%,#c01c9e 24.3%,#d22e8a 30.8%,#b00dad 35.9%,#9a00bb 40.2%,#8400bd 48.9%,#a404b6 55.4%,#9300bd 62.7%,#ad0bb0 67.0%,#9600bc 69.2%,#7c00bb 71.4%,#7a00bb 74.3%,#8800bd 77.9%,#4a01a5 88.8%,#3a049b 99.6%)"></i><i style="top:75.86%;height:3.85%;background:linear-gradient(90deg,#9300bd 0.4%,#9300bd 1.1%,#a605b5 2.5%,#d43087 4.7%,#e14076 6.2%,#d83582 9.1%,#bd19a1 12.7%,#b10eac 16.3%,#ba16a4 17.0%,#e5466f 19.2%,#f35b5a 20.7%,#ef5362 21.4%,#bf1b9f 23.6%,#ba16a4 24.3%,#d53286 30.8%,#a706b4 37.3%,#9800bc 40.2%,#8600bd 48.9%,#a706b4 56.2%,#9500bc 59.8%,#9500bc 62.0%,#a303b7 64.1%,#c62297 67.0%,#b613a8 68.5%,#9800bc 69.9%,#7c00bb 72.1%,#7a00bb 75.0%,#8800bd 77.9%,#4902a4 88.8%,#3a049b 99.6%)"></i><i style="top:79.31%;height:3.85%;background:linear-gradient(90deg,#8f00bd 0.4%,#9600bc 1.8%,#a404b6 2.5%,#d63384 4.7%,#e44571 6.2%,#df3e78 9.1%,#bb18a3 12.7%,#ab0ab1 15.6%,#b10eac 17.0%,#d63384 19.9%,#d73483 20.7%,#bb18a3 22.8%,#b411aa 24.3%,#cf2c8c 27.9%,#d83582 30.8%,#9e00b9 38.8%,#8d00bd 43.1%,#8800bd 48.2%,#8f00bd 51.8%,#aa09b2 56.2%,#9300bd 59.8%,#9a00bb 62.7%,#ae0caf 64.1%,#ce2b8e 65.6%,#de3c7a 67.0%,#ca2693 68.5%,#a404b6 69.9%,#9100bd 70.7%,#7800ba 73.6%,#8800bd 77.9%,#4702a3 88.8%,#3a049b 99.6%)"></i><i style="top:82.76%;height:3.85%;background:linear-gradient(90deg,#8d00bd 0.4%,#8d00bd 1.1%,#a303b7 2.5%,#d73483 4.7%,#e24175 5.4%,#e84a6c 6.9%,#e44571 9.1%,#b915a5 12.7%,#a706b4 15.6%,#bf1b9f 19.9%,#ae0caf 24.3%,#cd298f 27.2%,#da387f 30.8%,#a303b7 38.0%,#8c00bd 43.1%,#8f00bd 52.5%,#ad0bb0 56.2%,#9100bd 60.5%,#a605b5 63.4%,#b915a5 64.1%,#e24273 65.6%,#ef5560 67.0%,#d93680 68.5%,#ad0bb0 69.9%,#8a00bd 71.4%,#7600ba 74.3%,#8600bd 78.6%,#4502a1 88.8%,#3a049b 99.6%)"></i><i style="top:86.21%;height:3.85%;background:linear-gradient(90deg,#8c00bd 0.4%,#9500bc 1.8%,#a303b7 2.5%,#d83582 4.7%,#e24273 5.4%,#e94b6a 6.9%,#e6476e 9.1%,#b915a5 12.7%,#a605b5 15.6%,#b411aa 19.9%,#a706b4 23.6%,#b512a9 25.0%,#d43087 27.2%,#db397e 30.8%,#a303b7 38.0%,#8c00bd 42.4%,#8c00bd 51.8%,#9b00bb 54.0%,#b814a6 56.9%,#a303b7 58.3%,#9100bd 59.8%,#9800bc 62.0%,#ab0ab1 63.4%,#c52198 64.1%,#e24273 64.9%,#f65e57 65.6%,#fc6b4a 66.3%,#fc6a4c 67.0%,#f3595c 67.8%,#b10eac 69.9%,#9b00bb 70.7%,#8c00bd 71.4%,#7600ba 74.3%,#8600bd 78.6%,#4502a1 88.8%,#3a049b 99.6%)"></i><i style="top:89.66%;height:3.85%;background:linear-gradient(90deg,#8c00bd 0.4%,#9300bd 1.8%,#a303b7 2.5%,#d83582 4.7%,#e24273 5.4%,#ea4c69 6.9%,#e7486d 9.1%,#b915a5 12.7%,#a605b5 15.6%,#b10eac 19.9%,#a605b5 22.8%,#ab0ab1 24.3%,#c4209a 25.7%,#e5466f 27.2%,#dc3a7c 28.6%,#d53286 32.2%,#a303b7 38.0%,#8c00bd 42.4%,#8d00bd 52.5%,#a404b6 54.7%,#d32f88 56.9%,#ca2693 57.6%,#b00dad 58.3%,#9b00bb 59.1%,#9100bd 59.8%,#9800bc 62.0%,#b00dad 63.4%,#cf2c8c 64.1%,#f1575e 64.9%,#ff7b3c 65.6%,#ff8434 66.3%,#ff7a3d 67.0%,#f86452 67.8%,#b20fab 69.9%,#9b00bb 70.7%,#8c00bd 71.4%,#7600ba 74.3%,#8600bd 78.6%,#4502a1 88.8%,#3a049b 99.6%)"></i><i style="top:93.10%;height:3.85%;background:linear-gradient(90deg,#8c00bd 0.4%,#9300bd 1.8%,#a303b7 2.5%,#d83582 4.7%,#e34472 5.4%,#ea4c69 6.9%,#e7486d 9.1%,#b915a5 12.7%,#ad0bb0 14.1%,#a404b6 17.0%,#b00dad 20.7%,#a605b5 23.6%,#b613a8 25.0%,#ca2693 25.7%,#e84a6c 26.4%,#f96550 27.2%,#db397e 29.3%,#d53286 32.2%,#9e00b9 38.8%,#8c00bd 42.4%,#8d00bd 52.5%,#a404b6 54.7%,#b613a8 55.4%,#e94b6a 56.9%,#de3c7a 57.6%,#b915a5 58.3%,#9d00ba 59.1%,#9100bd 59.8%,#9800bc 62.0%,#a001b8 62.7%,#b20fab 63.4%,#d43087 64.1%,#f66055 64.9%,#ff8732 65.6%,#ff8e2c 66.3%,#ff8038 67.0%,#fa674e 67.8%,#b411aa 69.9%,#9b00bb 70.7%,#8c00bd 71.4%,#7600ba 74.3%,#8600bd 78.6%,#4502a1 88.8%,#3a049b 99.6%)"></i><i style="top:96.55%;height:3.85%;background:linear-gradient(90deg,#8c00bd 0.4%,#9300bd 1.8%,#a303b7 2.5%,#d83582 4.7%,#e34472 5.4%,#ea4c69 6.9%,#e7486d 9.1%,#b915a5 12.7%,#ad0bb0 14.1%,#a404b6 17.0%,#b00dad 20.7%,#a605b5 23.6%,#b613a8 25.0%,#ca2693 25.7%,#e84a6c 26.4%,#f96550 27.2%,#db397e 29.3%,#d53286 32.2%,#9e00b9 38.8%,#8c00bd 42.4%,#8d00bd 52.5%,#a404b6 54.7%,#b411aa 55.4%,#df3e78 56.9%,#d43087 57.6%,#b411aa 58.3%,#9b00bb 59.1%,#9100bd 59.8%,#9800bc 62.0%,#b00dad 63.4%,#ce2b8e 64.1%,#ef5362 64.9%,#ff7641 65.6%,#ff8038 66.3%,#ff773f 67.0%,#e5466f 68.5%,#b411aa 69.9%,#9b00bb 70.7%,#8c00bd 71.4%,#7600ba 74.3%,#8600bd 78.6%,#4502a1 88.8%,#3a049b 99.6%)"></i></div>
<div class="su" style="left:410.45px;top:115.88px;width:1000px;font-size:52.0px;transform:scale(0.1020,0.1)">Label-visibility-300s</div>
<div class="hm" style="left:68px;top:318px;width:136.5px;height:28.0px"><i style="top:0.00%;height:14.69%;background:linear-gradient(90deg,#0d0887 0.4%,#0d0887 24.6%,#340498 54.8%,#4a01a5 65.1%,#2c0594 75.4%,#1e068e 83.5%,#2c0594 99.6%)"></i><i style="top:14.29%;height:7.54%;background:linear-gradient(90deg,#0d0887 0.4%,#0f0787 23.9%,#310597 49.6%,#280592 54.8%,#3e039d 58.5%,#4d01a6 64.3%,#2e0595 75.4%,#21068f 84.2%,#2c0594 99.6%)"></i><i style="top:21.43%;height:3.97%;background:linear-gradient(90deg,#0d0887 0.4%,#100788 24.6%,#310597 47.4%,#2f0596 51.8%,#16078a 54.8%,#3a049b 57.7%,#5000a8 64.3%,#2e0595 76.1%,#240691 83.5%,#2c0594 99.6%)"></i><i style="top:25.00%;height:7.54%;background:linear-gradient(90deg,#0d0887 0.4%,#100788 23.2%,#290593 37.1%,#330498 49.6%,#2f0596 51.8%,#100788 54.8%,#39049b 57.7%,#5200a9 65.1%,#310597 75.4%,#270592 83.5%,#2c0594 99.6%)"></i><i style="top:32.14%;height:3.97%;background:linear-gradient(90deg,#0d0887 0.4%,#100788 21.7%,#330498 45.2%,#330498 51.1%,#20068f 54.8%,#3c049c 57.7%,#5400aa 64.3%,#2f0596 77.6%,#280592 84.9%,#2c0594 99.6%)"></i><i style="top:35.71%;height:7.54%;background:linear-gradient(90deg,#0d0887 0.4%,#0d0887 15.8%,#340498 45.2%,#2e0595 54.8%,#5500ab 64.3%,#2f0596 79.0%,#2b0594 99.6%)"></i><i style="top:42.86%;height:7.54%;background:linear-gradient(90deg,#0d0887 0.4%,#0f0787 14.3%,#300596 35.7%,#360499 54.8%,#5500aa 65.1%,#330498 76.1%,#280592 99.6%)"></i><i style="top:50.00%;height:7.54%;background:linear-gradient(90deg,#0d0887 0.4%,#100788 14.3%,#340498 35.7%,#39049a 54.0%,#5100a8 64.3%,#270592 84.9%,#250591 99.6%)"></i><i style="top:57.14%;height:11.11%;background:linear-gradient(90deg,#0d0887 0.4%,#120789 13.6%,#39049a 34.2%,#350499 46.0%,#4d01a6 64.3%,#230690 85.7%,#20068f 99.6%)"></i><i style="top:67.86%;height:14.69%;background:linear-gradient(90deg,#0d0887 0.4%,#16078a 13.6%,#330498 23.9%,#3f039e 32.7%,#38049a 45.2%,#4802a3 63.6%,#21068f 84.9%,#1a068c 99.6%)"></i><i style="top:82.14%;height:14.69%;background:linear-gradient(90deg,#0d0887 0.4%,#0d0887 5.5%,#3a049b 24.6%,#4802a3 34.9%,#3d039d 44.5%,#4502a1 59.9%,#360499 73.9%,#1c068d 85.7%,#17078b 99.6%)"></i><i style="top:96.43%;height:3.97%;background:linear-gradient(90deg,#0d0887 0.4%,#0d0887 4.8%,#40039e 26.1%,#4a01a5 34.2%,#3e039d 44.5%,#4a01a5 55.5%,#350499 74.6%,#1b068d 85.7%,#16078a 99.6%)"></i></div>
<div class="su" style="left:85.25px;top:311.08px;width:1000px;font-size:52.0px;transform:scale(0.1020,0.1)">Prediction-visibility-200s</div>
<div class="hm" style="left:66.4px;top:358px;width:137.2px;height:28.0px"><i style="top:0.00%;height:14.69%;background:linear-gradient(90deg,#0d0887 0.4%,#0d0887 23.0%,#1e068e 45.6%,#350498 55.1%,#5f00b0 64.6%,#340498 75.5%,#1c068d 85.0%,#16078a 99.6%)"></i><i style="top:14.29%;height:11.11%;background:linear-gradient(90deg,#0d0887 0.4%,#0d0887 17.2%,#2a0593 52.2%,#320597 55.8%,#5f00b0 64.6%,#37049a 75.5%,#240691 83.6%,#19068c 99.6%)"></i><i style="top:25.00%;height:11.11%;background:linear-gradient(90deg,#0d0887 0.4%,#0d0887 15.7%,#2c0594 43.4%,#240591 54.4%,#5f00b0 64.6%,#3a049b 75.5%,#280592 84.3%,#1d068e 99.6%)"></i><i style="top:35.71%;height:11.11%;background:linear-gradient(90deg,#0d0887 0.4%,#0f0788 15.0%,#330597 43.4%,#220690 55.1%,#5f00b0 65.3%,#3c049c 75.5%,#2d0595 83.6%,#20068f 99.6%)"></i><i style="top:46.43%;height:7.54%;background:linear-gradient(90deg,#0d0887 0.4%,#330498 42.0%,#270592 54.4%,#5d00af 65.3%,#2c0594 84.3%,#20068f 99.6%)"></i><i style="top:53.57%;height:11.11%;background:linear-gradient(90deg,#0d0887 0.4%,#19068b 13.5%,#310597 24.5%,#350499 44.9%,#2d0595 54.4%,#5a00ae 65.3%,#2c0594 84.3%,#1d068e 99.6%)"></i><i style="top:64.29%;height:14.69%;background:linear-gradient(90deg,#0d0887 0.4%,#0d0887 5.5%,#3a049b 25.2%,#340498 54.4%,#5600ab 65.3%,#2a0593 85.8%,#1b068d 99.6%)"></i><i style="top:78.57%;height:14.69%;background:linear-gradient(90deg,#0d0887 0.4%,#0d0887 5.5%,#38049a 25.2%,#350499 54.4%,#4f00a8 66.1%,#4602a2 74.8%,#260591 88.0%,#1b068d 99.6%)"></i><i style="top:92.86%;height:7.54%;background:linear-gradient(90deg,#0d0887 0.4%,#0d0887 5.5%,#3a049b 30.3%,#350499 55.1%,#4c01a6 66.1%,#4a01a5 74.8%,#2a0593 85.8%,#1b068d 99.6%)"></i></div>
<div class="su" style="left:84.00px;top:351.08px;width:1000px;font-size:52.0px;transform:scale(0.1020,0.1)">Prediction-visibility-300s</div>
<div class="hm" style="left:226px;top:317.8px;width:136.0px;height:27.8px"><i style="top:0.00%;height:14.69%;background:linear-gradient(90deg,#0d0887 0.4%,#0d0887 24.6%,#340498 54.8%,#6100b1 65.1%,#240691 84.2%,#16078a 99.6%)"></i><i style="top:14.29%;height:3.97%;background:linear-gradient(90deg,#0d0887 0.4%,#0d0887 23.9%,#310597 46.7%,#330498 51.8%,#2a0593 54.8%,#4702a3 58.5%,#6500b3 64.3%,#220690 85.7%,#16078a 99.6%)"></i><i style="top:17.86%;height:3.97%;background:linear-gradient(90deg,#0d0887 0.4%,#100788 26.1%,#350499 49.6%,#310597 52.6%,#1d068e 54.8%,#4c01a6 59.2%,#6900b5 65.1%,#3a049b 76.1%,#260591 84.2%,#16078a 99.6%)"></i><i style="top:21.43%;height:7.54%;background:linear-gradient(90deg,#0d0887 0.4%,#100788 24.6%,#38049a 50.4%,#310597 52.6%,#120789 54.8%,#120789 55.5%,#3f039e 57.7%,#4f00a7 59.2%,#6d00b6 65.1%,#40039e 74.6%,#2a0593 83.5%,#19068c 99.6%)"></i><i style="top:28.57%;height:3.97%;background:linear-gradient(90deg,#0d0887 0.4%,#100788 23.2%,#1d068e 34.2%,#39049a 46.0%,#39049a 51.8%,#1b068d 54.8%,#1d068e 55.5%,#5200a9 59.2%,#7000b8 65.1%,#40039e 74.6%,#280592 84.9%,#19068c 99.6%)"></i><i style="top:32.14%;height:3.97%;background:linear-gradient(90deg,#0d0887 0.4%,#130789 25.4%,#20068f 34.9%,#3a049b 45.2%,#3a049b 51.8%,#2a0593 54.8%,#4e01a7 58.5%,#7200b9 64.3%,#6e00b7 66.5%,#40039e 74.6%,#1b068d 93.8%,#1b068d 99.6%)"></i><i style="top:35.71%;height:7.54%;background:linear-gradient(90deg,#0d0887 0.4%,#0d0887 15.1%,#21068f 34.2%,#3d039d 46.0%,#3a049b 54.8%,#7500ba 65.1%,#3e039d 75.4%,#1d068e 93.0%,#1b068d 99.6%)"></i><i style="top:42.86%;height:7.54%;background:linear-gradient(90deg,#0d0887 0.4%,#120789 16.5%,#270592 35.7%,#3e039d 45.2%,#4602a2 54.8%,#7500ba 65.1%,#3e039d 75.4%,#1b068d 95.2%,#1b068d 99.6%)"></i><i style="top:50.00%;height:7.54%;background:linear-gradient(90deg,#0d0887 0.4%,#290593 34.2%,#4c01a6 54.0%,#7100b8 64.3%,#40039e 74.6%,#1b068d 95.2%,#1b068d 99.6%)"></i><i style="top:57.14%;height:11.11%;background:linear-gradient(90deg,#0d0887 0.4%,#3b049c 43.0%,#6e00b7 64.3%,#39049a 77.6%,#1b068d 99.6%)"></i><i style="top:67.86%;height:11.11%;background:linear-gradient(90deg,#0d0887 0.4%,#3d039d 43.8%,#6100b1 55.5%,#6700b4 62.9%,#6500b3 65.8%,#3a049b 76.1%,#1b068d 94.5%,#1a068c 99.6%)"></i><i style="top:78.57%;height:7.54%;background:linear-gradient(90deg,#0d0887 0.4%,#0d0887 4.8%,#340498 24.6%,#3e039d 44.5%,#5e00b0 55.5%,#5b00ae 65.1%,#340498 77.6%,#19068c 94.5%,#19068c 99.6%)"></i><i style="top:85.71%;height:11.11%;background:linear-gradient(90deg,#0d0887 0.4%,#0d0887 4.8%,#3a049b 24.6%,#3e039d 44.5%,#5a00ae 55.5%,#4f00a7 65.8%,#230690 84.9%,#16078a 99.6%)"></i><i style="top:96.43%;height:3.97%;background:linear-gradient(90deg,#0d0887 0.4%,#0d0887 4.8%,#3c049c 23.9%,#3e039d 44.5%,#5900ad 55.5%,#20068f 85.7%,#16078a 99.6%)"></i></div>
<div class="su" style="left:243.00px;top:310.88px;width:1000px;font-size:52.0px;transform:scale(0.1020,0.1)">Prediction-visibility-200s</div>
<div class="hm" style="left:226px;top:358px;width:136.0px;height:28.0px"><i style="top:0.00%;height:14.69%;background:linear-gradient(90deg,#0d0887 0.4%,#0e0887 25.4%,#350498 54.8%,#6100b1 65.1%,#240691 84.2%,#16078a 99.6%)"></i><i style="top:14.29%;height:3.97%;background:linear-gradient(90deg,#0d0887 0.4%,#0d0887 23.9%,#2f0596 46.7%,#2f0596 55.5%,#6300b2 65.1%,#220690 85.7%,#16078a 99.6%)"></i><i style="top:17.86%;height:3.97%;background:linear-gradient(90deg,#0d0887 0.4%,#100788 26.1%,#330498 49.6%,#330498 52.6%,#260591 55.5%,#4a01a5 59.2%,#6300b2 64.3%,#260591 84.2%,#16078a 99.6%)"></i><i style="top:21.43%;height:3.97%;background:linear-gradient(90deg,#0d0887 0.4%,#100788 25.4%,#350499 50.4%,#330498 52.6%,#19068c 55.5%,#4502a1 58.5%,#6500b3 65.1%,#41039f 73.9%,#260591 84.9%,#19068c 99.6%)"></i><i style="top:25.00%;height:7.54%;background:linear-gradient(90deg,#0d0887 0.4%,#100788 23.2%,#370499 51.1%,#340498 52.6%,#100788 55.5%,#4502a1 58.5%,#6700b4 65.1%,#310597 80.5%,#19068c 99.6%)"></i><i style="top:32.14%;height:3.97%;background:linear-gradient(90deg,#0d0887 0.4%,#130789 25.4%,#39049a 50.4%,#370499 52.6%,#220690 55.5%,#4902a4 58.5%,#6900b5 65.1%,#350499 79.0%,#1b068d 93.8%,#1b068d 99.6%)"></i><i style="top:35.71%;height:3.97%;background:linear-gradient(90deg,#0d0887 0.4%,#130789 23.9%,#3a049b 51.1%,#310597 55.5%,#5000a8 59.2%,#6900b5 64.3%,#370499 78.3%,#1b068d 94.5%,#1b068d 99.6%)"></i><i style="top:39.29%;height:7.54%;background:linear-gradient(90deg,#0d0887 0.4%,#17078b 25.4%,#3e039d 54.8%,#6900b5 64.3%,#39049a 77.6%,#1b068d 99.6%)"></i><i style="top:46.43%;height:11.11%;background:linear-gradient(90deg,#0d0887 0.4%,#120789 14.3%,#2c0594 37.1%,#4702a3 54.0%,#6700b4 65.1%,#39049a 77.6%,#1b068d 99.6%)"></i><i style="top:57.14%;height:11.11%;background:linear-gradient(90deg,#0d0887 0.4%,#3b049c 44.5%,#6400b3 64.3%,#39049a 77.6%,#1b068d 99.6%)"></i><i style="top:67.86%;height:11.11%;background:linear-gradient(90deg,#0d0887 0.4%,#0d0887 5.5%,#2e0595 25.4%,#3e039d 45.2%,#5500ab 54.8%,#5e00b0 62.9%,#2b0594 84.2%,#1a068c 99.6%)"></i><i style="top:78.57%;height:11.11%;background:linear-gradient(90deg,#0d0887 0.4%,#0d0887 4.8%,#350499 24.6%,#3e039d 45.2%,#5100a9 54.8%,#5500ab 63.6%,#260591 84.9%,#18068b 99.6%)"></i><i style="top:89.29%;height:11.11%;background:linear-gradient(90deg,#0d0887 0.4%,#0d0887 4.8%,#3c049c 24.6%,#3e039d 45.2%,#4d01a6 62.1%,#21068f 85.7%,#16078a 99.6%)"></i></div>
<div class="su" style="left:243.00px;top:351.08px;width:1000px;font-size:52.0px;transform:scale(0.1020,0.1)">Prediction-visibility-300s</div>
<div class="hm" style="left:68px;top:441px;width:136.0px;height:28.5px"><i style="top:0.00%;height:11.11%;background:linear-gradient(90deg,#0d0887 0.4%,#130789 23.9%,#330498 43.8%,#2c0594 54.8%,#6000b0 65.1%,#3c049c 76.1%,#2c0594 99.6%)"></i><i style="top:10.71%;height:3.97%;background:linear-gradient(90deg,#0d0887 0.4%,#0d0887 16.5%,#330498 43.8%,#280592 54.8%,#5000a8 59.9%,#5d00af 65.1%,#4c01a6 68.0%,#3c049c 76.1%,#2a0593 99.6%)"></i><i style="top:14.29%;height:3.97%;background:linear-gradient(90deg,#0d0887 0.4%,#0d0887 16.5%,#330498 43.8%,#2f0596 51.8%,#20068f 54.8%,#2f0596 57.0%,#5b00ae 59.9%,#5200a9 62.1%,#5900ad 65.1%,#3c049c 68.8%,#4702a3 71.7%,#3c049c 76.1%,#2a0593 99.6%)"></i><i style="top:17.86%;height:3.97%;background:linear-gradient(90deg,#0d0887 0.4%,#0d0887 15.8%,#350499 45.2%,#2f0596 51.8%,#16078a 55.5%,#370499 57.7%,#6900b5 59.9%,#5000a8 62.1%,#5500ab 65.1%,#2a0593 68.0%,#2a0593 68.8%,#4302a0 71.0%,#4502a1 72.4%,#280592 99.6%)"></i><i style="top:21.43%;height:3.97%;background:linear-gradient(90deg,#0d0887 0.4%,#0d0887 15.8%,#350499 45.2%,#2f0596 51.8%,#0d0887 54.8%,#100788 55.5%,#370499 57.7%,#7a00bb 59.9%,#5000a8 62.1%,#5200a9 65.1%,#16078a 68.0%,#19068c 68.8%,#370499 70.2%,#4302a0 71.7%,#280592 99.6%)"></i><i style="top:25.00%;height:3.97%;background:linear-gradient(90deg,#0d0887 0.4%,#0d0887 15.8%,#350499 44.5%,#2f0596 51.8%,#130789 55.5%,#39049a 57.7%,#4e01a7 58.5%,#7000b8 59.2%,#8600bd 59.9%,#5000a8 62.1%,#4e01a7 65.1%,#4502a1 65.8%,#100788 68.0%,#130789 68.8%,#350499 70.2%,#4302a0 71.7%,#260591 99.6%)"></i><i style="top:28.57%;height:3.97%;background:linear-gradient(90deg,#0d0887 0.4%,#0d0887 15.8%,#2e0595 34.2%,#350499 44.5%,#330498 51.1%,#1d068e 54.8%,#3a049b 57.7%,#5000a8 58.5%,#7400b9 59.2%,#8c00bd 59.9%,#4e01a7 62.1%,#4e01a7 65.1%,#1d068e 68.0%,#4302a0 71.7%,#240691 99.6%)"></i><i style="top:32.14%;height:3.97%;background:linear-gradient(90deg,#0d0887 0.4%,#0d0887 15.8%,#330498 38.6%,#330498 51.8%,#280592 54.8%,#3c049c 57.7%,#8400bd 59.9%,#4c01a6 62.1%,#4c01a6 65.1%,#2f0596 68.0%,#4302a0 71.7%,#240691 99.6%)"></i><i style="top:35.71%;height:3.97%;background:linear-gradient(90deg,#0d0887 0.4%,#0d0887 15.1%,#330498 35.7%,#310597 55.5%,#3e039d 57.7%,#4a01a5 58.5%,#7600ba 59.9%,#4a01a5 62.1%,#4c01a6 65.1%,#3c049c 68.0%,#4302a0 71.7%,#220690 99.6%)"></i><i style="top:39.29%;height:3.97%;background:linear-gradient(90deg,#0d0887 0.4%,#0d0887 14.3%,#350499 35.7%,#370499 55.5%,#3e039d 57.7%,#6500b3 59.9%,#4902a4 62.1%,#220690 99.6%)"></i><i style="top:42.86%;height:3.97%;background:linear-gradient(90deg,#0d0887 0.4%,#100788 15.8%,#350499 34.2%,#3c049c 56.2%,#4502a1 58.5%,#5700ac 59.9%,#4902a4 62.1%,#20068f 99.6%)"></i><i style="top:46.43%;height:7.54%;background:linear-gradient(90deg,#0d0887 0.4%,#120789 14.3%,#340498 32.7%,#3e039d 52.6%,#4c01a6 59.9%,#20068f 99.6%)"></i><i style="top:53.57%;height:7.54%;background:linear-gradient(90deg,#0d0887 0.4%,#16078a 15.1%,#39049b 34.9%,#39049b 43.8%,#4b01a5 59.2%,#4a01a5 65.8%,#1d068e 99.6%)"></i><i style="top:60.71%;height:14.69%;background:linear-gradient(90deg,#0d0887 0.4%,#0d0887 5.5%,#350499 27.6%,#40039e 46.0%,#5400aa 55.5%,#1c068d 99.6%)"></i><i style="top:75.00%;height:11.11%;background:linear-gradient(90deg,#0d0887 0.4%,#0d0887 4.8%,#39049a 25.4%,#4402a1 45.2%,#5200a9 54.0%,#19068c 99.6%)"></i><i style="top:85.71%;height:14.69%;background:linear-gradient(90deg,#0d0887 0.4%,#0d0887 4.8%,#3d039d 26.1%,#4d01a6 54.0%,#16078a 99.6%)"></i></div>
<div class="su" style="left:85.00px;top:434.08px;width:1000px;font-size:52.0px;transform:scale(0.1020,0.1)">Prediction-visibility-200s</div>
<div class="hm" style="left:68px;top:482.6px;width:136.0px;height:28.2px"><i style="top:0.00%;height:14.69%;background:linear-gradient(90deg,#0d0887 0.4%,#16078a 26.1%,#4d01a6 66.5%,#6000b1 74.6%,#3c049c 85.7%,#2b0594 99.6%)"></i><i style="top:14.29%;height:3.97%;background:linear-gradient(90deg,#0d0887 0.4%,#0d0887 16.5%,#3a049b 51.8%,#310597 56.2%,#4302a0 60.7%,#40039e 67.3%,#5500ab 71.0%,#5d00af 74.6%,#39049a 86.4%,#2a0593 99.6%)"></i><i style="top:17.86%;height:3.97%;background:linear-gradient(90deg,#0d0887 0.4%,#0d0887 15.8%,#39049a 50.4%,#370499 53.3%,#260591 56.2%,#3e039d 59.2%,#4502a1 62.9%,#41039f 65.1%,#310597 67.3%,#4e01a7 70.2%,#5900ad 73.9%,#350499 87.9%,#280592 99.6%)"></i><i style="top:21.43%;height:3.97%;background:linear-gradient(90deg,#0d0887 0.4%,#0d0887 15.8%,#39049a 51.1%,#350499 53.3%,#16078a 56.2%,#3c049c 59.2%,#41039f 64.3%,#240691 67.3%,#4e01a7 71.0%,#5700ac 74.6%,#370499 86.4%,#280592 99.6%)"></i><i style="top:25.00%;height:7.54%;background:linear-gradient(90deg,#0d0887 0.4%,#0d0887 15.8%,#370499 49.6%,#330498 53.3%,#100788 56.2%,#330498 58.5%,#3d039d 59.9%,#3f039e 64.3%,#1e068e 67.3%,#220690 68.0%,#4602a2 70.2%,#5300a9 73.9%,#290593 93.0%,#250591 99.6%)"></i><i style="top:32.14%;height:3.97%;background:linear-gradient(90deg,#0d0887 0.4%,#0d0887 15.8%,#350499 45.2%,#370499 51.8%,#220690 56.2%,#350499 58.5%,#3e039d 61.4%,#3e039d 64.3%,#2f0596 68.0%,#4502a1 70.2%,#4e01a7 73.2%,#240691 94.5%,#240691 99.6%)"></i><i style="top:35.71%;height:7.54%;background:linear-gradient(90deg,#0d0887 0.4%,#0d0887 14.3%,#350499 44.5%,#2f0596 56.2%,#3c049c 61.4%,#39049b 67.3%,#4b01a5 73.9%,#240691 93.8%,#220690 99.6%)"></i><i style="top:42.86%;height:11.11%;background:linear-gradient(90deg,#0d0887 0.4%,#110788 14.3%,#330498 37.9%,#4702a3 73.9%,#230690 93.0%,#20068f 99.6%)"></i><i style="top:53.57%;height:11.11%;background:linear-gradient(90deg,#0d0887 0.4%,#17078b 15.1%,#350499 32.7%,#4303a0 54.8%,#41039f 75.4%,#20068f 93.8%,#1d068e 99.6%)"></i><i style="top:64.29%;height:14.69%;background:linear-gradient(90deg,#0d0887 0.4%,#1a068c 14.3%,#360499 26.1%,#4901a4 54.0%,#3d039d 75.4%,#1a068c 99.6%)"></i><i style="top:78.57%;height:14.69%;background:linear-gradient(90deg,#0d0887 0.4%,#0d0887 5.5%,#3a049b 25.4%,#4a01a5 52.6%,#17078b 99.6%)"></i><i style="top:92.86%;height:7.54%;background:linear-gradient(90deg,#0d0887 0.4%,#1b068d 12.1%,#3c049c 24.6%,#4b01a5 48.9%,#4a01a5 56.2%,#16078a 93.8%,#16078a 99.6%)"></i></div>
<div class="su" style="left:85.00px;top:475.68px;width:1000px;font-size:52.0px;transform:scale(0.1020,0.1)">Prediction-visibility-300s</div>
<div class="hm" style="left:224.8px;top:441px;width:137.2px;height:28.7px"><i style="top:0.00%;height:14.19%;background:linear-gradient(90deg,#0d0887 0.4%,#140789 14.2%,#4b01a5 55.1%,#3f039e 64.6%,#3e039d 74.8%,#1b068d 99.6%)"></i><i style="top:13.79%;height:10.74%;background:linear-gradient(90deg,#0d0887 0.4%,#19068c 16.4%,#5200a9 54.4%,#1d068e 99.6%)"></i><i style="top:24.14%;height:3.85%;background:linear-gradient(90deg,#0d0887 0.4%,#19068c 15.7%,#4702a3 46.4%,#5b00ae 53.6%,#4702a3 63.9%,#1d068e 99.6%)"></i><i style="top:27.59%;height:3.85%;background:linear-gradient(90deg,#0d0887 0.4%,#19068c 15.0%,#4902a4 46.4%,#5200a9 50.7%,#6900b5 53.6%,#5700ac 56.6%,#4702a3 64.6%,#20068f 99.6%)"></i><i style="top:31.03%;height:3.85%;background:linear-gradient(90deg,#0d0887 0.4%,#16078a 12.8%,#4902a4 45.6%,#5500ab 50.7%,#8200bd 53.6%,#5f00b0 55.8%,#5000a8 60.9%,#20068f 99.6%)"></i><i style="top:34.48%;height:3.85%;background:linear-gradient(90deg,#0d0887 0.4%,#19068c 14.2%,#5400aa 50.0%,#5f00b0 51.5%,#9300bd 52.9%,#9e00b9 53.6%,#6500b3 55.8%,#5d00af 56.6%,#4902a4 65.3%,#20068f 99.6%)"></i><i style="top:37.93%;height:3.85%;background:linear-gradient(90deg,#0d0887 0.4%,#130789 9.9%,#5500ab 50.0%,#6500b3 51.5%,#8400bd 52.2%,#a907b3 52.9%,#b814a6 53.6%,#a605b5 54.4%,#8200bd 55.1%,#6700b4 55.8%,#5d00af 56.6%,#4902a4 66.1%,#20068f 99.6%)"></i><i style="top:41.38%;height:7.30%;background:linear-gradient(90deg,#0d0887 0.4%,#0d0887 5.5%,#5200a9 50.0%,#6400b2 51.5%,#8b00bd 52.2%,#b613a8 52.9%,#c72396 53.6%,#b20fab 54.4%,#8700bd 55.1%,#6600b3 55.8%,#5700ac 57.3%,#20068f 99.6%)"></i><i style="top:48.28%;height:3.85%;background:linear-gradient(90deg,#0d0887 0.4%,#0d0887 5.5%,#5000a8 50.7%,#5d00af 51.5%,#7e00bc 52.2%,#a907b3 52.9%,#b814a6 53.6%,#a404b6 54.4%,#7a00bb 55.1%,#5d00af 55.8%,#5400aa 56.6%,#20068f 94.5%,#20068f 99.6%)"></i><i style="top:51.72%;height:3.85%;background:linear-gradient(90deg,#0d0887 0.4%,#0d0887 5.5%,#3c049c 33.2%,#4c01a6 50.7%,#5400aa 51.5%,#8d00bd 52.9%,#9b00bb 53.6%,#6900b5 55.1%,#4e01a7 56.6%,#4c01a6 64.6%,#20068f 94.5%,#20068f 99.6%)"></i><i style="top:55.17%;height:3.85%;background:linear-gradient(90deg,#0d0887 0.4%,#0d0887 5.5%,#3e039d 34.7%,#4702a3 50.7%,#7200b9 53.6%,#4a01a5 55.8%,#4902a4 56.6%,#4a01a5 66.1%,#1d068e 99.6%)"></i><i style="top:58.62%;height:3.85%;background:linear-gradient(90deg,#0d0887 0.4%,#0d0887 5.5%,#3e039d 34.7%,#4302a0 50.7%,#5000a8 52.9%,#41039f 55.8%,#4a01a5 66.1%,#1d068e 94.5%,#1d068e 99.6%)"></i><i style="top:62.07%;height:3.85%;background:linear-gradient(90deg,#0d0887 0.4%,#0d0887 5.5%,#3e039d 34.7%,#40039e 52.2%,#350499 55.1%,#4a01a5 63.9%,#1d068e 94.5%,#1d068e 99.6%)"></i><i style="top:65.52%;height:3.85%;background:linear-gradient(90deg,#0d0887 0.4%,#0d0887 5.5%,#2f0596 22.3%,#3e039d 34.7%,#3e039d 49.3%,#280592 55.1%,#3e039d 58.0%,#4a01a5 64.6%,#1b068d 99.6%)"></i><i style="top:68.97%;height:10.74%;background:linear-gradient(90deg,#0d0887 0.4%,#0d0887 4.7%,#350499 25.2%,#3d039d 36.1%,#3c049c 50.0%,#350499 52.2%,#20068f 54.4%,#3d039d 58.0%,#4802a3 64.6%,#1a068c 99.6%)"></i><i style="top:79.31%;height:3.85%;background:linear-gradient(90deg,#0d0887 0.4%,#0d0887 4.7%,#350499 25.2%,#3e039d 51.5%,#2f0596 55.1%,#3e039d 57.3%,#4502a1 63.1%,#19068c 94.5%,#19068c 99.6%)"></i><i style="top:82.76%;height:7.30%;background:linear-gradient(90deg,#0d0887 0.4%,#0d0887 4.7%,#250591 13.5%,#350499 25.2%,#4302a0 58.8%,#41039f 67.5%,#19068c 93.8%,#17078b 99.6%)"></i><i style="top:89.66%;height:10.74%;background:linear-gradient(90deg,#0d0887 0.4%,#0d0887 4.7%,#2f0596 19.3%,#4902a4 54.4%,#16078a 99.6%)"></i></div>
<div class="su" style="left:242.40px;top:434.08px;width:1000px;font-size:52.0px;transform:scale(0.1020,0.1)">Prediction-visibility-200s</div>
<div class="hm" style="left:225.5px;top:482.6px;width:137.5px;height:28.8px"><i style="top:0.00%;height:14.19%;background:linear-gradient(90deg,#0d0887 0.4%,#130789 23.6%,#330498 42.4%,#2a0593 55.4%,#3e039d 64.9%,#3d039d 74.3%,#20068f 85.9%,#16078a 99.6%)"></i><i style="top:13.79%;height:3.85%;background:linear-gradient(90deg,#0d0887 0.4%,#0d0887 16.3%,#350499 44.6%,#330498 51.1%,#1d068e 55.4%,#370499 59.1%,#3e039d 64.9%,#3c049c 75.0%,#240691 84.4%,#16078a 99.6%)"></i><i style="top:17.24%;height:10.74%;background:linear-gradient(90deg,#0d0887 0.4%,#0d0887 15.6%,#2e0595 36.6%,#37049a 48.9%,#320597 52.5%,#130789 55.4%,#37049a 58.3%,#3e039d 64.9%,#3a049b 75.0%,#21068f 88.0%,#18068b 99.6%)"></i><i style="top:27.59%;height:3.85%;background:linear-gradient(90deg,#0d0887 0.4%,#0d0887 15.6%,#3c049c 51.1%,#280592 55.4%,#3a049b 57.6%,#40039e 59.8%,#39049a 74.3%,#19068c 99.6%)"></i><i style="top:31.03%;height:3.85%;background:linear-gradient(90deg,#0d0887 0.4%,#0d0887 15.6%,#3e039d 51.1%,#370499 55.4%,#41039f 58.3%,#370499 75.7%,#19068c 99.6%)"></i><i style="top:34.48%;height:3.85%;background:linear-gradient(90deg,#0d0887 0.4%,#0d0887 15.6%,#4502a1 56.9%,#1b068d 99.6%)"></i><i style="top:37.93%;height:3.85%;background:linear-gradient(90deg,#0d0887 0.4%,#0d0887 14.9%,#4c01a6 56.2%,#1b068d 99.6%)"></i><i style="top:41.38%;height:3.85%;background:linear-gradient(90deg,#0d0887 0.4%,#0d0887 12.7%,#350499 44.6%,#4902a4 54.0%,#5900ad 56.2%,#4302a0 60.5%,#1b068d 99.6%)"></i><i style="top:44.83%;height:3.85%;background:linear-gradient(90deg,#0d0887 0.4%,#100788 14.9%,#2f0596 34.4%,#370499 45.3%,#4a01a5 54.0%,#5000a8 54.7%,#6e00b7 56.2%,#6e00b7 56.9%,#4c01a6 58.3%,#4302a0 60.5%,#1b068d 99.6%)"></i><i style="top:48.28%;height:3.85%;background:linear-gradient(90deg,#0d0887 0.4%,#100788 13.4%,#41039f 50.4%,#4a01a5 54.0%,#5400aa 54.7%,#8a00bd 56.2%,#8800bd 56.9%,#5000a8 58.3%,#4702a3 59.1%,#19068c 99.6%)"></i><i style="top:51.72%;height:7.30%;background:linear-gradient(90deg,#0d0887 0.4%,#15078a 14.9%,#290593 25.0%,#4902a4 53.3%,#5700ac 54.7%,#7700ba 55.4%,#9a00bb 56.2%,#9900bb 56.9%,#7300b9 57.6%,#5400aa 58.3%,#4502a1 59.8%,#19068c 99.6%)"></i><i style="top:58.62%;height:3.85%;background:linear-gradient(90deg,#0d0887 0.4%,#130789 12.0%,#2f0596 26.4%,#4702a3 52.5%,#5400aa 54.7%,#8600bd 56.2%,#8600bd 56.9%,#5000a8 58.3%,#4702a3 59.1%,#16078a 99.6%)"></i><i style="top:62.07%;height:3.85%;background:linear-gradient(90deg,#0d0887 0.4%,#16078a 13.4%,#310597 25.7%,#4702a3 52.5%,#5000a8 54.7%,#6c00b6 56.2%,#6b00b5 56.9%,#4c01a6 58.3%,#4302a0 60.5%,#16078a 99.6%)"></i><i style="top:65.52%;height:3.85%;background:linear-gradient(90deg,#0d0887 0.4%,#19068c 14.1%,#330498 25.0%,#3e039d 46.0%,#4c01a6 54.7%,#5900ad 56.2%,#4302a0 60.5%,#16078a 93.8%,#16078a 99.6%)"></i><i style="top:68.97%;height:7.30%;background:linear-gradient(90deg,#0d0887 0.4%,#0d0887 5.4%,#39049a 26.4%,#3f039e 44.6%,#4c01a6 55.4%,#20068f 85.9%,#16078a 99.6%)"></i><i style="top:75.86%;height:10.74%;background:linear-gradient(90deg,#0d0887 0.4%,#0d0887 4.7%,#3f039e 25.7%,#4a01a5 53.3%,#350499 75.0%,#1d068e 87.3%,#16078a 99.6%)"></i><i style="top:86.21%;height:14.19%;background:linear-gradient(90deg,#0d0887 0.4%,#0d0887 4.7%,#330498 15.6%,#4902a4 25.7%,#4b01a5 53.3%,#350499 75.0%,#1d068e 87.3%,#16078a 99.6%)"></i></div>
<div class="su" style="left:243.25px;top:475.68px;width:1000px;font-size:52.0px;transform:scale(0.1020,0.1)">Prediction-visibility-300s</div>
<div class="hm" style="left:391.8px;top:366.4px;width:136.4px;height:28.3px"><i style="top:0.00%;height:11.11%;background:linear-gradient(90deg,#0d0887 0.4%,#0d0887 32.7%,#4302a0 44.5%,#5700ac 51.1%,#5400aa 55.5%,#9600bc 58.5%,#bb18a3 62.1%,#b00ead 63.6%,#9200bd 65.1%,#7400b9 66.5%,#6700b4 68.0%,#100788 84.2%,#0d0887 99.6%)"></i><i style="top:10.71%;height:3.97%;background:linear-gradient(90deg,#0d0887 0.4%,#100788 32.7%,#4502a1 44.5%,#5400aa 51.1%,#5000a8 54.8%,#6100b1 56.2%,#9100bd 58.5%,#b613a8 60.7%,#ae0caf 62.9%,#8a00bd 65.1%,#6700b4 68.0%,#0d0887 84.9%,#0d0887 99.6%)"></i><i style="top:14.29%;height:3.97%;background:linear-gradient(90deg,#0d0887 0.4%,#0d0887 29.8%,#41039f 43.0%,#5200a9 54.8%,#6b00b5 57.0%,#8d00bd 58.5%,#a907b3 59.2%,#bf1b9f 59.9%,#cb2792 60.7%,#c4209a 61.4%,#a303b7 62.9%,#8a00bd 64.3%,#5d00af 69.5%,#100788 84.2%,#0d0887 99.6%)"></i><i style="top:17.86%;height:3.97%;background:linear-gradient(90deg,#0d0887 0.4%,#0d0887 29.8%,#41039f 42.3%,#5400aa 54.8%,#6500b3 57.0%,#8600bd 58.5%,#a303b7 59.2%,#bf1b9f 59.9%,#cc2890 60.7%,#c4209a 61.4%,#ab0ab1 62.1%,#9300bd 62.9%,#7a00bb 64.3%,#100788 84.2%,#0d0887 99.6%)"></i><i style="top:21.43%;height:3.97%;background:linear-gradient(90deg,#0d0887 0.4%,#0d0887 29.0%,#41039f 41.5%,#4a01a5 45.2%,#4902a4 51.8%,#5400aa 54.8%,#6500b3 57.7%,#8000bc 59.2%,#9e00b9 60.7%,#9800bc 61.4%,#7000b8 62.9%,#6b00b5 63.6%,#6c00b6 67.3%,#0d0887 84.9%,#0d0887 99.6%)"></i><i style="top:25.00%;height:3.97%;background:linear-gradient(90deg,#0d0887 0.4%,#0d0887 29.0%,#41039f 40.8%,#4a01a5 44.5%,#4502a1 51.1%,#5b00ae 57.0%,#5400aa 62.9%,#6c00b6 66.5%,#0d0887 84.9%,#0d0887 99.6%)"></i><i style="top:28.57%;height:3.97%;background:linear-gradient(90deg,#0d0887 0.4%,#0d0887 29.0%,#4a01a5 43.8%,#4502a1 51.8%,#5700ac 56.2%,#5500ab 57.7%,#39049a 60.7%,#6b00b5 66.5%,#0d0887 84.9%,#0d0887 99.6%)"></i><i style="top:32.14%;height:3.97%;background:linear-gradient(90deg,#0d0887 0.4%,#0d0887 22.4%,#16078a 26.1%,#100788 29.8%,#4502a1 42.3%,#4c01a6 45.2%,#4502a1 51.8%,#5500ab 56.2%,#5200a9 57.7%,#220690 59.9%,#220690 60.7%,#5200a9 63.6%,#6500b3 66.5%,#0d0887 84.9%,#0d0887 99.6%)"></i><i style="top:35.71%;height:3.97%;background:linear-gradient(90deg,#0d0887 0.4%,#0d0887 22.4%,#19068c 25.4%,#100788 29.8%,#4702a3 43.0%,#4c01a6 46.7%,#4302a0 51.1%,#5400aa 56.2%,#5000a8 57.7%,#130789 59.9%,#130789 60.7%,#4a01a5 62.9%,#6100b1 65.8%,#4502a1 73.9%,#0d0887 84.9%,#0d0887 99.6%)"></i><i style="top:39.29%;height:3.97%;background:linear-gradient(90deg,#0d0887 0.4%,#0d0887 21.7%,#1b068d 25.4%,#100788 29.8%,#4902a4 43.8%,#4302a0 51.8%,#5200a9 56.2%,#5000a8 57.7%,#1d068e 59.9%,#1d068e 60.7%,#5000a8 62.9%,#5d00af 65.8%,#4302a0 73.9%,#0d0887 84.9%,#0d0887 99.6%)"></i><i style="top:42.86%;height:3.97%;background:linear-gradient(90deg,#0d0887 0.4%,#0d0887 19.5%,#220690 26.1%,#130789 29.8%,#4902a4 43.8%,#4c01a6 46.7%,#4302a0 51.8%,#5200a9 57.7%,#370499 59.9%,#370499 60.7%,#5500ab 62.9%,#5b00ae 64.3%,#41039f 73.9%,#0d0887 84.9%,#0d0887 99.6%)"></i><i style="top:46.43%;height:3.97%;background:linear-gradient(90deg,#0d0887 0.4%,#0d0887 18.8%,#2a0593 25.4%,#16078a 29.8%,#4a01a5 45.2%,#4302a0 51.8%,#5500ab 57.7%,#5000a8 60.7%,#5f00b0 62.9%,#40039e 73.9%,#0d0887 84.9%,#0d0887 99.6%)"></i><i style="top:50.00%;height:3.97%;background:linear-gradient(90deg,#0d0887 0.4%,#0d0887 18.0%,#330498 25.4%,#1d068e 31.2%,#280592 37.1%,#4a01a5 46.0%,#4502a1 52.6%,#6900b5 62.1%,#0d0887 84.9%,#0d0887 99.6%)"></i><i style="top:53.57%;height:3.97%;background:linear-gradient(90deg,#0d0887 0.4%,#0d0887 18.0%,#2c0594 21.7%,#3e039d 25.4%,#220690 29.8%,#260591 37.1%,#4a01a5 46.7%,#4302a0 51.1%,#4a01a5 54.8%,#7200b9 62.1%,#130789 82.0%,#0d0887 99.6%)"></i><i style="top:57.14%;height:3.97%;background:linear-gradient(90deg,#0d0887 0.4%,#0d0887 18.0%,#330498 21.7%,#4902a4 25.4%,#240691 30.5%,#240691 37.1%,#4702a3 45.2%,#4302a0 51.8%,#4a01a5 54.8%,#7c00bb 62.1%,#5900ad 66.5%,#100788 82.0%,#0d0887 99.6%)"></i><i style="top:60.71%;height:7.54%;background:linear-gradient(90deg,#0d0887 0.4%,#0f0787 17.3%,#41039f 22.4%,#5400aa 25.4%,#2b0594 29.8%,#230690 35.7%,#4702a3 47.4%,#4203a0 51.8%,#4a01a4 54.8%,#7c00bb 62.1%,#5200a9 67.3%,#290593 77.6%,#0d0887 82.0%,#0d0887 99.6%)"></i><i style="top:67.86%;height:3.97%;background:linear-gradient(90deg,#0d0887 0.4%,#100788 16.5%,#1b068d 18.8%,#4702a3 22.4%,#5500ab 25.4%,#2c0594 29.8%,#220690 33.5%,#3a049b 42.3%,#4702a3 54.8%,#6c00b6 62.1%,#4c01a6 66.5%,#2a0593 76.8%,#0d0887 81.2%,#0d0887 99.6%)"></i><i style="top:71.43%;height:3.97%;background:linear-gradient(90deg,#0d0887 0.4%,#0d0887 15.1%,#19068c 18.0%,#41039f 21.7%,#5500ab 25.4%,#4e01a7 26.8%,#2c0594 29.8%,#240691 33.5%,#3c049c 40.1%,#3c049c 51.1%,#5f00b0 61.4%,#4302a0 67.3%,#240691 77.6%,#0d0887 81.2%,#0d0887 99.6%)"></i><i style="top:75.00%;height:3.97%;background:linear-gradient(90deg,#0d0887 0.4%,#0d0887 14.3%,#220690 18.8%,#4302a0 21.7%,#5500ab 25.4%,#2c0594 29.8%,#240691 32.0%,#260591 34.2%,#41039f 40.1%,#330498 48.2%,#5400aa 60.7%,#220690 77.6%,#0d0887 81.2%,#0d0887 99.6%)"></i><i style="top:78.57%;height:3.97%;background:linear-gradient(90deg,#0d0887 0.4%,#100788 14.3%,#20068f 18.0%,#4902a4 22.4%,#5400aa 25.4%,#2c0594 29.8%,#240691 32.7%,#4902a4 40.8%,#330498 44.5%,#2f0596 48.2%,#4c01a6 59.2%,#220690 76.8%,#0d0887 81.2%,#0d0887 99.6%)"></i><i style="top:82.14%;height:3.97%;background:linear-gradient(90deg,#0d0887 0.4%,#100788 12.9%,#4c01a6 25.4%,#2a0593 29.8%,#260591 32.7%,#4e01a7 40.1%,#2e0595 47.4%,#4702a3 59.2%,#0d0887 81.2%,#0d0887 92.3%,#16078a 96.0%,#0d0887 99.6%)"></i><i style="top:85.71%;height:3.97%;background:linear-gradient(90deg,#0d0887 0.4%,#0d0887 10.7%,#2f0596 18.0%,#41039f 24.6%,#280592 29.8%,#260591 32.7%,#4902a4 37.1%,#5500ab 40.1%,#39049a 44.5%,#2c0594 48.2%,#41039f 59.2%,#0d0887 81.2%,#0d0887 91.5%,#20068f 93.8%,#0d0887 99.6%)"></i><i style="top:89.29%;height:3.97%;background:linear-gradient(90deg,#0d0887 0.4%,#0d0887 10.7%,#39049a 18.8%,#370499 26.1%,#260591 29.8%,#280592 32.7%,#5000a8 37.1%,#5d00af 40.1%,#3c049c 44.5%,#2c0594 48.2%,#3e039d 59.2%,#16078a 73.9%,#0d0887 80.5%,#100788 92.3%,#280592 93.0%,#5500ab 93.8%,#4702a3 94.5%,#260591 95.2%,#0d0887 99.6%)"></i><i style="top:92.86%;height:3.97%;background:linear-gradient(90deg,#0d0887 0.4%,#0d0887 10.7%,#3c049c 18.0%,#240691 30.5%,#2a0593 32.7%,#5700ac 37.1%,#6300b2 40.1%,#2c0594 48.2%,#3a049b 59.2%,#220690 70.2%,#100788 73.9%,#0d0887 91.5%,#130789 92.3%,#2f0596 93.0%,#6e00b7 93.8%,#5900ad 94.5%,#2c0594 95.2%,#0d0887 99.6%)"></i><i style="top:96.43%;height:3.97%;background:linear-gradient(90deg,#0d0887 0.4%,#0d0887 10.7%,#40039e 18.8%,#2c0594 22.4%,#220690 29.8%,#2a0593 32.7%,#5900ad 37.1%,#6500b3 40.1%,#2c0594 48.2%,#39049a 59.2%,#20068f 70.2%,#0d0887 73.9%,#0d0887 91.5%,#100788 92.3%,#330498 93.8%,#0d0887 99.6%)"></i></div>
<div class="su" style="left:409.00px;top:359.48px;width:1000px;font-size:52.0px;transform:scale(0.1020,0.1)">Label-visibility-200s</div>
<div class="hm" style="left:391.8px;top:408.2px;width:137.8px;height:28.3px"><i style="top:0.00%;height:14.69%;background:linear-gradient(90deg,#0d0887 0.4%,#0d0887 39.5%,#4902a4 54.0%,#8000bc 59.1%,#a001b8 61.2%,#a505b5 62.7%,#9c00ba 65.6%,#8300bd 67.8%,#5c00ae 72.1%,#2a0593 76.4%,#0f0788 80.1%,#0d0887 99.6%)"></i><i style="top:14.29%;height:3.97%;background:linear-gradient(90deg,#0d0887 0.4%,#0d0887 39.5%,#5900ad 56.9%,#6700b4 58.3%,#9600bc 61.2%,#9e00b9 62.7%,#9600bc 65.6%,#7a00bb 67.8%,#0d0887 80.1%,#0d0887 99.6%)"></i><i style="top:17.86%;height:3.97%;background:linear-gradient(90deg,#0d0887 0.4%,#0d0887 39.5%,#5700ac 57.6%,#8f00bd 61.2%,#9800bc 62.7%,#9100bd 65.6%,#6500b3 69.2%,#0d0887 80.1%,#0d0887 99.6%)"></i><i style="top:21.43%;height:3.97%;background:linear-gradient(90deg,#0d0887 0.4%,#0d0887 39.5%,#4302a0 51.8%,#5400aa 58.3%,#8800bd 61.2%,#9300bd 62.7%,#8d00bd 65.6%,#5f00b0 69.2%,#0d0887 80.1%,#0d0887 99.6%)"></i><i style="top:25.00%;height:3.97%;background:linear-gradient(90deg,#0d0887 0.4%,#0d0887 39.5%,#4502a1 51.8%,#4a01a5 58.3%,#8000bc 61.2%,#8c00bd 62.7%,#8800bd 65.6%,#5b00ae 69.2%,#0d0887 80.1%,#0d0887 99.6%)"></i><i style="top:28.57%;height:3.97%;background:linear-gradient(90deg,#0d0887 0.4%,#0d0887 39.5%,#4302a0 51.1%,#4902a4 54.7%,#3e039d 58.3%,#5000a8 59.8%,#7600ba 61.2%,#8400bd 62.7%,#8000bc 65.6%,#5700ac 69.2%,#0d0887 80.1%,#0d0887 99.6%)"></i><i style="top:32.14%;height:3.97%;background:linear-gradient(90deg,#0d0887 0.4%,#0d0887 39.5%,#4702a3 51.8%,#4502a1 55.4%,#2e0595 59.1%,#39049a 59.8%,#6900b5 61.2%,#7a00bb 62.7%,#7600ba 65.6%,#5400aa 69.2%,#0d0887 80.1%,#0d0887 99.6%)"></i><i style="top:35.71%;height:3.97%;background:linear-gradient(90deg,#0d0887 0.4%,#0d0887 39.5%,#4702a3 51.1%,#3e039d 56.2%,#1d068e 59.1%,#280592 59.8%,#5d00af 61.2%,#7000b8 62.7%,#6900b5 66.3%,#0d0887 80.1%,#0d0887 99.6%)"></i><i style="top:39.29%;height:3.97%;background:linear-gradient(90deg,#0d0887 0.4%,#0d0887 39.5%,#4902a4 51.1%,#3c049c 56.2%,#20068f 59.1%,#2a0593 59.8%,#5500ab 61.2%,#6700b4 62.7%,#6500b3 65.6%,#0d0887 80.1%,#0d0887 99.6%)"></i><i style="top:42.86%;height:3.97%;background:linear-gradient(90deg,#0d0887 0.4%,#0d0887 39.5%,#4902a4 51.1%,#4302a0 54.7%,#2e0595 59.1%,#5400aa 61.2%,#5f00b0 62.7%,#5b00ae 66.3%,#0d0887 80.1%,#0d0887 99.6%)"></i><i style="top:46.43%;height:3.97%;background:linear-gradient(90deg,#0d0887 0.4%,#0d0887 37.3%,#16078a 40.9%,#4a01a5 51.1%,#370499 58.3%,#5900ad 62.0%,#5d00af 63.4%,#5700ac 67.0%,#0d0887 80.1%,#0d0887 99.6%)"></i><i style="top:50.00%;height:3.97%;background:linear-gradient(90deg,#0d0887 0.4%,#0d0887 36.6%,#19068c 40.9%,#4702a3 49.6%,#4a01a5 54.0%,#41039f 58.3%,#5900ad 62.0%,#6100b1 64.9%,#0d0887 80.1%,#0d0887 99.6%)"></i><i style="top:53.57%;height:3.97%;background:linear-gradient(90deg,#0d0887 0.4%,#0d0887 36.6%,#280592 43.8%,#4502a1 48.9%,#4c01a6 58.3%,#6500b3 64.9%,#5200a9 69.2%,#0d0887 80.1%,#0d0887 99.6%)"></i><i style="top:57.14%;height:3.97%;background:linear-gradient(90deg,#0d0887 0.4%,#0d0887 35.9%,#4a01a5 50.4%,#5900ad 61.2%,#6900b5 64.9%,#6700b4 66.3%,#0d0887 80.1%,#0d0887 99.6%)"></i><i style="top:60.71%;height:3.97%;background:linear-gradient(90deg,#0d0887 0.4%,#0d0887 35.1%,#5700ac 54.0%,#6100b1 58.3%,#5b00ae 62.0%,#6c00b6 65.6%,#240691 75.7%,#100788 80.1%,#0d0887 99.6%)"></i><i style="top:64.29%;height:3.97%;background:linear-gradient(90deg,#0d0887 0.4%,#130789 36.6%,#5900ad 53.3%,#6300b2 56.9%,#5900ad 62.0%,#6b00b5 64.9%,#6300b2 67.0%,#240691 75.7%,#130789 80.1%,#19068c 83.7%,#0d0887 89.5%,#0d0887 99.6%)"></i><i style="top:67.86%;height:3.97%;background:linear-gradient(90deg,#0d0887 0.4%,#0d0887 18.5%,#20068f 28.6%,#19068c 36.6%,#2c0594 43.1%,#6100b1 54.0%,#6300b2 57.6%,#5700ac 62.0%,#6700b4 64.9%,#5f00b0 67.0%,#330498 72.8%,#1b068d 78.6%,#220690 83.7%,#0d0887 90.2%,#0d0887 99.6%)"></i><i style="top:71.43%;height:3.97%;background:linear-gradient(90deg,#0d0887 0.4%,#0d0887 17.8%,#280592 28.6%,#20068f 39.5%,#6700b4 54.7%,#5400aa 62.0%,#5f00b0 66.3%,#310597 72.8%,#20068f 77.2%,#2c0594 83.7%,#0d0887 90.9%,#0d0887 99.6%)"></i><i style="top:75.00%;height:7.54%;background:linear-gradient(90deg,#0d0887 0.4%,#0d0887 17.8%,#230690 22.1%,#320597 29.3%,#220690 40.2%,#310597 43.8%,#5f00b0 50.4%,#6c00b6 54.0%,#5000a8 61.2%,#5a00ae 65.6%,#230690 75.7%,#360499 83.7%,#0d0887 90.9%,#0d0887 99.6%)"></i><i style="top:82.14%;height:7.54%;background:linear-gradient(90deg,#0d0887 0.4%,#0f0787 17.8%,#2b0594 22.8%,#38049a 28.6%,#220690 40.2%,#300596 43.8%,#5f00b0 50.4%,#6900b5 53.3%,#4802a3 61.2%,#4d01a6 66.3%,#1d068e 75.7%,#37049a 83.7%,#120789 89.5%,#16078a 94.6%,#0d0887 99.6%)"></i><i style="top:89.29%;height:3.97%;background:linear-gradient(90deg,#0d0887 0.4%,#0d0887 15.6%,#130789 16.3%,#2c0594 17.0%,#350499 17.8%,#20068f 18.5%,#19068c 19.2%,#2e0595 22.8%,#39049a 27.9%,#220690 40.2%,#6100b1 52.5%,#41039f 61.2%,#4502a1 66.3%,#16078a 76.4%,#2f0596 83.7%,#16078a 87.3%,#100788 90.9%,#16078a 92.4%,#2f0596 93.8%,#310597 94.6%,#130789 96.7%,#0d0887 99.6%)"></i><i style="top:92.86%;height:3.97%;background:linear-gradient(90deg,#0d0887 0.4%,#100788 15.6%,#280592 16.3%,#8a00bd 17.0%,#aa09b2 17.8%,#4702a3 18.5%,#1b068d 19.2%,#39049a 25.7%,#220690 40.2%,#310597 44.6%,#5b00ae 51.1%,#5d00af 53.3%,#3c049c 62.0%,#4302a0 65.6%,#130789 75.7%,#2c0594 83.7%,#100788 87.3%,#0d0887 90.2%,#1b068d 92.4%,#2f0596 93.1%,#6e00b7 93.8%,#7a00bb 94.6%,#39049a 95.3%,#1d068e 96.0%,#0d0887 98.2%,#0d0887 99.6%)"></i><i style="top:96.43%;height:3.97%;background:linear-gradient(90deg,#0d0887 0.4%,#100788 15.6%,#2c0594 16.3%,#9a00bb 17.0%,#bb18a3 17.8%,#4e01a7 18.5%,#1d068e 19.2%,#39049a 25.7%,#220690 40.2%,#2a0593 43.1%,#5900ad 51.1%,#5b00ae 53.3%,#3c049c 60.5%,#41039f 65.6%,#100788 76.4%,#2a0593 83.7%,#130789 86.6%,#0d0887 90.2%,#1b068d 92.4%,#330498 93.1%,#7a00bb 93.8%,#8a00bd 94.6%,#3e039d 95.3%,#1d068e 96.0%,#0d0887 98.2%,#0d0887 99.6%)"></i></div>
<div class="su" style="left:409.70px;top:401.28px;width:1000px;font-size:52.0px;transform:scale(0.1020,0.1)">Label-visibility-300s</div>
<div class="cb" style="left:69.5px;top:116.7px;width:136.2px;height:6.9px;background-image:linear-gradient(90deg,#0d0887,#2a0593,#4203a0,#5900ad,#7200b9,#8c00bd,#a001b8,#b20fab,#c31f9b,#d22e8a,#df3e78,#ea4c69,#f45c59,#fd6d49,#ff7e39,#ff9129,#ffa41a,#ffb90c,#ffd001,#ffe800,#f4ff00)"></div><div class="tk" style="left:17.00px;top:125.32px;width:1000px;font-size:48.0px;transform:scale(0.1050,0.1)">5</div><div class="tm" style="left:69.25px;top:123.6px"></div><div class="tk" style="left:44.24px;top:125.32px;width:1000px;font-size:48.0px;transform:scale(0.1050,0.1)">10</div><div class="tm" style="left:96.49px;top:123.6px"></div><div class="tk" style="left:71.48px;top:125.32px;width:1000px;font-size:48.0px;transform:scale(0.1050,0.1)">15</div><div class="tm" style="left:123.73px;top:123.6px"></div><div class="tk" style="left:98.72px;top:125.32px;width:1000px;font-size:48.0px;transform:scale(0.1050,0.1)">20</div><div class="tm" style="left:150.97px;top:123.6px"></div><div class="tk" style="left:125.96px;top:125.32px;width:1000px;font-size:48.0px;transform:scale(0.1050,0.1)">25</div><div class="tm" style="left:178.21px;top:123.6px"></div><div class="tk" style="left:153.20px;top:125.32px;width:1000px;font-size:48.0px;transform:scale(0.1050,0.1)">30</div><div class="tm" style="left:205.45px;top:123.6px"></div><div class="mu" style="left:207.10px;top:116.76px;font-size:59.0px;transform:scale(0.1040,0.1)">(m)</div>
<div class="cb" style="left:225.2px;top:117.1px;width:137.4px;height:7.1px;background-image:linear-gradient(90deg,#0d0887,#2a0593,#4203a0,#5900ad,#7200b9,#8c00bd,#a001b8,#b20fab,#c31f9b,#d22e8a,#df3e78,#ea4c69,#f45c59,#fd6d49,#ff7e39,#ff9129,#ffa41a,#ffb90c,#ffd001,#ffe800,#f4ff00)"></div><div class="tk" style="left:172.70px;top:125.92px;width:1000px;font-size:48.0px;transform:scale(0.1050,0.1)">5</div><div class="tm" style="left:224.95px;top:124.2px"></div><div class="tk" style="left:200.18px;top:125.92px;width:1000px;font-size:48.0px;transform:scale(0.1050,0.1)">10</div><div class="tm" style="left:252.43px;top:124.2px"></div><div class="tk" style="left:227.66px;top:125.92px;width:1000px;font-size:48.0px;transform:scale(0.1050,0.1)">15</div><div class="tm" style="left:279.91px;top:124.2px"></div><div class="tk" style="left:255.14px;top:125.92px;width:1000px;font-size:48.0px;transform:scale(0.1050,0.1)">20</div><div class="tm" style="left:307.39px;top:124.2px"></div><div class="tk" style="left:282.62px;top:125.92px;width:1000px;font-size:48.0px;transform:scale(0.1050,0.1)">25</div><div class="tm" style="left:334.87px;top:124.2px"></div><div class="tk" style="left:310.10px;top:125.92px;width:1000px;font-size:48.0px;transform:scale(0.1050,0.1)">30</div><div class="tm" style="left:362.35px;top:124.2px"></div><div class="mu" style="left:364.00px;top:117.26px;font-size:59.0px;transform:scale(0.1040,0.1)">(m)</div>
<div class="cb" style="left:68px;top:245.4px;width:136.7px;height:7.0px;background-image:linear-gradient(90deg,#0d0887,#2a0593,#4203a0,#5900ad,#7200b9,#8c00bd,#a001b8,#b20fab,#c31f9b,#d22e8a,#df3e78,#ea4c69,#f45c59,#fd6d49,#ff7e39,#ff9129,#ffa41a,#ffb90c,#ffd001,#ffe800,#f4ff00)"></div><div class="tk" style="left:15.50px;top:254.12px;width:1000px;font-size:48.0px;transform:scale(0.1050,0.1)">5</div><div class="tm" style="left:67.75px;top:252.4px"></div><div class="tk" style="left:42.84px;top:254.12px;width:1000px;font-size:48.0px;transform:scale(0.1050,0.1)">10</div><div class="tm" style="left:95.09px;top:252.4px"></div><div class="tk" style="left:70.18px;top:254.12px;width:1000px;font-size:48.0px;transform:scale(0.1050,0.1)">15</div><div class="tm" style="left:122.43px;top:252.4px"></div><div class="tk" style="left:97.52px;top:254.12px;width:1000px;font-size:48.0px;transform:scale(0.1050,0.1)">20</div><div class="tm" style="left:149.77px;top:252.4px"></div><div class="tk" style="left:124.86px;top:254.12px;width:1000px;font-size:48.0px;transform:scale(0.1050,0.1)">25</div><div class="tm" style="left:177.11px;top:252.4px"></div><div class="tk" style="left:152.20px;top:254.12px;width:1000px;font-size:48.0px;transform:scale(0.1050,0.1)">30</div><div class="tm" style="left:204.45px;top:252.4px"></div><div class="mu" style="left:206.10px;top:245.51px;font-size:59.0px;transform:scale(0.1040,0.1)">(m)</div>
<div class="cb" style="left:225.5px;top:245.3px;width:136.9px;height:7.4px;background-image:linear-gradient(90deg,#0d0887,#2a0593,#4203a0,#5900ad,#7200b9,#8c00bd,#a001b8,#b20fab,#c31f9b,#d22e8a,#df3e78,#ea4c69,#f45c59,#fd6d49,#ff7e39,#ff9129,#ffa41a,#ffb90c,#ffd001,#ffe800,#f4ff00)"></div><div class="tk" style="left:173.00px;top:254.42px;width:1000px;font-size:48.0px;transform:scale(0.1050,0.1)">5</div><div class="tm" style="left:225.25px;top:252.7px"></div><div class="tk" style="left:200.38px;top:254.42px;width:1000px;font-size:48.0px;transform:scale(0.1050,0.1)">10</div><div class="tm" style="left:252.63px;top:252.7px"></div><div class="tk" style="left:227.76px;top:254.42px;width:1000px;font-size:48.0px;transform:scale(0.1050,0.1)">15</div><div class="tm" style="left:280.01px;top:252.7px"></div><div class="tk" style="left:255.14px;top:254.42px;width:1000px;font-size:48.0px;transform:scale(0.1050,0.1)">20</div><div class="tm" style="left:307.39px;top:252.7px"></div><div class="tk" style="left:282.52px;top:254.42px;width:1000px;font-size:48.0px;transform:scale(0.1050,0.1)">25</div><div class="tm" style="left:334.77px;top:252.7px"></div><div class="tk" style="left:309.90px;top:254.42px;width:1000px;font-size:48.0px;transform:scale(0.1050,0.1)">30</div><div class="tm" style="left:362.15px;top:252.7px"></div><div class="mu" style="left:363.80px;top:245.61px;font-size:59.0px;transform:scale(0.1040,0.1)">(m)</div>
<div class="cb" style="left:392.3px;top:167.1px;width:138.0px;height:7.2px;background-image:linear-gradient(90deg,#0d0887,#2a0593,#4203a0,#5900ad,#7200b9,#8c00bd,#a001b8,#b20fab,#c31f9b,#d22e8a,#df3e78,#ea4c69,#f45c59,#fd6d49,#ff7e39,#ff9129,#ffa41a,#ffb90c,#ffd001,#ffe800,#f4ff00)"></div><div class="tk" style="left:339.80px;top:176.02px;width:1000px;font-size:48.0px;transform:scale(0.1050,0.1)">5</div><div class="tm" style="left:392.05px;top:174.3px"></div><div class="tk" style="left:367.40px;top:176.02px;width:1000px;font-size:48.0px;transform:scale(0.1050,0.1)">10</div><div class="tm" style="left:419.65px;top:174.3px"></div><div class="tk" style="left:395.00px;top:176.02px;width:1000px;font-size:48.0px;transform:scale(0.1050,0.1)">15</div><div class="tm" style="left:447.25px;top:174.3px"></div><div class="tk" style="left:422.60px;top:176.02px;width:1000px;font-size:48.0px;transform:scale(0.1050,0.1)">20</div><div class="tm" style="left:474.85px;top:174.3px"></div><div class="tk" style="left:450.20px;top:176.02px;width:1000px;font-size:48.0px;transform:scale(0.1050,0.1)">25</div><div class="tm" style="left:502.45px;top:174.3px"></div><div class="tk" style="left:477.80px;top:176.02px;width:1000px;font-size:48.0px;transform:scale(0.1050,0.1)">30</div><div class="tm" style="left:530.05px;top:174.3px"></div><div class="mu" style="left:531.70px;top:167.31px;font-size:59.0px;transform:scale(0.1040,0.1)">(m)</div>
<div class="cb" style="left:66.4px;top:401.8px;width:138.2px;height:7.3px;background-image:linear-gradient(90deg,#0d0887,#2a0593,#4203a0,#5900ad,#7200b9,#8c00bd,#a001b8,#b20fab,#c31f9b,#d22e8a,#df3e78,#ea4c69,#f45c59,#fd6d49,#ff7e39,#ff9129,#ffa41a,#ffb90c,#ffd001,#ffe800,#f4ff00)"></div><div class="tk" style="left:13.90px;top:410.82px;width:1000px;font-size:48.0px;transform:scale(0.1050,0.1)">5</div><div class="tm" style="left:66.15px;top:409.1px"></div><div class="tk" style="left:41.54px;top:410.82px;width:1000px;font-size:48.0px;transform:scale(0.1050,0.1)">10</div><div class="tm" style="left:93.79px;top:409.1px"></div><div class="tk" style="left:69.18px;top:410.82px;width:1000px;font-size:48.0px;transform:scale(0.1050,0.1)">15</div><div class="tm" style="left:121.43px;top:409.1px"></div><div class="tk" style="left:96.82px;top:410.82px;width:1000px;font-size:48.0px;transform:scale(0.1050,0.1)">20</div><div class="tm" style="left:149.07px;top:409.1px"></div><div class="tk" style="left:124.46px;top:410.82px;width:1000px;font-size:48.0px;transform:scale(0.1050,0.1)">25</div><div class="tm" style="left:176.71px;top:409.1px"></div><div class="tk" style="left:152.10px;top:410.82px;width:1000px;font-size:48.0px;transform:scale(0.1050,0.1)">30</div><div class="tm" style="left:204.35px;top:409.1px"></div><div class="mu" style="left:206.00px;top:402.06px;font-size:59.0px;transform:scale(0.1040,0.1)">(m)</div>
<div class="cb" style="left:226px;top:401.5px;width:137.2px;height:7.4px;background-image:linear-gradient(90deg,#0d0887,#2a0593,#4203a0,#5900ad,#7200b9,#8c00bd,#a001b8,#b20fab,#c31f9b,#d22e8a,#df3e78,#ea4c69,#f45c59,#fd6d49,#ff7e39,#ff9129,#ffa41a,#ffb90c,#ffd001,#ffe800,#f4ff00)"></div><div class="tk" style="left:173.50px;top:410.62px;width:1000px;font-size:48.0px;transform:scale(0.1050,0.1)">5</div><div class="tm" style="left:225.75px;top:408.9px"></div><div class="tk" style="left:200.94px;top:410.62px;width:1000px;font-size:48.0px;transform:scale(0.1050,0.1)">10</div><div class="tm" style="left:253.19px;top:408.9px"></div><div class="tk" style="left:228.38px;top:410.62px;width:1000px;font-size:48.0px;transform:scale(0.1050,0.1)">15</div><div class="tm" style="left:280.63px;top:408.9px"></div><div class="tk" style="left:255.82px;top:410.62px;width:1000px;font-size:48.0px;transform:scale(0.1050,0.1)">20</div><div class="tm" style="left:308.07px;top:408.9px"></div><div class="tk" style="left:283.26px;top:410.62px;width:1000px;font-size:48.0px;transform:scale(0.1050,0.1)">25</div><div class="tm" style="left:335.51px;top:408.9px"></div><div class="tk" style="left:310.70px;top:410.62px;width:1000px;font-size:48.0px;transform:scale(0.1050,0.1)">30</div><div class="tm" style="left:362.95px;top:408.9px"></div><div class="mu" style="left:364.60px;top:401.81px;font-size:59.0px;transform:scale(0.1040,0.1)">(m)</div>
<div class="cb" style="left:68px;top:526px;width:135.6px;height:7.6px;background-image:linear-gradient(90deg,#0d0887,#2a0593,#4203a0,#5900ad,#7200b9,#8c00bd,#a001b8,#b20fab,#c31f9b,#d22e8a,#df3e78,#ea4c69,#f45c59,#fd6d49,#ff7e39,#ff9129,#ffa41a,#ffb90c,#ffd001,#ffe800,#f4ff00)"></div><div class="tk" style="left:15.50px;top:535.32px;width:1000px;font-size:48.0px;transform:scale(0.1050,0.1)">5</div><div class="tm" style="left:67.75px;top:533.6px"></div><div class="tk" style="left:42.62px;top:535.32px;width:1000px;font-size:48.0px;transform:scale(0.1050,0.1)">10</div><div class="tm" style="left:94.87px;top:533.6px"></div><div class="tk" style="left:69.74px;top:535.32px;width:1000px;font-size:48.0px;transform:scale(0.1050,0.1)">15</div><div class="tm" style="left:121.99px;top:533.6px"></div><div class="tk" style="left:96.86px;top:535.32px;width:1000px;font-size:48.0px;transform:scale(0.1050,0.1)">20</div><div class="tm" style="left:149.11px;top:533.6px"></div><div class="tk" style="left:123.98px;top:535.32px;width:1000px;font-size:48.0px;transform:scale(0.1050,0.1)">25</div><div class="tm" style="left:176.23px;top:533.6px"></div><div class="tk" style="left:151.10px;top:535.32px;width:1000px;font-size:48.0px;transform:scale(0.1050,0.1)">30</div><div class="tm" style="left:203.35px;top:533.6px"></div><div class="mu" style="left:205.00px;top:526.41px;font-size:59.0px;transform:scale(0.1040,0.1)">(m)</div>
<div class="cb" style="left:225.5px;top:526px;width:137.5px;height:7.6px;background-image:linear-gradient(90deg,#0d0887,#2a0593,#4203a0,#5900ad,#7200b9,#8c00bd,#a001b8,#b20fab,#c31f9b,#d22e8a,#df3e78,#ea4c69,#f45c59,#fd6d49,#ff7e39,#ff9129,#ffa41a,#ffb90c,#ffd001,#ffe800,#f4ff00)"></div><div class="tk" style="left:173.00px;top:535.32px;width:1000px;font-size:48.0px;transform:scale(0.1050,0.1)">5</div><div class="tm" style="left:225.25px;top:533.6px"></div><div class="tk" style="left:200.50px;top:535.32px;width:1000px;font-size:48.0px;transform:scale(0.1050,0.1)">10</div><div class="tm" style="left:252.75px;top:533.6px"></div><div class="tk" style="left:228.00px;top:535.32px;width:1000px;font-size:48.0px;transform:scale(0.1050,0.1)">15</div><div class="tm" style="left:280.25px;top:533.6px"></div><div class="tk" style="left:255.50px;top:535.32px;width:1000px;font-size:48.0px;transform:scale(0.1050,0.1)">20</div><div class="tm" style="left:307.75px;top:533.6px"></div><div class="tk" style="left:283.00px;top:535.32px;width:1000px;font-size:48.0px;transform:scale(0.1050,0.1)">25</div><div class="tm" style="left:335.25px;top:533.6px"></div><div class="tk" style="left:310.50px;top:535.32px;width:1000px;font-size:48.0px;transform:scale(0.1050,0.1)">30</div><div class="tm" style="left:362.75px;top:533.6px"></div><div class="mu" style="left:364.40px;top:526.41px;font-size:59.0px;transform:scale(0.1040,0.1)">(m)</div>
<div class="cb" style="left:391.8px;top:451.8px;width:137.5px;height:7.2px;background-image:linear-gradient(90deg,#0d0887,#2a0593,#4203a0,#5900ad,#7200b9,#8c00bd,#a001b8,#b20fab,#c31f9b,#d22e8a,#df3e78,#ea4c69,#f45c59,#fd6d49,#ff7e39,#ff9129,#ffa41a,#ffb90c,#ffd001,#ffe800,#f4ff00)"></div><div class="tk" style="left:339.30px;top:460.72px;width:1000px;font-size:48.0px;transform:scale(0.1050,0.1)">5</div><div class="tm" style="left:391.55px;top:459.0px"></div><div class="tk" style="left:366.80px;top:460.72px;width:1000px;font-size:48.0px;transform:scale(0.1050,0.1)">10</div><div class="tm" style="left:419.05px;top:459.0px"></div><div class="tk" style="left:394.30px;top:460.72px;width:1000px;font-size:48.0px;transform:scale(0.1050,0.1)">15</div><div class="tm" style="left:446.55px;top:459.0px"></div><div class="tk" style="left:421.80px;top:460.72px;width:1000px;font-size:48.0px;transform:scale(0.1050,0.1)">20</div><div class="tm" style="left:474.05px;top:459.0px"></div><div class="tk" style="left:449.30px;top:460.72px;width:1000px;font-size:48.0px;transform:scale(0.1050,0.1)">25</div><div class="tm" style="left:501.55px;top:459.0px"></div><div class="tk" style="left:476.80px;top:460.72px;width:1000px;font-size:48.0px;transform:scale(0.1050,0.1)">30</div><div class="tm" style="left:529.05px;top:459.0px"></div><div class="mu" style="left:530.70px;top:452.01px;font-size:59.0px;transform:scale(0.1040,0.1)">(m)</div>
<div class="ti" style="left:94.30px;top:9.02px;font-size:80.0px;transform:scale(0.0999,0.1)">Prediction horizon -- 30s</div>
<div class="ti" style="left:250.00px;top:9.12px;font-size:80.0px;transform:scale(0.0994,0.1)">Prediction horizon -- 60s</div>
<div class="ti" style="left:93.70px;top:139.12px;font-size:80.0px;transform:scale(0.1004,0.1)">Prediction horizon -- 90s</div>
<div class="ti" style="left:247.80px;top:138.92px;font-size:80.0px;transform:scale(0.0996,0.1)">Prediction horizon -- 120s</div>
<div class="ti" style="left:431.60px;top:59.92px;font-size:80.0px;transform:scale(0.1002,0.1)">CFD simulation</div>
<div class="ti" style="left:94.50px;top:294.42px;font-size:80.0px;transform:scale(0.0994,0.1)">Prediction horizon -- 30s</div>
<div class="ti" style="left:249.50px;top:294.92px;font-size:80.0px;transform:scale(0.0994,0.1)">Prediction horizon -- 60s</div>
<div class="ti" style="left:96.90px;top:422.92px;font-size:80.0px;transform:scale(0.0993,0.1)">Prediction horizon -- 90s</div>
<div class="ti" style="left:251.90px;top:423.12px;font-size:80.0px;transform:scale(0.0993,0.1)">Prediction horizon-- 120s</div>
<div class="ti" style="left:435.70px;top:345.72px;font-size:80.0px;transform:scale(0.0993,0.1)">CFD simulation</div>
<div class="lb" style="left:6.10px;top:141.02px;font-size:98.0px;transform:scale(0.0983,0.1)">(a) Case A</div>
<div class="lb" style="left:10.40px;top:426.23px;font-size:93.0px;transform:scale(0.1044,0.1)">(b) Case B</div>
<div class="lb" style="left:366.80px;top:421.89px;font-size:78.0px;transform:scale(0.1061,0.1)">(b)</div>
</body></html>
